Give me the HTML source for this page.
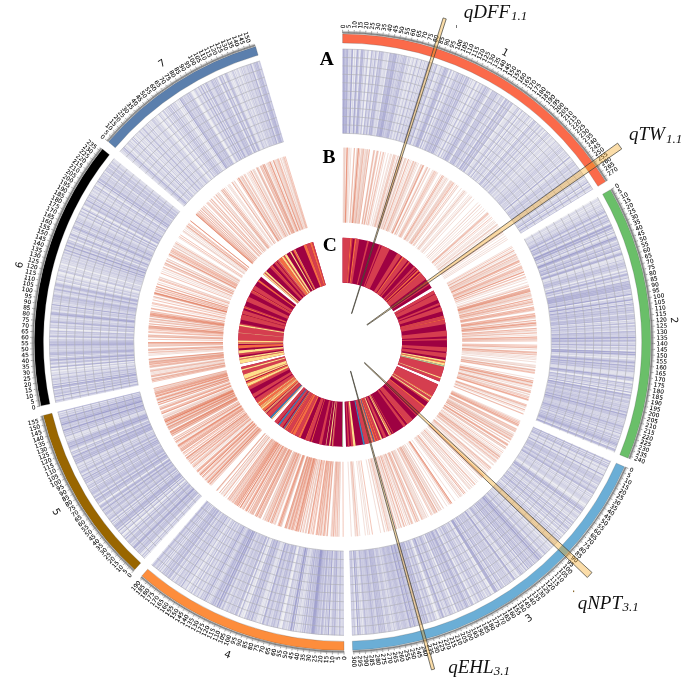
<!DOCTYPE html>
<html><head><meta charset="utf-8"><title>Circos</title>
<style>html,body{margin:0;padding:0;background:#fff;}svg{display:block;}</style>
</head><body><svg width="685" height="685" viewBox="0 0 685 685"><path d="M342.6 49A293.2 293.2 0 0 1 592.86 189.44L520.91 233.36A208.9 208.9 0 0 0 342.6 133.3Z" fill="#efeff2"/><path d="M597.41 197.15A293.2 293.2 0 0 1 614.26 452.51L536.15 420.79A208.9 208.9 0 0 0 524.15 238.86Z" fill="#efeff2"/><path d="M610.76 460.75A293.2 293.2 0 0 1 352.17 635.24L349.42 550.99A208.9 208.9 0 0 0 533.66 426.67Z" fill="#efeff2"/><path d="M343.93 635.4A293.2 293.2 0 0 1 151.6 564.65L206.51 500.69A208.9 208.9 0 0 0 343.55 551.1Z" fill="#efeff2"/><path d="M144.78 558.61A293.2 293.2 0 0 1 57.8 411.89L139.69 391.85A208.9 208.9 0 0 0 201.66 496.39Z" fill="#efeff2"/><path d="M55.72 402.76A293.2 293.2 0 0 1 114.1 158.48L179.8 211.3A208.9 208.9 0 0 0 138.2 385.35Z" fill="#efeff2"/><path d="M119.82 151.59A293.2 293.2 0 0 1 259.82 60.93L283.62 141.8A208.9 208.9 0 0 0 183.87 206.39Z" fill="#efeff2"/><path d="M342.82 133.3L342.91 49M342.89 133.3L343.01 49M343.71 133.3L344.16 49M344.17 133.31L344.8 49.01M344.33 133.31L345.02 49.01M344.79 133.31L345.67 49.02M345.35 133.32L346.46 49.03M345.57 133.32L346.77 49.03M345.78 133.32L347.06 49.03M345.95 133.33L347.3 49.04M346.8 133.34L348.5 49.06M347.62 133.36L349.64 49.08M347.83 133.37L349.95 49.09M348.29 133.38L350.59 49.11M348.95 133.4L351.51 49.14M349.78 133.42L352.68 49.17M349.85 133.43L352.78 49.18M351.29 133.48L354.8 49.25M351.48 133.49L355.07 49.27M353.43 133.58L357.79 49.39M353.87 133.6L358.41 49.43M354.25 133.63L358.95 49.46M354.3 133.63L359.03 49.46M355.66 133.71L360.94 49.57M355.94 133.73L361.33 49.6M356.09 133.74L361.54 49.61M356.21 133.74L361.7 49.62M356.24 133.75L361.74 49.63M356.35 133.75L361.9 49.64M356.6 133.77L362.26 49.66M357.19 133.81L363.08 49.72M357.7 133.85L363.79 49.77M358.34 133.89L364.7 49.83M358.47 133.9L364.87 49.85M358.63 133.92L365.09 49.86M359.82 134.01L366.78 50M360.57 134.07L367.82 50.09M361.01 134.11L368.43 50.14M363.27 134.33L371.61 50.44M363.66 134.36L372.16 50.49M364.01 134.4L372.65 50.54M364.08 134.41L372.75 50.55M364.95 134.5L373.97 50.68M365.08 134.51L374.16 50.7M366.02 134.62L375.47 50.85M366.3 134.65L375.86 50.89M366.53 134.68L376.19 50.93M367.1 134.74L376.99 51.02M367.5 134.79L377.54 51.09M369.46 135.03L380.3 51.43M369.57 135.05L380.45 51.45M369.89 135.09L380.9 51.51M370.19 135.13L381.32 51.57M371.23 135.27L382.79 51.77M371.46 135.3L383.1 51.81M372.72 135.48L384.87 52.06M373.51 135.6L385.98 52.23M374.01 135.67L386.68 52.33M374.63 135.77L387.56 52.47M374.98 135.82L388.04 52.54M376.77 136.11L390.56 52.95M376.87 136.13L390.7 52.97M377.52 136.24L391.62 53.13M377.64 136.26L391.78 53.15M377.75 136.28L391.93 53.18M377.9 136.3L392.15 53.22M378.25 136.36L392.64 53.3M378.37 136.39L392.81 53.33M378.6 136.43L393.13 53.39M379.31 136.55L394.13 53.56M379.39 136.57L394.24 53.58M379.52 136.59L394.42 53.62M379.67 136.61L394.63 53.65M379.74 136.63L394.73 53.67M379.82 136.64L394.84 53.69M380.12 136.7L395.26 53.77M380.36 136.74L395.6 53.83M380.64 136.79L395.99 53.9M381.38 136.93L397.02 54.1M383.23 137.29L399.63 54.6M383.71 137.38L400.3 54.73M384.01 137.45L400.72 54.82M384.69 137.58L401.67 55.01M385.8 137.82L403.23 55.34M387.21 138.12L405.21 55.76M387.43 138.17L405.52 55.83M387.76 138.24L405.99 55.93M388.18 138.33L406.57 56.06M388.45 138.39L406.95 56.15M388.95 138.51L407.65 56.31M389.82 138.71L408.87 56.59M392.37 139.32L412.46 57.44M393.78 139.67L414.44 57.94M394.98 139.97L416.12 58.37M396.57 140.39L418.34 58.95M397.01 140.51L418.97 59.12M397.97 140.77L420.32 59.49M400.05 141.36L423.23 60.31M400.38 141.45L423.7 60.44M401.4 141.75L425.13 60.86M402.43 142.05L426.57 61.28M402.66 142.12L426.89 61.38M403.41 142.35L427.94 61.7M403.85 142.48L428.57 61.89M404.08 142.55L428.89 61.99M406.02 143.16L431.61 62.84M406.83 143.42L432.75 63.2M407.71 143.71L433.99 63.61M407.85 143.75L434.18 63.67M409.12 144.17L435.96 64.26M409.69 144.37L436.76 64.53M410.34 144.59L437.68 64.84M411.55 145.01L439.37 65.43M412.43 145.32L440.61 65.87M415.12 146.29L444.38 67.23M415.63 146.48L445.1 67.5M415.82 146.55L445.37 67.6M416.51 146.81L446.33 67.96M416.86 146.94L446.83 68.15M417.86 147.33L448.23 68.69M418.38 147.53L448.97 68.97M419.85 148.11L451.02 69.78M420.59 148.4L452.06 70.2M422.16 149.04L454.26 71.1M422.9 149.35L455.3 71.52M423.56 149.63L456.23 71.91M424.06 149.84L456.94 72.21M424.26 149.92L457.21 72.33M425.23 150.33L458.57 72.91M425.55 150.47L459.02 73.1M425.57 150.48L459.05 73.12M425.76 150.57L459.32 73.24M426.98 151.1L461.04 73.99M427.2 151.2L461.34 74.12M427.47 151.32L461.72 74.29M427.64 151.39L461.96 74.4M428.08 151.59L462.58 74.67M428.69 151.86L463.43 75.05M429.7 152.32L464.85 75.7M429.77 152.36L464.94 75.75M430.04 152.48L465.32 75.92M430.72 152.8L466.28 76.36M431.22 153.03L466.98 76.69M431.62 153.22L467.55 76.96M431.98 153.39L468.05 77.19M432.92 153.83L469.37 77.82M433.88 154.3L470.71 78.47M434.1 154.41L471.02 78.62M434.31 154.51L471.32 78.77M435.23 154.96L472.61 79.4M435.42 155.05L472.88 79.53M435.63 155.16L473.17 79.68M436.72 155.71L474.7 80.45M437.69 156.2L476.07 81.14M437.95 156.33L476.42 81.32M438.03 156.37L476.54 81.38M438.72 156.73L477.5 81.88M440.79 157.81L480.41 83.41M440.98 157.92L480.68 83.55M441.66 158.28L481.64 84.07M442.33 158.64L482.57 84.57M442.56 158.77L482.9 84.75M443.02 159.02L483.54 85.09M443.44 159.25L484.13 85.42M444.47 159.82L485.58 86.22M444.9 160.07L486.19 86.57M445 160.12L486.33 86.64M445.34 160.31L486.81 86.91M446.47 160.96L488.39 87.82M447.25 161.41L489.49 88.45M447.34 161.46L489.61 88.52M447.66 161.64L490.06 88.78M448.16 161.93L490.75 89.18M449.59 162.78L492.76 90.37M449.76 162.88L493 90.51M450.23 163.16L493.66 90.91M450.31 163.21L493.78 90.98M451.55 163.96L495.52 92.04M451.71 164.06L495.74 92.17M451.77 164.1L495.83 92.22M452.08 164.29L496.26 92.49M452.23 164.38L496.47 92.62M452.85 164.76L497.34 93.16M452.9 164.79L497.41 93.2M453.47 165.15L498.22 93.7M453.71 165.3L498.54 93.91M454.04 165.5L499 94.2M454.38 165.72L499.48 94.5M454.77 165.97L500.03 94.85M456.41 167.03L502.34 96.34M456.82 167.29L502.92 96.71M456.9 167.35L503.03 96.78M457.31 167.61L503.61 97.16M458.93 168.68L505.87 98.66M459.06 168.77L506.05 98.79M459.12 168.82L506.15 98.85M459.85 169.31L507.16 99.54M460.32 169.63L507.82 99.99M461.37 170.35L509.3 101M462.08 170.84L510.3 101.69M462.74 171.3L511.22 102.34M463.07 171.53L511.68 102.66M463.17 171.61L511.83 102.77M463.43 171.79L512.2 103.03M463.6 171.91L512.43 103.2M463.76 172.02L512.65 103.35M463.99 172.19L512.97 103.58M465.39 173.2L514.94 105M465.97 173.62L515.75 105.59M466.54 174.04L516.56 106.18M467.3 174.6L517.62 106.97M467.35 174.64L517.69 107.02M467.94 175.08L518.52 107.64M469.91 176.57L521.28 109.74M471 177.42L522.82 110.93M472.61 178.69L525.08 112.71M473.01 179.01L525.64 113.15M473.19 179.15L525.89 113.36M473.42 179.34L526.21 113.61M473.59 179.47L526.45 113.81M474.23 179.99L527.35 114.53M474.57 180.27L527.83 114.92M475.28 180.85L528.83 115.74M475.48 181.01L529.1 115.96M476.59 181.93L530.66 117.26M478.89 183.88L533.89 120M479.02 183.99L534.07 120.15M479.54 184.44L534.8 120.78M480.12 184.95L535.62 121.5M480.37 185.17L535.97 121.8M480.73 185.49L536.48 122.25M480.77 185.52L536.53 122.29M481.58 186.24L537.67 123.31M481.98 186.6L538.22 123.8M483.17 187.67L539.9 125.32M483.3 187.79L540.08 125.48M483.45 187.93L540.29 125.67M484.39 188.79L541.6 126.88M484.88 189.25L542.3 127.52M485.29 189.62L542.87 128.05M485.63 189.95L543.35 128.51M485.79 190.1L543.57 128.71M486.53 190.79L544.61 129.69M487.82 192.03L546.43 131.44M487.94 192.15L546.59 131.6M488.36 192.56L547.19 132.17M488.49 192.69L547.37 132.35M488.6 192.79L547.52 132.5M488.96 193.15L548.03 133M489.09 193.27L548.21 133.17M489.42 193.59L548.66 133.62M490.83 195L550.64 135.6M491.65 195.83L551.8 136.77M492.57 196.78L553.09 138.09M492.98 197.19L553.66 138.68M493.12 197.35L553.86 138.89M493.88 198.14L554.92 140M494.42 198.71L555.69 140.81M494.88 199.19L556.33 141.48M495.34 199.69L556.98 142.18M495.63 200L557.38 142.62M496.66 201.11L558.82 144.18M497.33 201.85L559.77 145.21M497.4 201.93L559.87 145.33M498 202.59L560.71 146.26M498.78 203.47L561.81 147.49M498.87 203.57L561.93 147.62M498.92 203.62L562 147.7M498.93 203.64L562.02 147.72M499.63 204.42L562.99 148.83M499.96 204.81L563.47 149.37M500.92 205.91L564.81 150.91M501.66 206.78L565.85 152.13M501.94 207.11L566.24 152.59M502.02 207.21L566.36 152.73M502.24 207.47L566.67 153.1M503 208.37L567.73 154.36M503.45 208.9L568.35 155.11M503.49 208.96L568.42 155.19M504.39 210.06L569.68 156.73M504.67 210.4L570.08 157.21M504.77 210.52L570.21 157.37M504.87 210.64L570.35 157.55M505.58 211.52L571.34 158.78M506.81 213.07L573.07 160.96M507.06 213.38L573.42 161.4M507.49 213.94L574.03 162.18M507.58 214.05L574.15 162.34M508.25 214.92L575.09 163.56M508.45 215.19L575.38 163.94M508.51 215.26L575.46 164.03M508.53 215.29L575.5 164.08M509.35 216.37L576.64 165.59M509.62 216.73L577.02 166.09M509.74 216.88L577.18 166.31M510.36 217.71L578.05 167.48M510.52 217.94L578.29 167.8M511.47 219.23L579.62 169.61M511.62 219.43L579.82 169.88M512.05 220.03L580.43 170.73M512.43 220.55L580.96 171.47M512.91 221.23L581.64 172.42M513.03 221.39L581.8 172.64M513.66 222.29L582.69 173.9M513.85 222.56L582.95 174.28M514.17 223.02L583.41 174.93M514.39 223.34L583.71 175.38M515.83 225.44L585.73 178.33M516.06 225.79L586.05 178.81M516.4 226.3L586.53 179.52M517.48 227.93L588.05 181.82M517.58 228.09L588.2 182.05M518.81 229.99L589.92 184.72M519.38 230.91L590.72 185.99M519.98 231.85L591.56 187.32M520.16 232.15L591.81 187.74M520.8 233.18L592.71 189.19" stroke="#8c8cc8" stroke-opacity="0.32" stroke-width="0.5" fill="none"/><path d="M342.95 133.3L343.09 49M343.25 133.3L343.52 49M343.55 133.3L343.94 49M344.22 133.31L344.87 49.01M345.2 133.32L346.26 49.02M346.15 133.33L347.58 49.04M346.45 133.34L348 49.05M349.22 133.4L351.89 49.15M349.55 133.42L352.35 49.16M349.6 133.42L352.43 49.16M352.93 133.56L357.1 49.36M353.06 133.56L357.29 49.37M353.42 133.58L357.78 49.39M356.96 133.79L362.75 49.69M357.3 133.82L363.24 49.73M360.81 134.1L368.16 50.12M363.52 134.35L371.97 50.47M366.42 134.66L376.04 50.91M368.83 134.95L379.41 51.32M369 134.98L379.66 51.35M370.58 135.18L381.88 51.64M370.89 135.22L382.31 51.7M371.89 135.36L383.7 51.9M376.34 136.04L389.96 52.85M376.94 136.14L390.8 52.99M379.02 136.5L393.72 53.49M380.57 136.78L395.9 53.88M380.91 136.84L396.37 53.97M381.41 136.94L397.07 54.1M382.33 137.11L398.37 54.35M382.77 137.2L398.98 54.47M384.76 137.6L401.77 55.03M385.7 137.8L403.1 55.31M386.55 137.98L404.29 55.56M386.81 138.03L404.65 55.64M387.95 138.28L406.25 55.99M390.1 138.77L409.27 56.68M390.99 138.98L410.52 56.97M393.29 139.54L413.75 57.76M395.78 140.18L417.24 58.66M395.91 140.22L417.43 58.71M398.89 141.03L421.61 59.85M399.12 141.09L421.93 59.94M401.49 141.77L425.25 60.89M403.82 142.47L428.53 61.87M404.27 142.61L429.16 62.07M404.76 142.76L429.84 62.28M407.27 143.56L433.37 63.4M408.8 144.07L435.51 64.11M409.79 144.4L436.91 64.58M410.02 144.48L437.23 64.69M413.1 145.56L441.56 66.2M413.52 145.71L442.14 66.41M414.42 146.04L443.41 66.87M415.45 146.41L444.85 67.41M416.21 146.7L445.92 67.81M416.31 146.73L446.05 67.86M417.18 147.07L447.27 68.32M417.41 147.16L447.6 68.45M418.05 147.4L448.49 68.79M419.8 148.09L450.96 69.76M420.26 148.27L451.6 70.01M422.05 149L454.11 71.03M424.51 150.03L457.56 72.48M425.15 150.3L458.46 72.86M426.55 150.91L460.43 73.72M428.34 151.71L462.94 74.83M428.53 151.79L463.2 74.95M429.38 152.18L464.39 75.49M430.99 152.92L466.66 76.54M431.33 153.08L467.14 76.77M432.29 153.53L468.48 77.4M432.58 153.67L468.89 77.59M432.99 153.87L469.46 77.87M438.23 156.47L476.82 81.52M440.37 157.59L479.83 83.09M442.76 158.88L483.18 84.9M444.08 159.6L485.03 85.92M444.7 159.95L485.9 86.4M445.18 160.22L486.57 86.78M445.98 160.67L487.69 87.42M446.23 160.82L488.05 87.62M446.94 161.23L489.05 88.2M449.75 162.87L492.98 90.5M450.73 163.46L494.36 91.33M451.16 163.72L494.97 91.7M452.66 164.64L497.07 92.99M452.94 164.82L497.47 93.24M455.71 166.57L501.35 95.7M456.08 166.81L501.88 96.04M457.6 167.8L504 97.42M459.25 168.9L506.33 98.97M459.65 169.17L506.88 99.35M459.89 169.34L507.22 99.58M460.81 169.96L508.51 100.46M461.1 170.16L508.92 100.74M461.51 170.44L509.49 101.13M462.7 171.28L511.17 102.3M463.87 172.1L512.81 103.46M467.79 174.97L518.31 107.48M468.5 175.5L519.31 108.23M468.72 175.67L519.62 108.47M470.68 177.17L522.36 110.57M470.77 177.24L522.49 110.67M472.18 178.35L524.47 112.22M475.43 180.97L529.04 115.91M476.12 181.54L530 116.71M477.6 182.78L532.08 118.45M478.98 183.96L534.01 120.1M479.73 184.61L535.07 121.02M479.95 184.8L535.38 121.28M482.05 186.66L538.33 123.9M482.83 187.36L539.42 124.88M483.54 188L540.41 125.78M485.15 189.49L542.67 127.87M486.75 191.01L544.93 130M489.17 193.35L548.32 133.28M490.09 194.26L549.6 134.56M490.58 194.75L550.3 135.25M492.13 196.32L552.47 137.45M494.61 198.91L555.96 141.09M496.16 200.57L558.13 143.42M496.97 201.45L559.26 144.66M498.25 202.87L561.06 146.65M499.49 204.27L562.8 148.61M500.2 205.08L563.79 149.74M501.2 206.24L565.21 151.38M502.83 208.16L567.48 154.07M504.38 210.04L569.66 156.71M504.54 210.23L569.89 156.98M506.3 212.42L572.35 160.05M507.2 213.57L573.63 161.67M507.9 214.47L574.61 162.93M508.81 215.66L575.89 164.59M510.07 217.33L577.65 166.93M510.94 218.5L578.87 168.58M511.51 219.28L579.67 169.68M514.79 223.92L584.28 176.19M515.11 224.39L584.73 176.85M516.64 226.67L586.88 180.04M517.04 227.26L587.43 180.88M517.53 228.01L588.12 181.93M517.55 228.04L588.15 181.97M518.44 229.42L589.4 183.91M519.2 230.61L590.46 185.57M519.34 230.84L590.67 185.91M519.6 231.25L591.03 186.47M520.76 233.12L592.65 189.1" stroke="#7c7cbc" stroke-opacity="0.5" stroke-width="0.55" fill="none"/><path d="M524.73 239.89L598.23 198.6M524.89 240.18L598.46 199.01M525.23 240.78L598.93 199.85M525.39 241.07L599.15 200.25M525.96 242.12L599.96 201.73M526.2 242.55L600.29 202.33M526.7 243.48L601 203.65M526.83 243.72L601.17 203.98M527.48 244.95L602.09 205.7M527.56 245.09L602.2 205.91M528.73 247.37L603.85 209.1M528.93 247.75L604.12 209.64M529.32 248.53L604.67 210.73M529.48 248.85L604.9 211.18M529.53 248.94L604.96 211.3M529.58 249.05L605.04 211.47M530.36 250.64L606.14 213.69M530.76 251.45L606.69 214.83M530.85 251.65L606.82 215.1M531.01 251.97L607.04 215.56M531.04 252.03L607.08 215.65M531.29 252.56L607.44 216.39M531.57 253.15L607.83 217.22M531.63 253.27L607.91 217.39M531.71 253.45L608.03 217.64M531.73 253.5L608.06 217.71M532.04 254.16L608.49 218.64M532.32 254.77L608.88 219.49M533.1 256.46L609.97 221.87M533.61 257.61L610.69 223.47M533.71 257.84L610.83 223.8M533.97 258.43L611.19 224.62M534.2 258.96L611.52 225.37M534.34 259.29L611.72 225.84M534.74 260.22L612.28 227.13M534.75 260.24L612.29 227.16M534.81 260.38L612.37 227.36M534.93 260.67L612.55 227.77M535.27 261.47L613.02 228.89M535.71 262.53L613.64 230.38M536.18 263.69L614.3 232.01M536.19 263.71L614.32 232.04M536.25 263.85L614.4 232.23M536.3 263.97L614.47 232.41M536.3 263.98L614.47 232.42M536.46 264.38L614.69 232.97M536.87 265.41L615.27 234.42M537.15 266.1L615.65 235.39M537.17 266.16L615.69 235.47M537.31 266.53L615.89 236M537.48 266.95L616.12 236.58M537.65 267.4L616.36 237.22M538.74 270.31L617.89 241.3M538.85 270.62L618.05 241.73M538.96 270.9L618.2 242.13M539.05 271.15L618.32 242.47M539.16 271.47L618.48 242.92M539.3 271.87L618.68 243.48M539.37 272.05L618.77 243.74M539.61 272.74L619.12 244.71M539.97 273.75L619.62 246.13M540.2 274.43L619.94 247.08M540.26 274.61L620.03 247.34M540.51 275.33L620.37 248.34M540.57 275.52L620.46 248.62M540.74 276.03L620.7 249.33M541.13 277.21L621.25 250.98M541.32 277.79L621.52 251.8M541.44 278.14L621.67 252.29M541.6 278.66L621.91 253.02M541.85 279.43L622.25 254.1M541.87 279.49L622.28 254.19M541.92 279.66L622.35 254.42M541.96 279.78L622.41 254.6M542.15 280.42L622.68 255.49M542.49 281.5L623.15 257.01M542.73 282.29L623.49 258.12M543 283.22L623.87 259.43M543.29 284.19L624.27 260.79M543.38 284.51L624.4 261.22M543.52 285.03L624.61 261.96M543.7 285.67L624.86 262.85M543.77 285.9L624.95 263.18M543.94 286.51L625.19 264.04M544.08 287L625.38 264.73M544.14 287.24L625.47 265.06M544.24 287.61L625.61 265.58M544.36 288.05L625.78 266.19M544.47 288.46L625.93 266.77M544.54 288.72L626.03 267.14M544.65 289.14L626.18 267.73M544.73 289.44L626.29 268.15M545.11 290.94L626.84 270.25M545.2 291.27L626.95 270.72M545.26 291.53L627.04 271.08M545.29 291.66L627.09 271.27M545.32 291.76L627.12 271.4M545.59 292.86L627.5 272.94M545.8 293.72L627.8 274.16M545.86 293.99L627.88 274.53M545.87 294.03L627.9 274.6M545.98 294.49L628.05 275.23M546.13 295.12L628.26 276.12M546.23 295.57L628.4 276.76M546.33 296.01L628.54 277.36M546.42 296.41L628.67 277.92M546.67 297.52L629.02 279.49M546.86 298.42L629.29 280.75M546.94 298.77L629.39 281.24M546.99 299.03L629.47 281.61M547 299.09L629.49 281.69M547.17 299.88L629.72 282.8M547.21 300.1L629.78 283.11M547.4 301.02L630.05 284.4M547.52 301.63L630.22 285.25M547.6 302.02L630.33 285.81M547.86 303.38L630.69 287.72M547.89 303.51L630.73 287.9M548.11 304.69L631.04 289.56M548.29 305.73L631.3 291.02M548.31 305.84L631.32 291.17M548.35 306.04L631.38 291.45M548.46 306.66L631.53 292.32M548.61 307.59L631.75 293.62M548.74 308.34L631.92 294.68M549.09 310.57L632.42 297.8M549.14 310.88L632.49 298.25M549.17 311.07L632.53 298.51M549.44 312.91L632.9 301.08M549.7 314.82L633.27 303.78M549.72 314.96L633.3 303.97M549.84 315.88L633.46 305.26M549.94 316.69L633.61 306.39M549.98 317.04L633.67 306.89M550.02 317.37L633.72 307.35M550.17 318.66L633.93 309.16M550.28 319.62L634.08 310.51M550.39 320.69L634.24 312.01M550.42 320.96L634.28 312.38M550.43 321.07L634.3 312.55M550.54 322.17L634.45 314.09M550.55 322.31L634.47 314.28M550.59 322.67L634.52 314.79M550.59 322.78L634.53 314.94M550.61 322.99L634.56 315.24M550.65 323.34L634.6 315.73M550.69 323.79L634.66 316.36M550.73 324.27L634.72 317.04M550.76 324.61L634.76 317.51M550.76 324.62L634.76 317.53M550.81 325.2L634.83 318.34M550.83 325.43L634.85 318.66M550.84 325.65L634.88 318.98M551.01 327.89L635.11 322.12M551.03 328.14L635.14 322.47M551.04 328.38L635.16 322.81M551.06 328.71L635.19 323.27M551.13 329.84L635.29 324.85M551.19 330.74L635.36 326.12M551.19 330.88L635.37 326.31M551.21 331.22L635.39 326.79M551.21 331.23L635.4 326.8M551.29 332.84L635.51 329.07M551.3 333.1L635.52 329.43M551.36 334.48L635.6 331.37M551.38 334.99L635.63 332.09M551.43 336.71L635.7 334.5M551.44 337.32L635.72 335.36M551.45 337.48L635.73 335.57M551.45 337.56L635.73 335.68M551.46 338.06L635.74 336.39M551.47 338.69L635.76 337.28M551.49 339.77L635.78 338.79M551.49 340.28L635.79 339.51M551.49 340.36L635.79 339.61M551.5 340.82L635.79 340.26M551.5 340.92L635.79 340.41M551.5 341.02L635.8 340.54M551.5 341.16L635.8 340.74M551.5 342.6L635.8 342.76M551.5 343.16L635.8 343.55M551.5 343.3L635.8 343.75M551.49 344.2L635.79 345M551.49 344.3L635.79 345.15M551.48 345.01L635.77 346.15M551.45 346.71L635.73 348.53M551.44 347L635.72 348.94M551.43 347.45L635.71 349.57M551.43 347.71L635.7 349.93M551.38 349.34L635.63 352.23M551.36 349.77L635.61 352.83M551.35 350.14L635.59 353.35M551.28 351.83L635.49 355.71M551.26 352.3L635.46 356.38M551.21 353.23L635.39 357.69M551.19 353.51L635.37 358.07M551.11 354.99L635.25 360.15M551.09 355.22L635.23 360.48M551.07 355.64L635.19 361.06M551.02 356.36L635.13 362.07M550.98 356.94L635.07 362.89M550.95 357.29L635.03 363.38M550.94 357.52L635.01 363.7M550.9 357.98L634.96 364.35M550.9 358.06L634.95 364.46M550.82 358.99L634.85 365.76M550.82 359.05L634.84 365.86M550.79 359.4L634.8 366.34M550.73 360.11L634.72 367.33M550.72 360.26L634.7 367.55M550.67 360.79L634.64 368.3M550.66 360.91L634.62 368.46M550.64 361.16L634.59 368.81M550.61 361.47L634.55 369.25M550.55 362.1L634.47 370.13M550.5 362.63L634.39 370.87M550.5 362.65L634.39 370.91M550.44 363.2L634.31 371.68M550.39 363.74L634.24 372.43M550.32 364.36L634.15 373.31M550.23 365.18L634.02 374.46M550.13 366.07L633.88 375.7M550.02 366.99L633.73 376.99M550 367.2L633.69 377.28M549.95 367.57L633.63 377.81M549.91 367.91L633.57 378.29M549.89 368.06L633.55 378.49M549.88 368.18L633.52 378.67M549.8 368.81L633.41 379.54M549.75 369.17L633.35 380.05M549.66 369.86L633.22 381.03M549.65 369.93L633.21 381.12M549.36 371.99L632.8 384.02M549.09 373.85L632.41 386.63M548.92 374.95L632.18 388.16M548.9 375.08L632.15 388.35M548.84 375.43L632.07 388.84M548.81 375.6L632.03 389.07M548.35 378.31L631.39 392.89M548.04 380.04L630.95 395.31M547.9 380.8L630.75 396.38M547.67 382.01L630.43 398.07M547.62 382.27L630.36 398.44M547.5 382.88L630.19 399.3M547.37 383.56L630 400.25M547.27 384.01L629.87 400.88M547.21 384.31L629.78 401.31M546.89 385.83L629.33 403.43M546.54 387.46L628.84 405.72M546.44 387.91L628.69 406.36M546.44 387.91L628.69 406.36M546.35 388.32L628.57 406.93M546.31 388.5L628.51 407.18M546.24 388.78L628.42 407.58M546.14 389.2L628.28 408.17M546.09 389.44L628.2 408.51M545.87 390.36L627.9 409.8M545.83 390.53L627.84 410.04M545.73 390.96L627.7 410.63M545.7 391.09L627.66 410.83M545.56 391.68L627.46 411.64M545.49 391.96L627.36 412.04M545.44 392.16L627.29 412.31M545.26 392.87L627.05 413.31M545.18 393.21L626.92 413.79M545.01 393.86L626.69 414.71M544.97 394.04L626.63 414.96M544.83 394.58L626.44 415.71M544.81 394.66L626.4 415.83M544.77 394.81L626.35 416.05M544.54 395.69L626.02 417.28M544.48 395.91L625.94 417.58M544.4 396.19L625.84 417.98M544.36 396.34L625.78 418.19M544.29 396.62L625.68 418.58M544.27 396.69L625.65 418.67M544.16 397.11L625.49 419.26M544.02 397.61L625.3 419.97M543.92 397.97L625.16 420.48M543.81 398.35L625.01 421.01M543.63 398.98L624.76 421.9M543.62 399.03L624.74 421.96M543.32 400.07L624.32 423.43M542.89 401.55L623.72 425.5M542.88 401.6L623.7 425.58M542.73 402.09L623.49 426.26M542.41 403.15L623.04 427.75M542.28 403.58L622.86 428.35M542.16 403.95L622.7 428.87M542.15 404.01L622.67 428.95M542.05 404.31L622.54 429.37M541.77 405.22L622.14 430.65M541.66 405.56L621.99 431.13M541.4 406.38L621.62 432.28M541.25 406.84L621.41 432.92M540.69 408.54L620.62 435.31M540.48 409.14L620.34 436.15M540.2 409.96L619.95 437.31M540.05 410.41L619.73 437.94M539.63 411.62L619.14 439.63M539.62 411.66L619.12 439.69M539.43 412.17L618.86 440.4M539.21 412.8L618.55 441.29M539.17 412.9L618.5 441.43M539.1 413.11L618.39 441.73M538.83 413.85L618.01 442.77M538.6 414.47L617.69 443.64M538.35 415.14L617.35 444.57M538.33 415.19L617.32 444.64M538.08 415.87L616.96 445.6M537.95 416.21L616.78 446.08M537.74 416.76L616.49 446.85M537.06 418.53L615.53 449.33M537.01 418.65L615.46 449.5M536.97 418.74L615.41 449.63M536.77 419.25L615.13 450.35M536.67 419.5L614.99 450.7" stroke="#8c8cc8" stroke-opacity="0.32" stroke-width="0.5" fill="none"/><path d="M527.23 244.47L601.73 205.03M528.02 245.98L602.84 207.15M528.51 246.92L603.53 208.47M529 247.89L604.22 209.83M529.46 248.81L604.87 211.12M529.77 249.44L605.31 212M529.95 249.79L605.55 212.49M530.83 251.6L606.79 215.03M531.08 252.13L607.15 215.78M531.99 254.05L608.42 218.48M532.43 254.99L609.03 219.8M532.59 255.34L609.25 220.29M532.64 255.45L609.33 220.45M532.95 256.14L609.77 221.42M533.94 258.37L611.16 224.54M534.02 258.54L611.26 224.78M534.14 258.83L611.44 225.19M534.27 259.11L611.61 225.58M534.43 259.5L611.84 226.12M534.88 260.53L612.47 227.58M534.99 260.81L612.63 227.97M535.21 261.32L612.93 228.68M535.69 262.47L613.6 230.29M537.54 267.11L616.2 236.81M537.61 267.29L616.3 237.06M537.64 267.38L616.35 237.18M537.8 267.8L616.58 237.78M537.95 268.18L616.78 238.3M537.98 268.28L616.83 238.45M538.17 268.76L617.09 239.13M538.34 269.23L617.33 239.78M539.46 272.31L618.9 244.11M539.57 272.63L619.06 244.55M539.98 273.79L619.63 246.19M540.34 274.83L620.13 247.65M540.61 275.64L620.52 248.78M540.68 275.85L620.62 249.08M541.55 278.49L621.83 252.79M541.68 278.92L622.02 253.38M541.83 279.37L622.22 254.01M543.03 283.33L623.92 259.57M543.62 285.38L624.74 262.45M543.88 286.29L625.1 263.73M544.23 287.56L625.59 265.51M545.67 293.17L627.61 273.39M545.76 293.58L627.75 273.96M545.92 294.26L627.98 274.92M546.4 296.32L628.64 277.8M546.92 298.68L629.37 281.12M547.12 299.64L629.65 282.47M547.29 300.49L629.9 283.66M547.35 300.79L629.98 284.08M547.43 301.16L630.09 284.59M547.58 301.92L630.3 285.66M547.64 302.21L630.38 286.07M547.76 302.84L630.55 286.95M547.8 303.04L630.6 287.24M547.94 303.8L630.8 288.3M547.97 303.97L630.85 288.54M548.2 305.2L631.16 290.27M548.51 306.96L631.6 292.74M548.66 307.86L631.81 294M548.67 307.93L631.83 294.1M548.69 308.04L631.85 294.25M548.99 309.9L632.27 296.87M549.25 311.65L632.65 299.32M549.26 311.69L632.66 299.38M549.29 311.92L632.7 299.7M549.33 312.16L632.75 300.03M549.53 313.58L633.04 302.03M549.69 314.77L633.26 303.71M549.71 314.88L633.28 303.85M549.82 315.79L633.45 305.14M550.03 317.48L633.74 307.51M550.12 318.2L633.86 308.52M550.22 319.11L634 309.79M550.25 319.38L634.05 310.18M550.35 320.27L634.18 311.42M550.68 323.71L634.65 316.25M550.82 325.39L634.85 318.61M550.94 326.93L635.02 320.76M551.06 328.67L635.18 323.2M551.16 330.24L635.32 325.41M551.26 332.21L635.46 328.17M551.35 334.26L635.59 331.05M551.37 334.75L635.61 331.74M551.39 335.56L635.65 332.88M551.41 336.22L635.68 333.81M551.47 338.55L635.76 337.07M551.47 338.79L635.76 337.42M551.47 338.88L635.76 337.54M551.48 339.27L635.77 338.09M551.5 341.34L635.8 340.99M551.5 341.86L635.8 341.73M551.49 344.35L635.78 345.22M551.48 344.82L635.78 345.87M551.46 346.24L635.75 347.87M551.38 349.2L635.64 352.02M551.37 349.65L635.61 352.65M551.36 349.72L635.61 352.76M551.33 350.64L635.56 354.05M551.31 351.01L635.54 354.56M551.31 351.13L635.53 354.73M551.3 351.34L635.52 355.03M551.04 356.1L635.15 361.71M550.99 356.74L635.09 362.61M550.98 356.92L635.07 362.87M550.8 359.27L634.82 366.15M550.78 359.57L634.78 366.58M550.6 361.53L634.54 369.33M550.43 363.29L634.3 371.8M549.92 367.85L633.58 378.2M549.87 368.22L633.52 378.72M549.74 369.26L633.33 380.18M549.34 372.17L632.77 384.26M549.29 372.5L632.7 384.73M549.16 373.37L632.52 385.95M548.96 374.7L632.23 387.81M548.66 376.53L631.81 390.39M548.42 377.92L631.48 392.34M548.4 378.06L631.45 392.53M548.08 379.86L631 395.06M548.04 380.08L630.94 395.37M547.97 380.41L630.85 395.84M547.88 380.94L630.71 396.58M547.72 381.74L630.5 397.7M547.58 382.47L630.3 398.73M547.15 384.6L629.7 401.71M547.04 385.13L629.54 402.46M546.93 385.67L629.38 403.22M546.69 386.77L629.05 404.76M546.05 389.61L628.15 408.75M545.46 392.06L627.32 412.19M545.34 392.57L627.15 412.9M544.93 394.2L626.57 415.18M544.89 394.34L626.52 415.38M544.62 395.36L626.15 416.81M543.37 399.91L624.39 423.19M543.08 400.9L623.99 424.59M542.66 402.34L623.39 426.6M542.6 402.53L623.31 426.87M542.48 402.93L623.14 427.44M541.99 404.51L622.45 429.66M541.56 405.88L621.84 431.58M541.04 407.47L621.12 433.8M540.99 407.62L621.05 434.03M540.26 409.79L620.03 437.07M539.97 410.65L619.61 438.27M539.56 411.82L619.04 439.92M538.96 413.49L618.2 442.26M538.67 414.28L617.79 443.36M538.54 414.64L617.61 443.87M538.27 415.37L617.23 444.9M538.24 415.43L617.19 444.99M537.92 416.3L616.74 446.2M537.51 417.36L616.16 447.69M536.93 418.84L615.36 449.77M536.71 419.4L615.04 450.55M536.52 419.88L614.77 451.23" stroke="#7c7cbc" stroke-opacity="0.5" stroke-width="0.55" fill="none"/><path d="M533.39 427.27L610.39 461.6M533.03 428.08L609.88 462.74M532.58 429.08L609.24 464.14M532.56 429.13L609.21 464.2M532.13 430.06L608.61 465.51M532.12 430.08L608.6 465.54M531.49 431.41L607.72 467.42M531.34 431.74L607.5 467.88M531.09 432.25L607.16 468.59M529.76 435L605.28 472.45M529.4 435.71L604.79 473.44M529.18 436.15L604.47 474.06M528.44 437.61L603.43 476.11M528.12 438.24L602.98 476.99M527.67 439.08L602.36 478.18M527.64 439.15L602.31 478.28M527.52 439.37L602.15 478.59M527.11 440.16L601.57 479.69M527.03 440.3L601.46 479.89M526.69 440.95L600.97 480.8M526.31 441.65L600.44 481.79M526.23 441.8L600.33 481.99M526.04 442.14L600.07 482.47M525.98 442.26L599.98 482.64M525.85 442.48L599.81 482.95M525.72 442.72L599.62 483.29M525.46 443.2L599.25 483.96M525.33 443.43L599.07 484.28M525.2 443.67L598.89 484.62M524.51 444.9L597.92 486.35M524.34 445.2L597.69 486.76M523.86 446.05L597 487.96M523.47 446.73L596.46 488.91M523.15 447.28L596.01 489.69M522.85 447.78L595.59 490.39M522.71 448.02L595.4 490.73M522.13 449L594.58 492.1M522 449.22L594.4 492.41M521.75 449.65L594.04 493.02M521.67 449.78L593.93 493.19M521.59 449.9L593.83 493.37M521.55 449.98L593.76 493.48M521.32 450.36L593.44 494M520.72 451.35L592.59 495.4M520.6 451.55L592.43 495.67M520.41 451.85L592.16 496.1M519.98 452.54L591.56 497.07M519.28 453.66L590.58 498.64M519.19 453.81L590.44 498.85M518.75 454.5L589.83 499.82M518.63 454.69L589.66 500.09M518.32 455.16L589.24 500.75M518.17 455.4L589.02 501.09M518.03 455.61L588.83 501.38M517.9 455.83L588.63 501.68M517.67 456.18L588.31 502.17M517.53 456.38L588.12 502.46M517.32 456.71L587.83 502.92M517.06 457.11L587.46 503.48M516.95 457.27L587.3 503.71M516.6 457.8L586.82 504.44M515.67 459.19L585.51 506.4M515.06 460.08L584.66 507.65M515 460.17L584.57 507.77M513.96 461.67L583.11 509.89M513.69 462.06L582.74 510.43M513.34 462.56L582.24 511.13M512.52 463.72L581.09 512.76M511.95 464.51L580.29 513.87M511.78 464.75L580.04 514.21M511.68 464.89L579.91 514.4M511.09 465.7L579.08 515.53M510.87 465.99L578.78 515.94M510.49 466.51L578.24 516.67M510.34 466.71L578.03 516.95M510.22 466.87L577.86 517.19M509.29 468.11L576.55 518.92M508.8 468.75L575.87 519.82M507.54 470.4L574.1 522.13M507.08 470.99L573.45 522.96M507.05 471.03L573.41 523.01M506.76 471.39L573.01 523.52M506.17 472.14L572.17 524.58M506.1 472.23L572.08 524.7M505.84 472.56L571.71 525.16M505.63 472.81L571.42 525.52M504.97 473.63L570.49 526.67M504.26 474.51L569.5 527.9M504.23 474.54L569.46 527.95M504.19 474.6L569.39 528.02M503.67 475.22L568.67 528.9M503.31 475.65L568.17 529.51M503.04 475.98L567.79 529.96M502.59 476.53L567.15 530.73M502.12 477.08L566.49 531.52M502.01 477.21L566.33 531.7M501.3 478.04L565.34 532.86M500.78 478.65L564.61 533.72M500.42 479.06L564.11 534.29M498.67 481.06L561.65 537.09M497.55 482.31L560.08 538.85M497.27 482.62L559.68 539.28M496.46 483.5L558.55 540.52M496.4 483.56L558.47 540.61M496.05 483.94L557.98 541.14M495.99 484.02L557.89 541.24M495.71 484.31L557.5 541.66M495.35 484.7L557 542.2M494.83 485.25L556.27 542.98M493.59 486.56L554.52 544.82M493.11 487.07L553.84 545.53M492.7 487.49L553.28 546.12M491.89 488.32L552.14 547.28M491.75 488.46L551.94 547.49M491.73 488.48L551.91 547.51M491.12 489.1L551.05 548.39M490.06 490.17L549.56 549.89M489.76 490.47L549.14 550.3M489.64 490.58L548.98 550.46M489.63 490.6L548.96 550.48M489.4 490.83L548.64 550.8M488 492.19L546.67 552.72M487.05 493.11L545.35 554M486.85 493.3L545.05 554.28M486.37 493.76L544.38 554.92M486.31 493.82L544.3 555M485.38 494.69L542.99 556.23M484.83 495.2L542.23 556.95M483.65 496.29L540.57 558.47M483.45 496.47L540.3 558.72M482.47 497.36L538.91 559.98M482.42 497.41L538.84 560.04M482.08 497.71L538.36 560.47M481.95 497.83L538.18 560.64M480.41 499.2L536.02 562.55M480.28 499.31L535.84 562.71M479.84 499.7L535.22 563.25M479.71 499.81L535.04 563.41M478.79 500.6L533.76 564.52M478.3 501.03L533.05 565.12M478.01 501.27L532.65 565.46M477.76 501.49L532.3 565.76M477.53 501.68L531.98 566.04M477.11 502.03L531.39 566.53M476.62 502.44L530.71 567.1M476.53 502.52L530.58 567.21M476.03 502.94L529.87 567.8M475.77 503.15L529.51 568.1M475.3 503.54L528.85 568.65M475.15 503.66L528.64 568.82M474.85 503.91L528.21 569.17M474.06 504.55L527.11 570.06M473.98 504.61L527 570.15M473.6 504.92L526.47 570.58M473.55 504.96L526.39 570.65M473.3 505.16L526.05 570.92M472.69 505.65L525.19 571.61M471.92 506.26L524.1 572.47M471.46 506.62L523.46 572.97M470.97 507L522.77 573.51M470.83 507.11L522.58 573.66M469.6 508.06L520.85 574.99M469.4 508.22L520.56 575.21M468.78 508.68L519.7 575.87M467.86 509.38L518.41 576.84M465.74 510.94L515.44 579.04M465.15 511.37L514.61 579.64M465.08 511.43L514.5 579.72M464.98 511.5L514.37 579.82M464.79 511.64L514.1 580.01M463.52 512.55L512.31 581.29M463.21 512.77L511.88 581.6M462.29 513.41L510.59 582.5M462.15 513.51L510.39 582.64M461.51 513.96L509.49 583.27M461.36 514.06L509.29 583.41M460.59 514.59L508.2 584.16M460.44 514.69L507.99 584.3M459.01 515.66L505.98 585.66M458.72 515.86L505.57 585.93M457.79 516.47L504.28 586.79M456.83 517.1L502.93 587.68M456.71 517.18L502.76 587.79M456.37 517.4L502.27 588.11M455.96 517.67L501.7 588.48M455.61 517.89L501.21 588.79M454.87 518.36L500.18 589.45M454.42 518.65L499.55 589.86M453.86 519.01L498.75 590.36M453.67 519.12L498.49 590.52M452.69 519.74L497.11 591.38M452.64 519.77L497.04 591.42M452.44 519.89L496.76 591.6M452.32 519.96L496.6 591.7M451.74 520.32L495.78 592.2M451.56 520.43L495.53 592.36M451.28 520.6L495.14 592.6M451.16 520.67L494.98 592.7M451.04 520.75L494.8 592.8M451.03 520.76L494.78 592.81M449.58 521.63L492.75 594.04M448.29 522.39L490.94 595.11M447.57 522.81L489.92 595.7M447.41 522.9L489.7 595.83M446.18 523.61L487.98 596.82M446.08 523.67L487.84 596.9M445.04 524.26L486.37 597.73M444.94 524.32L486.24 597.81M444.09 524.79L485.04 598.48M442.76 525.52L483.18 599.5M442.28 525.79L482.5 599.87M442.08 525.89L482.22 600.02M442 525.94L482.11 600.08M441.64 526.13L481.61 600.35M441.5 526.2L481.41 600.46M440.97 526.49L480.67 600.85M440.69 526.64L480.28 601.06M439.74 527.14L478.94 601.77M439.6 527.22L478.74 601.88M439.45 527.29L478.54 601.98M439.17 527.44L478.13 602.19M438.97 527.54L477.86 602.34M438.84 527.61L477.68 602.43M438.29 527.89L476.91 602.83M437.55 528.27L475.87 603.36M437.52 528.29L475.83 603.38M436 529.06L473.69 604.46M435.9 529.11L473.55 604.53M435.44 529.34L472.9 604.86M434.9 529.6L472.14 605.23M434.74 529.68L471.92 605.34M434.62 529.74L471.75 605.42M434.48 529.81L471.56 605.52M433.76 530.16L470.54 606.01M433.58 530.25L470.29 606.13M433.53 530.27L470.22 606.17M432.34 530.84L468.55 606.97M431.98 531.01L468.05 607.2M430.82 531.56L466.41 607.98M430.48 531.72L465.94 608.2M429.72 532.07L464.87 608.69M429.48 532.17L464.55 608.84M428.87 532.45L463.68 609.23M428.63 532.56L463.35 609.38M427.96 532.87L462.4 609.81M427.72 532.97L462.06 609.96M427.26 533.17L461.43 610.24M426.96 533.31L461.01 610.43M426.61 533.46L460.52 610.64M426.38 533.56L460.19 610.79M425.86 533.79L459.46 611.1M425.6 533.9L459.1 611.26M425.43 533.98L458.85 611.37M425.18 534.08L458.51 611.52M425 534.16L458.25 611.63M424.71 534.29L457.84 611.8M423.01 535L455.46 612.81M422.87 535.06L455.27 612.89M422.61 535.17L454.9 613.04M421.86 535.48L453.84 613.48M421.09 535.79L452.76 613.92M420.51 536.03L451.95 614.25M419.48 536.44L450.51 614.82M419.43 536.46L450.43 614.85M419.39 536.47L450.38 614.87M418.95 536.65L449.76 615.12M418.47 536.83L449.09 615.38M418.37 536.88L448.94 615.43M417.44 537.23L447.65 615.94M417.43 537.24L447.63 615.94M416.85 537.46L446.82 616.25M416.57 537.56L446.42 616.4M415.48 537.97L444.89 616.98M414.86 538.2L444.03 617.3M414.38 538.38L443.35 617.55M413.9 538.56L442.67 617.8M411.96 539.25L439.95 618.77M410.07 539.91L437.29 619.69M409.77 540.01L436.87 619.83M408.98 540.27L435.76 620.2M408.7 540.37L435.37 620.34M407.72 540.69L434 620.79M407.39 540.8L433.54 620.94M406.67 541.03L432.53 621.27M406.54 541.07L432.34 621.33M406.44 541.11L432.21 621.37M406.21 541.18L431.88 621.48M405.34 541.46L430.66 621.86M405.02 541.55L430.22 622M404.06 541.85L428.87 622.42M403.9 541.9L428.64 622.49M403.78 541.94L428.47 622.54M402.9 542.21L427.23 622.92M402.43 542.35L426.57 623.12M402.17 542.43L426.21 623.23M402.06 542.46L426.05 623.27M401.79 542.54L425.68 623.38M401.56 542.61L425.35 623.48M401.3 542.68L424.99 623.58M400.89 542.8L424.41 623.76M400.64 542.88L424.06 623.86M400.24 542.99L423.5 624.02M399.65 543.16L422.67 624.26M399.59 543.17L422.59 624.28M399.08 543.32L421.87 624.48M398.93 543.36L421.67 624.54M398.62 543.45L421.23 624.66M396.51 544.02L418.26 625.47M395.27 544.35L416.52 625.93M394.3 544.6L415.17 626.28M393.87 544.71L414.56 626.43M393.03 544.92L413.38 626.73M392.65 545.01L412.85 626.86M392.01 545.17L411.95 627.08M391.51 545.29L411.24 627.25M391.1 545.39L410.67 627.39M389.83 545.69L408.89 627.81M389.7 545.72L408.71 627.85M389.11 545.86L407.88 628.04M388.18 546.07L406.58 628.33M387.71 546.17L405.91 628.48M387.28 546.27L405.32 628.61M387.2 546.28L405.2 628.64M387.05 546.32L404.99 628.68M386.7 546.39L404.5 628.79M386.6 546.41L404.36 628.82M385.2 546.71L402.39 629.24M384.48 546.86L401.38 629.45M383.49 547.06L399.99 629.73M383.37 547.08L399.82 629.76M383.27 547.1L399.69 629.79M383.02 547.15L399.33 629.86M382.79 547.2L399.01 629.92M382.65 547.23L398.81 629.96M382.41 547.27L398.47 630.03M381.54 547.44L397.26 630.26M380.94 547.55L396.42 630.42M380.75 547.59L396.14 630.47M379.58 547.8L394.51 630.77M378.89 547.92L393.54 630.94M378.14 548.05L392.49 631.12M377.89 548.1L392.13 631.19M376.91 548.26L390.75 631.42M376.28 548.37L389.87 631.56M376.08 548.4L389.6 631.61M376.05 548.41L389.54 631.62M375.43 548.5L388.68 631.76M374.31 548.68L387.11 632M374.04 548.72L386.73 632.06M373.34 548.83L385.75 632.21M373.03 548.87L385.31 632.27M372.66 548.93L384.78 632.35M372.34 548.97L384.34 632.41M372.07 549.01L383.96 632.47M371.75 549.06L383.51 632.53M371.2 549.13L382.74 632.64M370.53 549.22L381.81 632.77M370.32 549.25L381.51 632.81M369.84 549.32L380.83 632.9M369.8 549.32L380.77 632.9M369.13 549.41L379.84 633.03M366.54 549.72L376.2 633.47M365.94 549.79L375.36 633.56M365.5 549.84L374.75 633.63M365.41 549.85L374.62 633.65M364.47 549.95L373.3 633.79M364.27 549.97L373.01 633.82M363.87 550.01L372.45 633.88M363.63 550.04L372.11 633.91M363.42 550.06L371.83 633.94M363.15 550.09L371.45 633.98M362.74 550.13L370.86 634.03M362.43 550.16L370.43 634.08M362.14 550.18L370.02 634.12M361.53 550.24L369.16 634.19M361.35 550.26L368.92 634.22M361.19 550.27L368.69 634.24M360.56 550.33L367.81 634.31M360.41 550.34L367.6 634.33M359.74 550.4L366.66 634.41M359.24 550.44L365.95 634.47M359.13 550.45L365.8 634.48M359.02 550.45L365.64 634.49M358.58 550.49L365.03 634.54M358.12 550.52L364.38 634.59M356.99 550.6L362.8 634.7M356.73 550.62L362.43 634.73M355.13 550.72L360.18 634.87M354.91 550.74L359.87 634.89M353.78 550.8L358.3 634.98M352.17 550.88L356.03 635.09M350.2 550.96L353.27 635.21M349.86 550.97L352.79 635.22M349.65 550.98L352.5 635.23M349.47 550.99L352.25 635.24" stroke="#8c8cc8" stroke-opacity="0.32" stroke-width="0.5" fill="none"/><path d="M533.34 427.38L610.32 461.76M533.23 427.64L610.15 462.13M532.65 428.92L609.34 463.91M531.99 430.35L608.42 465.92M531.67 431.04L607.97 466.89M531.56 431.27L607.82 467.21M530.57 433.35L606.42 470.13M530.25 434L605.97 471.04M528.77 436.97L603.89 475.22M528.68 437.14L603.77 475.45M528.61 437.27L603.68 475.64M527.35 439.7L601.9 479.05M526.78 440.77L601.11 480.55M526.4 441.48L600.57 481.54M525.07 443.9L598.71 484.94M523.97 445.85L597.16 487.68M523.61 446.48L596.66 488.56M523.37 446.9L596.31 489.16M522.38 448.6L594.92 491.53M521.89 449.41L594.24 492.68M521.4 450.23L593.55 493.82M519.87 452.72L591.4 497.32M514.71 460.6L584.16 508.38M514.42 461.02L583.75 508.97M514.32 461.15L583.62 509.16M513.81 461.89L582.9 510.19M513.81 461.9L582.9 510.2M513.44 462.43L582.38 510.94M513.2 462.76L582.05 511.41M512.5 463.75L581.06 512.8M512.27 464.07L580.74 513.24M509.98 467.2L577.52 517.64M509.56 467.75L576.94 518.42M508.36 469.34L575.25 520.64M507.42 470.55L573.93 522.34M506.84 471.29L573.11 523.39M505.85 472.54L571.73 525.13M504.98 473.62L570.51 526.65M503.83 475.03L568.89 528.64M503.77 475.1L568.81 528.74M503.27 475.71L568.11 529.58M502.16 477.04L566.54 531.45M501.18 478.18L565.18 533.05M500.68 478.76L564.47 533.87M499.38 480.25L562.65 535.96M498.34 481.43L561.18 537.62M498.3 481.47L561.13 537.68M497.48 482.38L559.98 538.95M496.97 482.94L559.27 539.74M494.03 486.1L555.14 544.17M492.93 487.25L553.6 545.78M490.44 489.79L550.1 549.34M488.83 491.39L547.84 551.59M488.35 491.85L547.17 552.24M487.52 492.66L546 553.38M487.33 492.84L545.73 553.63M486.91 493.24L545.14 554.2M485.27 494.79L542.84 556.37M484.73 495.3L542.08 557.08M484.3 495.7L541.48 557.64M484.1 495.88L541.2 557.89M483.96 496L541.01 558.07M483.76 496.19L540.72 558.33M483 496.88L539.66 559.3M482.98 496.9L539.62 559.33M482.72 497.14L539.26 559.66M482.65 497.2L539.16 559.75M482.52 497.32L538.98 559.92M481.83 497.94L538.01 560.79M481.57 498.17L537.66 561.1M481.12 498.57L537.02 561.67M480.68 498.96L536.4 562.22M479.65 499.86L534.96 563.48M479.41 500.07L534.61 563.78M478.57 500.79L533.44 564.79M477.88 501.38L532.48 565.61M477.5 501.7L531.94 566.06M476.76 502.33L530.9 566.94M476.16 502.83L530.06 567.64M475.11 503.7L528.58 568.87M475.09 503.71L528.55 568.89M473.44 505.05L526.24 570.77M472.2 506.04L524.5 572.16M471.21 506.82L523.11 573.25M470.35 507.48L521.9 574.18M470.22 507.59L521.72 574.33M469.98 507.77L521.39 574.58M469.29 508.3L520.41 575.33M467.31 509.79L517.63 577.43M466.62 510.31L516.66 578.14M465.4 511.19L514.96 579.39M465.29 511.27L514.8 579.5M464.73 511.68L514.01 580.07M464.29 512L513.39 580.52M462.84 513.03L511.36 581.97M462.08 513.56L510.3 582.71M460.99 514.32L508.76 583.77M460.09 514.93L507.51 584.63M459.48 515.34L506.65 585.21M458.82 515.79L505.72 585.84M457.6 516.59L504.01 586.97M457.17 516.88L503.4 587.37M456.01 517.63L501.78 588.43M455.8 517.77L501.48 588.62M453.95 518.95L498.88 590.28M452.93 519.59L497.45 591.17M452.55 519.83L496.91 591.51M452.06 520.13L496.23 591.93M451.9 520.22L496.01 592.06M451.44 520.51L495.36 592.46M448.52 522.26L491.26 594.92M448.05 522.53L490.6 595.3M446.7 523.32L488.7 596.4M444.38 524.63L485.46 598.24M443.29 525.23L483.92 599.1M443.07 525.35L483.61 599.26M441.41 526.25L481.28 600.53M435.62 529.25L473.15 604.73M435.12 529.49L472.45 605.08M432.65 530.69L468.99 606.76M432.12 530.95L468.25 607.11M431.5 531.24L467.38 607.52M431.35 531.31L467.17 607.62M431.15 531.41L466.88 607.76M430.34 531.78L465.75 608.28M428.88 532.45L463.7 609.22M428.37 532.68L462.98 609.55M426.99 533.29L461.05 610.41M424.88 534.21L458.09 611.7M421.21 535.75L452.93 613.85M420.24 536.14L451.57 614.4M419.59 536.39L450.67 614.76M416.36 537.65L446.12 616.52M414.68 538.27L443.77 617.39M414.5 538.34L443.51 617.49M414.09 538.49L442.93 617.7M413.59 538.67L442.23 617.95M412.88 538.92L441.23 618.31M412.52 539.05L440.73 618.49M408.6 540.4L435.24 620.38M408.07 540.58L434.49 620.63M405.87 541.29L431.4 621.63M403.49 542.03L428.07 622.67M403.15 542.13L427.59 622.81M401.76 542.55L425.63 623.4M400.62 542.88L424.03 623.86M399.38 543.24L422.29 624.36M398.85 543.38L421.55 624.57M397.54 543.75L419.71 625.08M396.77 543.96L418.62 625.37M395.99 544.16L417.53 625.66M395.16 544.38L416.36 625.97M394.68 544.5L415.7 626.14M394.01 544.68L414.75 626.38M393.95 544.69L414.67 626.4M393.64 544.77L414.23 626.52M392.58 545.03L412.75 626.88M391.63 545.27L411.41 627.21M391.2 545.37L410.81 627.36M390.98 545.42L410.5 627.43M390.59 545.51L409.96 627.56M388.82 545.92L407.48 628.13M387.99 546.11L406.31 628.39M386.13 546.51L403.7 628.96M385.43 546.66L402.72 629.17M384.22 546.91L401.01 629.52M381.93 547.36L397.8 630.16M379.85 547.75L394.88 630.7M377.08 548.24L390.99 631.38M375.26 548.53L388.44 631.79M372.89 548.89L385.12 632.3M371.46 549.1L383.11 632.59M370.56 549.22L381.85 632.76M369.29 549.39L380.06 633M368.87 549.44L379.47 633.07M368.38 549.5L378.79 633.16M367.42 549.62L377.44 633.32M366.48 549.73L376.12 633.48M365.09 549.89L374.16 633.7M364.74 549.92L373.68 633.75M359.63 550.4L366.51 634.42M355.65 550.69L360.92 634.83M354.93 550.74L359.91 634.89M353.75 550.8L358.25 634.98M353.68 550.81L358.15 634.99M353.56 550.81L357.98 635M351.41 550.91L354.96 635.14M350.88 550.94L354.23 635.17" stroke="#7c7cbc" stroke-opacity="0.5" stroke-width="0.55" fill="none"/><path d="M342.39 551.1L342.3 635.4M342.14 551.1L341.95 635.4M341.41 551.1L340.94 635.4M341.02 551.09L340.38 635.39M340.68 551.09L339.9 635.39M340.54 551.09L339.7 635.39M340.34 551.09L339.43 635.38M339.01 551.07L337.55 635.36M338.48 551.06L336.82 635.34M338.28 551.06L336.54 635.34M337.67 551.04L335.68 635.32M336.99 551.02L334.72 635.29M336.88 551.02L334.57 635.29M336.15 551L333.55 635.26M335.74 550.99L332.98 635.24M335.7 550.99L332.92 635.24M335.29 550.97L332.34 635.22M334.63 550.95L331.42 635.19M334.28 550.93L330.93 635.17M333.65 550.91L330.04 635.13M332.07 550.83L327.83 635.03M330.95 550.78L326.25 634.94M330.05 550.72L324.98 634.87M329.83 550.71L324.68 634.85M329.45 550.69L324.15 634.82M328.63 550.63L322.99 634.74M328.5 550.62L322.8 634.73M328.21 550.6L322.4 634.7M327.19 550.53L320.98 634.6M327.17 550.53L320.95 634.6M327.07 550.52L320.81 634.59M326.36 550.47L319.8 634.51M325.48 550.4L318.57 634.41M325.24 550.38L318.24 634.39M325.04 550.36L317.96 634.36M323.65 550.24L316 634.19M323.55 550.23L315.87 634.18M323.25 550.2L315.44 634.14M323.02 550.18L315.12 634.11M322 550.08L313.69 633.97M321.84 550.07L313.46 633.95M321.8 550.06L313.4 633.94M321.59 550.04L313.11 633.91M321.06 549.99L312.37 633.84M320.59 549.94L311.71 633.77M320 549.87L310.88 633.68M319.31 549.8L309.91 633.57M318.17 549.67L308.31 633.39M317.43 549.58L307.27 633.26M317.17 549.55L306.91 633.22M316.98 549.52L306.65 633.19M316.8 549.5L306.4 633.16M316.66 549.48L306.19 633.13M314.61 549.22L303.31 632.76M313.92 549.12L302.34 632.62M313.62 549.08L301.92 632.56M312.88 548.98L300.89 632.42M311.59 548.79L299.08 632.15M310.85 548.67L298.04 631.99M308.89 548.36L295.29 631.56M308.64 548.32L294.94 631.5M306.48 547.95L291.9 630.98M306.25 547.91L291.59 630.93M305.68 547.81L290.78 630.78M304.55 547.61L289.2 630.5M303.74 547.45L288.05 630.28M303.6 547.43L287.86 630.24M302.75 547.26L286.67 630.02M302.32 547.18L286.06 629.9M302.07 547.13L285.71 629.83M301.41 547L284.79 629.64M300.84 546.88L283.99 629.48M300.53 546.82L283.56 629.39M300.32 546.78L283.25 629.33M299.61 546.63L282.26 629.12M297.01 546.06L278.61 628.33M295.71 545.77L276.79 627.92M295.43 545.7L276.39 627.83M294.98 545.6L275.76 627.68M294.62 545.52L275.26 627.56M294.26 545.43L274.75 627.44M293.97 545.36L274.35 627.35M293.26 545.19L273.35 627.1M293.2 545.17L273.26 627.08M292.15 544.92L271.79 626.72M292.06 544.89L271.66 626.69M292.01 544.88L271.59 626.67M291.82 544.83L271.33 626.61M290.6 544.53L269.62 626.17M290.2 544.42L269.06 626.03M289.88 544.34L268.61 625.91M289.55 544.25L268.14 625.79M287.9 543.81L265.82 625.17M287.51 543.71L265.28 625.02M287.06 543.58L264.65 624.85M286.69 543.48L264.13 624.7M286.28 543.36L263.55 624.54M286.25 543.36L263.51 624.53M285.43 543.12L262.36 624.21M285.33 543.1L262.22 624.17M285.23 543.07L262.08 624.13M285.08 543.02L261.87 624.07M283.04 542.43L259 623.23M282 542.12L257.54 622.79M280.95 541.8L256.08 622.34M280.36 541.61L255.25 622.08M279.55 541.36L254.1 621.72M278.11 540.9L252.09 621.08M278.03 540.87L251.98 621.04M277.63 540.74L251.41 620.86M277.47 540.69L251.18 620.78M276.97 540.52L250.48 620.55M276.32 540.31L249.57 620.25M275.85 540.15L248.92 620.03M275.34 539.98L248.2 619.79M275.04 539.87L247.77 619.64M274.23 539.59L246.63 619.25M273.97 539.51L246.28 619.13M273.73 539.42L245.93 619.01M273.02 539.17L244.95 618.66M272.52 539L244.24 618.41M270.93 538.42L242 617.6M269.83 538.01L240.46 617.03M269.1 537.74L239.43 616.65M268.96 537.69L239.25 616.58M268.65 537.57L238.8 616.41M267.24 537.03L236.82 615.65M266.64 536.8L235.98 615.33M265.82 536.48L234.84 614.88M265.71 536.44L234.68 614.82M264.91 536.12L233.56 614.37M263.99 535.74L232.27 613.85M263.79 535.67L231.99 613.74M262.94 535.32L230.8 613.25M262.46 535.12L230.12 612.97M261.68 534.79L229.02 612.51M261.23 534.6L228.4 612.25M260.83 534.43L227.84 612.01M260.28 534.2L227.07 611.68M259.92 534.04L226.55 611.46M258.67 533.5L224.81 610.7M258.45 533.4L224.49 610.56M257.53 533L223.21 609.99M257.15 532.83L222.67 609.75M256.96 532.74L222.39 609.63M256.57 532.56L221.85 609.38M256.37 532.47L221.57 609.25M255.88 532.25L220.88 608.94M255.34 532L220.13 608.6M254.49 531.61L218.93 608.04M254.3 531.52L218.67 607.92M254.13 531.44L218.43 607.81M253.95 531.36L218.18 607.69M253.56 531.17L217.63 607.43M252.92 530.87L216.73 607.01M252.42 530.63L216.03 606.67M252.07 530.46L215.53 606.43M251.85 530.36L215.23 606.29M251.46 530.17L214.68 606.02M251.37 530.12L214.55 605.96M251.29 530.09L214.44 605.91M250.89 529.89L213.88 605.64M250.09 529.5L212.76 605.09M249.44 529.18L211.85 604.63M249.37 529.14L211.75 604.58M249.28 529.1L211.62 604.52M248.98 528.95L211.2 604.31M248.73 528.82L210.85 604.13M248.6 528.76L210.67 604.04M248.52 528.71L210.55 603.98M247.05 527.97L208.49 602.93M246.5 527.68L207.71 602.53M246.45 527.66L207.66 602.5M245.61 527.22L206.47 601.88M245.11 526.96L205.77 601.51M244.57 526.67L205.02 601.12M244.51 526.64L204.93 601.07M244.02 526.38L204.24 600.7M243.92 526.32L204.1 600.63M243.51 526.11L203.53 600.32M243.25 525.96L203.16 600.12M243.18 525.92L203.06 600.06M242.61 525.62L202.26 599.63M242.52 525.56L202.13 599.56M242.42 525.51L202 599.49M242.26 525.43L201.77 599.36M241.78 525.16L201.09 598.99M241.44 524.97L200.62 598.73M240.99 524.72L199.98 598.38M240.68 524.55L199.55 598.13M240.05 524.2L198.67 597.64M239.43 523.84L197.79 597.14M238.8 523.49L196.92 596.65M238.67 523.41L196.73 596.54M238.01 523.03L195.81 596.01M237.68 522.84L195.34 595.74M237.2 522.56L194.67 595.34M236.89 522.38L194.23 595.09M236.8 522.33L194.11 595.02M236.54 522.17L193.73 594.8M236.3 522.03L193.4 594.6M236.28 522.02L193.38 594.59M236 521.86L192.99 594.36M234.41 520.9L190.75 593.01M233.62 520.42L189.64 592.34M233.48 520.33L189.44 592.22M233.07 520.08L188.87 591.87M231.96 519.4L187.31 590.9M230.67 518.58L185.5 589.76M230.6 518.54L185.4 589.7M230.45 518.44L185.2 589.57M230.37 518.39L185.08 589.49M229.99 518.15L184.55 589.15M229.41 517.77L183.73 588.63M228.99 517.51L183.15 588.25M228.56 517.23L182.54 587.86M228.2 516.99L182.03 587.52M227.77 516.71L181.43 587.13M227.47 516.51L181.01 586.85M227.24 516.36L180.68 586.64M226.57 515.91L179.75 586.01M226.34 515.76L179.42 585.8M225.49 515.19L178.23 585M224.96 514.82L177.48 584.48M224.83 514.74L177.31 584.37M223.62 513.91L175.61 583.2M223.11 513.55L174.89 582.7M222.37 513.03L173.85 581.97M222.27 512.96L173.71 581.87M221.42 512.36L172.53 581.03M221.29 512.26L172.33 580.89M221.09 512.13L172.06 580.7M220.49 511.69L171.21 580.09M219.54 511.01L169.89 579.13M218.24 510.05L168.05 577.78M217.93 509.82L167.62 577.46M217.55 509.54L167.09 577.07M216.98 509.11L166.29 576.47M216.77 508.95L165.99 576.24M216.61 508.83L165.76 576.07M216.54 508.77L165.66 575.99M216.31 508.6L165.34 575.75M215.91 508.3L164.78 575.32M215.57 508.04L164.31 574.96M215.39 507.9L164.05 574.77M215.07 507.65L163.6 574.42M214.24 507.01L162.44 573.52M214.15 506.94L162.32 573.43M213.77 506.65L161.79 573.01M213.27 506.25L161.08 572.46M212.64 505.76L160.2 571.76M212.5 505.64L159.99 571.59M211.57 504.89L158.69 570.55M211.25 504.64L158.24 570.19M211.1 504.52L158.04 570.02M210.35 503.91L156.99 569.17M209.61 503.3L155.94 568.31M208.92 502.73L154.98 567.51M208.65 502.5L154.6 567.19M208.4 502.3L154.25 566.9M207.65 501.66L153.19 566M207.45 501.49L152.91 565.77M207.4 501.45L152.84 565.71M206.93 501.05L152.18 565.15M206.56 500.73L151.66 564.7" stroke="#8c8cc8" stroke-opacity="0.32" stroke-width="0.5" fill="none"/><path d="M343.17 551.1L343.4 635.4M340.08 551.08L339.06 635.38M337.07 551.03L334.84 635.3M336.6 551.01L334.19 635.28M335.08 550.96L332.05 635.21M332.53 550.86L328.47 635.06M332.36 550.85L328.22 635.05M332.28 550.84L328.12 635.04M331.18 550.79L326.57 634.96M330.09 550.73L325.04 634.87M327.88 550.58L321.94 634.67M327.45 550.55L321.34 634.63M325.79 550.42L319.01 634.45M324.63 550.33L317.38 634.31M323.93 550.26L316.39 634.23M322.75 550.15L314.74 634.07M322.43 550.12L314.29 634.03M322.12 550.09L313.85 633.99M321.53 550.03L313.03 633.9M321.32 550.01L312.74 633.88M320.9 549.97L312.15 633.81M320.76 549.96L311.95 633.79M320.54 549.93L311.64 633.76M320.06 549.88L310.97 633.69M319.17 549.78L309.72 633.55M318.71 549.73L309.07 633.48M317.81 549.62L307.8 633.33M315.69 549.36L304.83 632.96M315.51 549.34L304.58 632.92M315.18 549.29L304.11 632.86M314.05 549.14L302.53 632.65M312.44 548.91L300.27 632.33M309.77 548.5L296.52 631.76M307.5 548.13L293.34 631.23M307.39 548.11L293.18 631.2M307.16 548.07L292.85 631.15M306.07 547.88L291.33 630.88M305.76 547.83L290.9 630.81M305.76 547.83L290.9 630.81M305.31 547.75L290.27 630.69M305.22 547.73L290.13 630.67M304.14 547.53L288.62 630.39M299.71 546.65L282.4 629.15M296.12 545.86L277.36 628.05M296.05 545.85L277.27 628.03M293.52 545.25L273.71 627.19M292.85 545.09L272.77 626.96M291.38 544.72L270.71 626.45M288.91 544.08L267.24 625.55M288.69 544.02L266.94 625.47M288.15 543.88L266.18 625.27M285.85 543.24L262.95 624.37M285.63 543.18L262.64 624.29M283.82 542.66L260.11 623.56M279.94 541.48L254.65 621.9M278.93 541.16L253.24 621.45M277.71 540.77L251.53 620.9M277.19 540.6L250.8 620.66M276.07 540.22L249.22 620.13M274.87 539.81L247.53 619.56M274.52 539.69L247.04 619.39M272.82 539.1L244.66 618.56M268.89 537.66L239.15 616.54M267 536.94L236.49 615.53M266.41 536.71L235.67 615.2M266.03 536.56L235.13 614.99M264.53 535.97L233.03 614.16M263.27 535.45L231.26 613.44M262.31 535.05L229.91 612.88M260.21 534.17L226.96 611.63M259.28 533.76L225.66 611.07M256.53 532.55L221.8 609.36M254.9 531.8L219.52 608.31M254.71 531.71L219.24 608.19M254.37 531.56L218.77 607.97M253.35 531.08L217.34 607.29M253.08 530.94L216.95 607.11M253.06 530.94L216.92 607.1M252.83 530.83L216.61 606.95M251.26 530.07L214.4 605.89M250.56 529.73L213.42 605.41M249.97 529.44L212.59 605M249.8 529.36L212.35 604.88M247.83 528.37L209.58 603.49M245.43 527.12L206.21 601.75M244.09 526.41L204.34 600.75M244.06 526.4L204.29 600.73M241.24 524.86L200.34 598.58M239.01 523.61L197.21 596.81M234.84 521.16L191.35 593.38M234.55 520.99L190.95 593.14M232.79 519.91L188.48 591.62M227.62 516.61L181.22 586.99M227.36 516.44L180.86 586.76M226.09 515.59L179.07 585.56M225.58 515.25L178.36 585.08M224.33 514.39L176.6 583.88M223.77 514.01L175.82 583.34M223.27 513.67L175.12 582.86M220.95 512.02L171.86 580.55M220.32 511.57L170.98 579.92M219.05 510.65L169.19 578.62M218.99 510.6L169.1 578.56M218.58 510.3L168.54 578.14M218.33 510.12L168.19 577.88M217.86 509.77L167.52 577.39M216.95 509.08L166.24 576.43M216.13 508.47L165.1 575.56M214.99 507.6L163.5 574.34M214.77 507.42L163.18 574.09M213.95 506.79L162.03 573.2M212.33 505.51L159.76 571.41M211.19 504.59L158.16 570.12M210.23 503.81L156.81 569.02M209.92 503.55L156.37 568.66M209.39 503.12L155.64 568.06M208.1 502.04L153.82 566.54M207.82 501.81L153.44 566.22M207.26 501.33L152.64 565.54" stroke="#7c7cbc" stroke-opacity="0.5" stroke-width="0.55" fill="none"/><path d="M201.59 496.33L144.69 558.53M200.76 495.56L143.52 557.45M200.62 495.44L143.33 557.28M200.31 495.15L142.9 556.87M199.91 494.77L142.33 556.34M198.68 493.61L140.6 554.71M197.92 492.89L139.53 553.69M197.76 492.74L139.31 553.49M197.7 492.68L139.23 553.41M197.57 492.55L139.05 553.23M197.01 492.01L138.26 552.47M196.85 491.85L138.03 552.24M196.56 491.57L137.62 551.84M195.34 490.37L135.92 550.16M195.14 490.17L135.63 549.88M195.02 490.05L135.46 549.71M194.57 489.6L134.83 549.08M194.39 489.42L134.58 548.83M193.97 488.99L133.99 548.23M193.81 488.83L133.76 548M193.8 488.82L133.75 547.99M193.61 488.63L133.49 547.72M193.47 488.49L133.29 547.52M193.33 488.35L133.1 547.32M193.26 488.27L132.99 547.22M193.07 488.08L132.73 546.94M192.6 487.6L132.07 546.27M192.54 487.53L131.98 546.18M192.33 487.31L131.69 545.87M191.82 486.79L130.98 545.14M191.69 486.64L130.78 544.93M191.23 486.17L130.15 544.27M190.62 485.52L129.29 543.36M190.3 485.18L128.84 542.89M189.63 484.46L127.9 541.87M188.6 483.35L126.45 540.3M188.42 483.15L126.2 540.03M187.96 482.65L125.56 539.33M187.63 482.29L125.1 538.82M187.6 482.25L125.05 538.76M187.42 482.05L124.8 538.49M186.85 481.41L124 537.59M186.8 481.36L123.93 537.52M186.58 481.11L123.61 537.17M186.03 480.5L122.85 536.3M184.72 478.99L121.01 534.19M184.31 478.52L120.43 533.53M184.17 478.36L120.24 533.31M183.8 477.92L119.71 532.69M183.13 477.14L118.77 531.59M182.89 476.85L118.44 531.19M182.6 476.51L118.04 530.71M181.7 475.43L116.77 529.19M181.48 475.16L116.46 528.82M181.18 474.8L116.03 528.3M180.35 473.78L114.88 526.88M180.19 473.58L114.65 526.6M180.17 473.57L114.63 526.58M179.89 473.22L114.23 526.09M179.84 473.15L114.16 526M179.79 473.09L114.09 525.9M179.46 472.67L113.62 525.33M178.7 471.73L112.56 524M178.54 471.51L112.33 523.7M177.98 470.81L111.55 522.71M177.59 470.31L111.01 522.01M177.23 469.84L110.49 521.35M176.24 468.54L109.1 519.53M176.2 468.49L109.04 519.45M175.5 467.57L108.07 518.16M175.34 467.36L107.85 517.87M175.13 467.07L107.55 517.46M174.54 466.28L106.73 516.35M174.2 465.81L106.24 515.69M174.1 465.68L106.1 515.51M173.97 465.5L105.92 515.26M173.42 464.74L105.14 514.19M173.2 464.44L104.84 513.76M173.1 464.3L104.69 513.57M172.71 463.76L104.15 512.81M172.63 463.65L104.05 512.67M172.5 463.46L103.85 512.39M172.27 463.14L103.53 511.94M172.02 462.79L103.19 511.46M172 462.77L103.16 511.42M171.77 462.43L102.83 510.95M171.45 461.97L102.38 510.31M171.4 461.91L102.31 510.21M171.36 461.86L102.26 510.14M170.52 460.64L101.08 508.44M169.9 459.74L100.21 507.17M169.72 459.46L99.95 506.79M169.61 459.3L99.8 506.56M169.38 458.97L99.48 506.09M169.33 458.89L99.41 505.98M169.22 458.73L99.26 505.76M167.59 456.27L96.97 502.3M167.44 456.03L96.75 501.97M166.92 455.23L96.03 500.85M166.75 454.96L95.78 500.47M166.23 454.15L95.06 499.33M165.64 453.22L94.23 498.02M165.6 453.14L94.17 497.92M165.44 452.89L93.94 497.56M165.16 452.45L93.55 496.93M164.65 451.63L92.84 495.78M164.43 451.26L92.53 495.27M163.91 450.41L91.8 494.08M163.8 450.22L91.64 493.82M163.72 450.1L91.54 493.64M163.61 449.9L91.37 493.37M163.54 449.8L91.29 493.23M163.22 449.26L90.83 492.46M162.45 447.96L89.75 490.63M162.37 447.82L89.64 490.44M161.8 446.84L88.83 489.07M161.55 446.41L88.48 488.46M161.11 445.64L87.87 487.38M160.92 445.31L87.61 486.92M160.75 445.01L87.37 486.51M160.53 444.61L87.05 485.94M160.25 444.11L86.66 485.24M160.09 443.83L86.44 484.84M159.58 442.9L85.72 483.54M159.52 442.81L85.64 483.41M159.38 442.55L85.45 483.05M159.34 442.47L85.38 482.93M159.15 442.13L85.13 482.46M158.96 441.78L84.86 481.97M158.68 441.26L84.46 481.23M158.55 441.02L84.28 480.9M158.42 440.77L84.09 480.54M157.88 439.76L83.34 479.13M157.61 439.24L82.96 478.41M157.11 438.29L82.26 477.06M156.96 437.99L82.04 476.64M156.75 437.59L81.75 476.08M156.32 436.75L81.15 474.9M156.02 436.16L80.73 474.07M155.86 435.83L80.5 473.62M155.79 435.69L80.4 473.42M155.76 435.64L80.36 473.34M155.62 435.36L80.17 472.95M155.6 435.31L80.13 472.88M155.38 434.86L79.82 472.25M155.23 434.56L79.61 471.83M155.2 434.51L79.58 471.76M154.34 432.74L78.37 469.27M154.19 432.42L78.16 468.83M153.86 431.74L77.7 467.87M153.53 431.04L77.24 466.89M153.23 430.4L76.82 466M152.9 429.68L76.35 464.99M152.75 429.35L76.13 464.52M152.47 428.74L75.74 463.66M152.35 428.48L75.57 463.29M152.16 428.05L75.31 462.7M151.97 427.65L75.05 462.13M151.86 427.4L74.89 461.78M151.52 426.63L74.41 460.7M151.42 426.39L74.26 460.36M151.31 426.15L74.12 460.02M151.1 425.66L73.82 459.34M151.02 425.49L73.71 459.1M150.88 425.17L73.52 458.65M150.67 424.67L73.21 457.95M150.39 424.03L72.83 457.05M149.79 422.59L71.98 455.04M149.62 422.19L71.75 454.47M149.6 422.13L71.71 454.38M149.23 421.23L71.19 453.12M149.09 420.9L71 452.65M148.96 420.59L70.82 452.22M148.52 419.48L70.2 450.66M148.35 419.06L69.97 450.08M148.26 418.82L69.83 449.73M148.2 418.66L69.75 449.51M147.91 417.92L69.34 448.47M147.86 417.8L69.27 448.3M147.79 417.61L69.17 448.04M147.62 417.18L68.94 447.43M147.54 416.98L68.83 447.16M147.52 416.91L68.79 447.05M147.43 416.68L68.67 446.74M147.31 416.38L68.51 446.31M147.13 415.89L68.25 445.62M147.05 415.67L68.13 445.32M146.87 415.21L67.89 444.67M146.75 414.88L67.72 444.21M146.46 414.08L67.3 443.09M146.42 413.98L67.25 442.94M146.03 412.9L66.7 441.44M145.72 412.03L66.27 440.22M145.66 411.88L66.19 440M145.36 411.03L65.77 438.8M145.09 410.24L65.39 437.7M144.83 409.47L65.02 436.62M144.79 409.37L64.97 436.47M144.71 409.13L64.85 436.14M144.6 408.79L64.69 435.66M144.42 408.25L64.44 434.91M144.28 407.84L64.25 434.33M144.07 407.2L63.95 433.43M144.01 407.01L63.87 433.16M143.92 406.74L63.74 432.78M143.75 406.21L63.5 432.05M143.45 405.29L63.09 430.75M143.42 405.18L63.04 430.6M143.34 404.92L62.93 430.22M143.31 404.84L62.89 430.12M143.29 404.77L62.86 430.03M143.09 404.14L62.58 429.13M142.72 402.92L62.06 427.42M142.4 401.85L61.61 425.92M142.24 401.33L61.39 425.19M142.06 400.71L61.14 424.32M141.97 400.41L61.01 423.9M141.94 400.3L60.97 423.75M141.66 399.31L60.57 422.36M141.43 398.48L60.24 421.2M141.36 398.24L60.15 420.86M141.33 398.15L60.11 420.73M141.33 398.13L60.1 420.7M141.17 397.55L59.88 419.89M141 396.94L59.64 419.02M140.89 396.54L59.5 418.48M140.76 396.04L59.3 417.77M140.64 395.6L59.14 417.15M140.49 395.02L58.93 416.34M140.27 394.16L58.62 415.13M140.17 393.78L58.48 414.6M140.11 393.54L58.39 414.26M140.07 393.41L58.35 414.08M139.83 392.42L58 412.68M139.75 392.09L57.89 412.23M139.74 392.08L57.88 412.21" stroke="#8c8cc8" stroke-opacity="0.32" stroke-width="0.5" fill="none"/><path d="M200.88 495.68L143.69 557.61M199.69 494.57L142.03 556.06M199.48 494.37L141.72 555.78M198.04 493L139.7 553.86M197.27 492.26L138.63 552.82M196.83 491.83L138 552.22M196.37 491.39L137.36 551.59M196.21 491.23L137.14 551.37M195.79 490.81L136.55 550.79M195.39 490.41L135.98 550.23M194.3 489.33L134.46 548.7M194.05 489.08L134.11 548.35M193.92 488.94L133.92 548.16M193.57 488.59L133.43 547.66M193.12 488.13L132.8 547.02M192.03 487L131.26 545.43M190.89 485.81L129.67 543.77M190.75 485.66L129.47 543.55M190.28 485.16L128.81 542.85M190.04 484.91L128.48 542.49M189.73 484.58L128.04 542.03M189.41 484.22L127.59 541.54M189.11 483.9L127.17 541.09M187.98 482.67L125.59 539.36M187.65 482.3L125.12 538.84M186.52 481.05L123.54 537.08M184.85 479.14L121.19 534.4M184.68 478.95L120.96 534.14M182.96 476.94L118.54 531.32M182.92 476.89L118.48 531.24M182.01 475.8L117.2 529.72M181.76 475.51L116.86 529.3M181.6 475.3L116.62 529.02M181.12 474.73L115.96 528.21M180.8 474.34L115.51 527.66M180.6 474.09L115.23 527.31M180.45 473.91L115.02 527.06M179.97 473.32L114.35 526.23M179.31 472.49L113.42 525.07M178.67 471.68L112.51 523.93M177.74 470.5L111.21 522.27M177.52 470.22L110.91 521.88M176.58 468.99L109.59 520.16M176.37 468.71L109.28 519.76M175.98 468.21L108.75 519.06M175.75 467.9L108.42 518.62M174.9 466.76L107.22 517.02M173.76 465.22L105.63 514.86M173.58 464.97L105.37 514.51M173.21 464.45L104.85 513.79M171.64 462.25L102.65 510.69M171.54 462.11L102.51 510.5M171.02 461.37L101.78 509.45M170.35 460.39L100.84 508.09M170.17 460.13L100.59 507.72M170 459.87L100.34 507.36M169.69 459.43L99.92 506.73M168.27 457.3L97.92 503.75M168.14 457.1L97.74 503.47M167.77 456.55L97.22 502.69M167.25 455.75L96.49 501.57M167.16 455.6L96.36 501.37M166.78 455.01L95.83 500.54M166.63 454.78L95.62 500.21M166.45 454.49L95.36 499.81M165.73 453.36L94.35 498.21M165.39 452.82L93.88 497.46M165.07 452.31L93.43 496.74M164.25 450.97L92.28 494.86M163.99 450.54L91.91 494.26M163.39 449.54L91.07 492.86M162.98 448.86L90.5 491.9M162.81 448.58L90.26 491.5M162.34 447.77L89.6 490.37M161.66 446.6L88.64 488.73M161.34 446.05L88.2 487.96M160.75 445.01L87.37 486.5M159.62 442.98L85.78 483.65M158.92 441.7L84.79 481.85M158.65 441.2L84.42 481.15M158.13 440.24L83.69 479.8M157.99 439.96L83.49 479.41M157.91 439.82L83.38 479.21M157.37 438.79L82.62 477.77M156.85 437.78L81.89 476.35M156.7 437.5L81.68 475.95M155.44 434.99L79.91 472.43M154.89 433.87L79.14 470.86M154.44 432.95L78.51 469.58M153.73 431.47L77.52 467.49M152.55 428.93L75.86 463.93M152.45 428.69L75.71 463.6M152.01 427.74L75.11 462.25M151.83 427.31L74.84 461.66M151.63 426.87L74.56 461.03M151.35 426.23L74.17 460.14M150.78 424.93L73.37 458.32M150.47 424.21L72.94 457.31M150.44 424.14L72.9 457.2M150.33 423.89L72.75 456.85M150.12 423.39L72.45 456.15M149.51 421.92L71.59 454.09M149.14 421.02L71.07 452.82M148.05 418.29L69.54 449M147.66 417.29L69 447.59M147.57 417.04L68.86 447.24M147.17 416L68.31 445.78M146.91 415.31L67.94 444.81M146.64 414.59L67.57 443.8M146.6 414.46L67.5 443.62M146.21 413.42L66.96 442.15M144.82 409.46L65.01 436.6M144.3 407.91L64.28 434.43M143.84 406.51L63.64 432.46M143.59 405.73L63.29 431.36M143.48 405.38L63.13 430.87M143.47 405.33L63.11 430.8M142.96 403.72L62.4 428.55M142.79 403.17L62.16 427.77M142.53 402.28L61.79 426.53M142.3 401.51L61.47 425.45M142.18 401.12L61.3 424.89M142.17 401.08L61.29 424.85M142.15 401L61.25 424.73M141.83 399.93L60.82 423.22M141.78 399.74L60.74 422.96M141.55 398.93L60.42 421.83M141.09 397.26L59.77 419.48M140.96 396.78L59.59 418.81M140.91 396.62L59.52 418.58M140.47 394.97L58.91 416.26M139.71 391.96L57.84 412.04" stroke="#7c7cbc" stroke-opacity="0.5" stroke-width="0.55" fill="none"/><path d="M138.2 385.31L55.71 402.7M138.12 384.96L55.61 402.22M137.95 384.1L55.36 401.01M137.91 383.91L55.3 400.74M137.88 383.76L55.26 400.53M137.79 383.33L55.14 399.93M137.6 382.37L54.87 398.59M137.55 382.12L54.8 398.23M137.19 380.25L54.3 395.6M137.11 379.8L54.19 394.97M137 379.19L54.03 394.11M136.97 379.04L54 393.91M136.81 378.11L53.77 392.61M136.75 377.74L53.67 392.08M136.69 377.44L53.6 391.66M136.32 375.17L53.07 388.47M136.13 373.95L52.81 386.76M135.97 372.91L52.59 385.3M135.84 372.03L52.4 384.07M135.75 371.38L52.27 383.15M135.72 371.21L52.24 382.92M135.57 370.11L52.03 381.37M135.35 368.4L51.72 378.97M135.33 368.24L51.69 378.74M135.27 367.74L51.6 378.04M135.18 367.05L51.48 377.08M135.05 365.89L51.29 375.46M135 365.5L51.23 374.9M134.92 364.7L51.11 373.78M134.85 364.13L51.02 372.98M134.7 362.61L50.8 370.84M134.69 362.49L50.79 370.67M134.66 362.22L50.75 370.3M134.5 360.52L50.53 367.91M134.45 359.84L50.45 366.96M134.42 359.52L50.41 366.51M134.32 358.3L50.27 364.8M134.3 358.08L50.25 364.48M134.29 357.95L50.23 364.31M134.2 356.64L50.1 362.47M134.14 355.81L50.02 361.3M134.1 355.05L49.96 360.24M134.08 354.72L49.93 359.77M134.07 354.63L49.92 359.64M134.03 353.85L49.86 358.55M133.93 352.02L49.72 355.98M133.89 351.21L49.67 354.84M133.89 351.19L49.67 354.81M133.88 350.91L49.66 354.43M133.86 350.49L49.63 353.84M133.86 350.45L49.63 353.78M133.84 349.96L49.6 353.09M133.82 349.17L49.56 351.99M133.81 348.88L49.55 351.57M133.79 348.33L49.53 350.8M133.79 348.23L49.52 350.66M133.76 347.36L49.49 349.45M133.76 347.25L49.49 349.28M133.73 345.99L49.45 347.52M133.73 345.79L49.44 347.24M133.71 344.3L49.41 345.15M133.71 344.22L49.41 345.04M133.71 344.12L49.41 344.89M133.71 343.69L49.41 344.28M133.7 343.13L49.4 343.51M133.7 342.08L49.4 342.04M133.7 341.56L49.4 341.31M133.7 341.46L49.4 341.17M133.7 340.92L49.41 340.41M133.71 340.49L49.41 339.8M133.71 340.4L49.41 339.68M133.71 340.1L49.41 339.25M133.72 339.01L49.43 337.72M133.74 338.26L49.45 336.68M133.75 337.42L49.48 335.49M133.79 336.11L49.52 333.65M133.8 335.68L49.54 333.05M133.81 335.53L49.55 332.84M133.81 335.34L49.56 332.57M133.84 334.68L49.59 331.65M133.86 334.1L49.62 330.83M133.87 333.82L49.64 330.44M133.95 332.07L49.75 327.98M133.96 331.71L49.77 327.48M134.01 330.89L49.83 326.32M134.03 330.43L49.87 325.68M134.05 330.16L49.89 325.3M134.13 328.74L50.01 323.31M134.35 325.68L50.32 319.01M134.38 325.35L50.36 318.55M134.42 324.92L50.4 317.95M134.44 324.66L50.44 317.59M134.52 323.66L50.56 316.18M134.56 323.26L50.61 315.62M134.6 322.86L50.66 315.06M134.64 322.44L50.71 314.47M134.64 322.39L50.72 314.4M134.66 322.19L50.75 314.11M134.68 322L50.77 313.85M134.69 321.91L50.79 313.72M134.7 321.75L50.81 313.49M134.76 321.19L50.89 312.71M134.8 320.81L50.94 312.18M134.87 320.08L51.05 311.15M134.98 319.15L51.19 309.85M135.09 318.12L51.35 308.4M135.13 317.78L51.41 307.93M135.19 317.26L51.5 307.2M135.22 317.01L51.54 306.84M135.23 316.94L51.55 306.75M135.31 316.31L51.66 305.86M135.43 315.4L51.82 304.59M135.47 315.09L51.88 304.15M135.58 314.26L52.03 302.98M135.63 313.9L52.1 302.49M135.96 311.55L52.57 299.19M136 311.31L52.62 298.85M136.01 311.19L52.65 298.68M136.05 310.99L52.69 298.39M136.2 309.98L52.91 296.98M136.4 308.72L53.19 295.21M136.47 308.27L53.29 294.58M136.52 307.98L53.36 294.17M136.53 307.92L53.38 294.08M136.66 307.17L53.55 293.03M136.8 306.37L53.74 291.91M136.87 305.94L53.85 291.31M136.91 305.74L53.9 291.02M137.02 305.13L54.05 290.17M137.09 304.73L54.16 289.6M137.1 304.69L54.17 289.55M137.11 304.61L54.19 289.44M137.29 303.61L54.44 288.04M137.42 302.94L54.63 287.09M137.53 302.38L54.78 286.31M137.6 302L54.88 285.77M137.73 301.38L55.05 284.91M137.76 301.21L55.1 284.66M137.77 301.15L55.12 284.58M137.82 300.94L55.18 284.29M137.87 300.66L55.26 283.89M137.96 300.21L55.39 283.26M138.01 299.97L55.45 282.94M138.07 299.7L55.53 282.55M138.19 299.11L55.7 281.73M138.55 297.43L56.21 279.36M138.73 296.64L56.46 278.25M138.73 296.63L56.46 278.24M138.86 296.08L56.64 277.46M139.1 295.02L56.98 275.98M139.14 294.85L57.03 275.74M139.22 294.51L57.14 275.27M139.29 294.19L57.25 274.82M139.49 293.35L57.53 273.64M139.99 291.33L58.23 270.79M140.16 290.64L58.47 269.83M140.63 288.85L59.12 267.32M140.75 288.39L59.3 266.67M140.85 288.02L59.43 266.16M141.06 287.24L59.73 265.06M141.14 286.96L59.84 264.67M141.61 285.26L60.5 262.28M141.69 284.98L60.62 261.88M141.84 284.46L60.82 261.16M142.05 283.72L61.12 260.13M142.08 283.62L61.16 259.99M142.3 282.89L61.47 258.95M142.42 282.48L61.64 258.38M142.52 282.14L61.78 257.9M142.56 282L61.84 257.7M142.72 281.49L62.05 256.99M142.78 281.27L62.15 256.69M143.06 280.36L62.54 255.4M143.07 280.34L62.55 255.38M143.25 279.76L62.8 254.57M143.34 279.48L62.93 254.17M143.57 278.74L63.26 253.12M143.67 278.42L63.4 252.69M144.2 276.82L64.13 250.43M144.44 276.09L64.47 249.41M144.48 275.95L64.54 249.21M144.55 275.76L64.63 248.95M144.81 274.97L65 247.85M144.83 274.94L65.01 247.79M144.99 274.46L65.24 247.12M145.09 274.16L65.39 246.71M145.28 273.62L65.65 245.95M145.31 273.53L65.69 245.82M145.38 273.32L65.79 245.53M145.49 273.02L65.94 245.11M145.56 272.82L66.04 244.82M145.76 272.26L66.32 244.04M145.97 271.67L66.62 243.21M146.07 271.38L66.77 242.79M146.16 271.13L66.89 242.45M146.22 270.97L66.97 242.23M146.58 269.99L67.47 240.85M146.89 269.15L67.91 239.67M147.42 267.75L68.65 237.71M147.55 267.41L68.83 237.23M147.65 267.13L68.99 236.84M147.99 266.27L69.46 235.62M148.7 264.48L70.45 233.12M149.07 263.56L70.97 231.82M149.24 263.14L71.21 231.24M149.66 262.11L71.8 229.79M149.74 261.93L71.91 229.54M149.79 261.81L71.98 229.37M150.11 261.05L72.43 228.3M150.2 260.82L72.56 227.98M150.25 260.71L72.63 227.83M150.59 259.92L73.1 226.72M150.96 259.06L73.62 225.5M151.23 258.43L74.01 224.62M151.54 257.72L74.44 223.63M151.71 257.34L74.68 223.1M151.78 257.19L74.77 222.89M151.87 256.98L74.91 222.59M152.27 256.09L75.47 221.34M152.96 254.59L76.43 219.23M153.44 253.55L77.11 217.77M153.58 253.26L77.3 217.36M153.72 252.95L77.5 216.94M153.96 252.46L77.83 216.25M154.23 251.88L78.22 215.44M154.69 250.94L78.86 214.12M154.73 250.86L78.91 214M155 250.3L79.29 213.22M155.1 250.09L79.44 212.93M155.32 249.66L79.74 212.31M156.04 248.2L80.76 210.27M156.56 247.19L81.48 208.84M156.72 246.87L81.71 208.41M158.08 244.26L83.62 204.74M158.26 243.93L83.87 204.28M158.39 243.68L84.05 203.92M158.63 243.23L84.4 203.29M159.27 242.06L85.28 201.65M159.34 241.93L85.38 201.47M159.61 241.44L85.76 200.78M159.79 241.11L86.02 200.31M159.94 240.84L86.23 199.94M160.13 240.49L86.5 199.45M160.33 240.13L86.78 198.94M160.89 239.14L87.57 197.55M161.25 238.51L88.07 196.66M162.05 237.13L89.19 194.73M162.07 237.1L89.21 194.68M162.55 236.26L89.9 193.51M163.4 234.84L91.08 191.52M164.69 232.72L92.89 188.54M164.96 232.28L93.27 187.92M165.3 231.73L93.75 187.15M165.6 231.25L94.17 186.48M166.2 230.3L95.01 185.15M166.99 229.06L96.12 183.41M167.1 228.88L96.28 183.16M167.39 228.45L96.68 182.54M167.56 228.18L96.92 182.17M168.18 227.24L97.79 180.84M168.65 226.53L98.45 179.85M169.16 225.76L99.17 178.77M169.2 225.71L99.22 178.7M169.3 225.56L99.36 178.49M169.45 225.33L99.58 178.16M169.75 224.88L100 177.54M170.08 224.41L100.46 176.87M170.11 224.36L100.51 176.8M170.41 223.92L100.93 176.19M170.55 223.71L101.12 175.9M170.7 223.5L101.33 175.6M171.25 222.7L102.11 174.48M171.83 221.88L102.91 173.33M172.01 221.62L103.17 172.96M172.13 221.46L103.33 172.74M172.82 220.49L104.3 171.38M173.44 219.63L105.18 170.17M173.44 219.62L105.18 170.16M173.77 219.17L105.65 169.52M174.48 218.21L106.63 168.17M175.17 217.27L107.61 166.86M175.9 216.3L108.63 165.5M176.91 214.97L110.05 163.63M177.1 214.73L110.31 163.3M177.52 214.18L110.91 162.52M177.75 213.89L111.23 162.11M178.2 213.31L111.86 161.3M178.38 213.09L112.11 160.99M178.54 212.88L112.33 160.7M178.97 212.33L112.94 159.93M179.32 211.89L113.43 159.31M179.7 211.43L113.96 158.66" stroke="#8c8cc8" stroke-opacity="0.32" stroke-width="0.5" fill="none"/><path d="M137.99 384.3L55.42 401.29M137.39 381.31L54.59 397.1M137.36 381.13L54.54 396.84M137.35 381.08L54.52 396.77M137.06 379.51L54.11 394.56M136.9 378.64L53.89 393.34M136.61 376.93L53.48 390.94M136.57 376.72L53.43 390.65M136.36 375.44L53.14 388.85M136.28 374.94L53.02 388.15M136.22 374.53L52.93 387.58M136.16 374.16L52.85 387.06M136.14 374.06L52.83 386.91M135.94 372.68L52.54 384.99M135.93 372.63L52.53 384.91M135.63 370.52L52.11 381.95M135.46 369.25L51.87 380.16M135.4 368.83L51.79 379.57M135.07 366.09L51.32 375.73M134.49 360.38L50.51 367.71M134.48 360.22L50.49 367.49M134.26 357.49L50.19 363.66M134.24 357.16L50.15 363.2M134.13 355.66L50.01 361.09M134.1 355.2L49.97 360.44M134.08 354.84L49.94 359.93M134.02 353.69L49.84 358.33M133.95 352.39L49.75 356.5M133.9 351.26L49.68 354.91M133.85 350.19L49.61 353.42M133.83 349.6L49.58 352.58M133.75 346.72L49.47 348.54M133.72 345.19L49.43 346.4M133.71 344.62L49.42 345.6M133.71 343.86L49.41 344.53M133.7 343.36L49.4 343.83M133.7 342.47L49.4 342.57M133.7 342.03L49.4 341.96M133.74 338.24L49.45 336.64M133.74 337.97L49.46 336.26M133.76 337.06L49.49 334.99M133.85 334.31L49.61 331.13M133.98 331.48L49.79 327.15M134.07 329.73L49.92 324.69M134.18 328.04L50.07 322.32M134.21 327.68L50.11 321.81M134.21 327.56L50.12 321.65M134.25 327.02L50.18 320.89M134.3 326.43L50.24 320.06M134.69 321.85L50.79 313.64M134.75 321.25L50.88 312.8M134.81 320.65L50.96 311.95M135.05 318.51L51.29 308.94M135.42 315.48L51.81 304.69M135.44 315.29L51.84 304.44M135.76 312.97L52.28 301.17M135.86 312.23L52.43 300.14M136.11 310.56L52.78 297.79M136.25 309.68L52.97 296.56M136.32 309.22L53.08 295.91M136.39 308.79L53.17 295.3M137.18 304.25L54.28 288.94M137.22 304L54.34 288.58M137.66 301.73L54.95 285.41M137.89 300.55L55.29 283.74M138.53 297.56L56.17 279.55M140.1 290.9L58.38 270.2M140.33 290L58.7 268.93M143.77 278.12L63.53 252.26M143.92 277.67L63.74 251.63M144.32 276.43L64.31 249.89M144.43 276.1L64.47 249.43M145.47 273.07L65.92 245.17M145.53 272.9L66.01 244.93M146.27 270.83L67.04 242.03M146.44 270.36L67.28 241.37M146.81 269.37L67.8 239.97M147.74 266.92L69.1 236.54M148.27 265.55L69.85 234.62M148.34 265.37L69.95 234.37M148.49 265L70.16 233.85M148.66 264.56L70.4 233.23M150.39 260.38L72.83 227.36M150.56 259.98L73.07 226.8M150.64 259.8L73.18 226.54M150.99 258.99L73.66 225.41M152.16 256.34L75.31 221.7M152.41 255.79L75.66 220.92M152.43 255.74L75.69 220.85M152.84 254.85L76.26 219.6M153.25 253.96L76.84 218.35M154.83 250.65L79.05 213.71M155.69 248.9L80.27 211.25M155.77 248.74L80.38 211.03M156.75 246.81L81.76 208.31M156.8 246.71L81.82 208.18M157.2 245.95L82.38 207.11M158.46 243.56L84.14 203.75M158.71 243.08L84.51 203.08M158.99 242.57L84.9 202.36M159.9 240.91L86.17 200.04M160.01 240.7L86.33 199.75M160.57 239.71L87.11 198.35M161.13 238.73L87.89 196.97M161.73 237.67L88.74 195.49M161.91 237.36L89 195.05M162.29 236.72L89.52 194.15M162.94 235.61L90.44 192.6M163.83 234.13L91.69 190.52M164.19 233.53L92.19 189.68M165.18 231.92L93.59 187.41M165.84 230.86L94.51 185.93M165.91 230.75L94.61 185.77M167.97 227.56L97.5 181.29M167.98 227.53L97.52 181.26M168.17 227.25L97.78 180.87M168.83 226.26L98.7 179.47M168.98 226.03L98.91 179.16M169.49 225.27L99.63 178.08M170.91 223.19L101.63 175.17M171.38 222.52L102.29 174.22M172.33 221.18L103.62 172.34M173.48 219.58L105.23 170.09M173.99 218.87L105.95 169.1M174.37 218.35L106.49 168.37M174.71 217.89L106.96 167.73M175.01 217.49L107.38 167.17M175.73 216.52L108.4 165.81M176.08 216.07L108.88 165.16M176.45 215.58L109.4 164.48M176.65 215.32L109.68 164.12M177.92 213.67L111.47 161.8" stroke="#7c7cbc" stroke-opacity="0.5" stroke-width="0.55" fill="none"/><path d="M184.05 206.19L120.06 151.3M184.53 205.62L120.75 150.51M184.75 205.37L121.05 150.16M185.23 204.82L121.72 149.39M185.26 204.78L121.77 149.32M185.65 204.34L122.31 148.71M186.07 203.86L122.9 148.04M186.51 203.37L123.52 147.34M186.64 203.22L123.7 147.14M187.42 202.35L124.8 145.91M187.45 202.32L124.84 145.87M187.88 201.84L125.45 145.19M188.74 200.9L126.65 143.88M189.53 200.04L127.77 142.67M189.55 200.02L127.79 142.65M189.63 199.93L127.91 142.52M190.52 198.98L129.15 141.18M191.44 198.01L130.44 139.83M191.99 197.44L131.21 139.02M192.25 197.17L131.58 138.64M192.35 197.07L131.72 138.5M192.7 196.7L132.21 137.99M193.96 195.42L133.98 136.18M194.83 194.54L135.21 134.95M195.73 193.64L136.46 133.69M196.06 193.32L136.93 133.24M196.29 193.09L137.25 132.92M197 192.4L138.24 131.96M197.27 192.14L138.62 131.59M197.58 191.84L139.06 131.16M198.54 190.92L140.4 129.88M198.84 190.64L140.82 129.47M199.11 190.37L141.21 129.11M199.66 189.86L141.98 128.38M199.72 189.81L142.06 128.31M199.91 189.62L142.33 128.05M200.56 189.02L143.25 127.2M200.93 188.68L143.76 126.72M201.4 188.24L144.43 126.11M201.79 187.89L144.97 125.62M203.36 186.47L147.17 123.63M203.71 186.16L147.66 123.19M204.47 185.49L148.73 122.24M204.82 185.18L149.22 121.81M205.24 184.81L149.81 121.29M205.64 184.46L150.37 120.81M206.27 183.92L151.26 120.04M206.43 183.78L151.48 119.85M206.49 183.73L151.56 119.78M206.75 183.5L151.93 119.46M208 182.44L153.68 117.97M208.39 182.11L154.23 117.51M208.54 181.99L154.44 117.34M208.78 181.79L154.78 117.05M209.36 181.31L155.59 116.38M211.29 179.73L158.3 114.17M211.42 179.62L158.48 114.02M211.53 179.54L158.63 113.9M211.55 179.52L158.67 113.87M212.19 179L159.57 113.15M212.39 178.85L159.84 112.93M212.78 178.53L160.39 112.49M214.1 177.5L162.24 111.04M214.15 177.46L162.31 110.98M214.55 177.15L162.88 110.54M214.7 177.03L163.09 110.38M215.72 176.25L164.51 109.28M216.66 175.53L165.84 108.28M217.86 174.63L167.52 107.01M218.46 174.19L168.36 106.39M219.9 173.13L170.39 104.9M220.09 172.99L170.65 104.71M220.28 172.86L170.92 104.52M220.74 172.53L171.56 104.05M221.2 172.2L172.2 103.6M221.9 171.7L173.19 102.9M222.37 171.37L173.85 102.43M224.22 170.08L176.45 100.62M225.29 169.35L177.96 99.59M225.42 169.26L178.13 99.48M226.34 168.64L179.43 98.6M226.37 168.62L179.47 98.57M226.51 168.53L179.66 98.44M226.79 168.34L180.05 98.18M227.33 167.98L180.81 97.68M227.61 167.79L181.21 97.41M227.82 167.66L181.5 97.23M228.23 167.39L182.08 96.85M229.37 166.65L183.68 95.8M229.42 166.61L183.75 95.76M229.5 166.56L183.86 95.69M230 166.24L184.56 95.24M230.2 166.12L184.84 95.06M230.36 166.02L185.06 94.92M230.82 165.72L185.71 94.51M231.71 165.16L186.96 93.72M231.98 165L187.33 93.49M233.65 163.96L189.69 92.03M233.69 163.94L189.73 92M234.11 163.68L190.34 91.64M236.37 162.33L193.5 89.74M236.81 162.07L194.11 89.38M236.94 161.99L194.3 89.27M237.38 161.74L194.91 88.91M237.39 161.73L194.93 88.9M237.47 161.68L195.05 88.83M237.99 161.38L195.78 88.41M238.46 161.11L196.43 88.03M239.22 160.67L197.51 87.42M239.51 160.51L197.91 87.19M239.68 160.41L198.15 87.05M240.09 160.18L198.73 86.73M240.51 159.94L199.32 86.39M240.96 159.69L199.95 86.04M241.58 159.35L200.81 85.56M241.68 159.3L200.95 85.49M242.23 158.99L201.73 85.06M242.89 158.63L202.65 84.56M243.09 158.53L202.93 84.4M243.59 158.26L203.63 84.03M244.53 157.75L204.95 83.32M244.81 157.6L205.35 83.11M244.9 157.55L205.47 83.04M245.46 157.26L206.27 82.62M245.53 157.23L206.35 82.58M245.53 157.22L206.36 82.57M246.07 156.94L207.12 82.18M246.41 156.77L207.59 81.94M246.76 156.58L208.09 81.68M247.27 156.32L208.8 81.31M247.66 156.12L209.35 81.03M248.06 155.92L209.9 80.75M248.84 155.52L211.01 80.19M249.04 155.42L211.28 80.05M249.13 155.38L211.41 79.99M249.66 155.11L212.15 79.62M250.23 154.83L212.96 79.22M251.07 154.42L214.14 78.64M252.11 153.92L215.59 77.94M252.14 153.9L215.64 77.91M252.36 153.8L215.95 77.77M252.4 153.78L216 77.74M252.89 153.54L216.69 77.41M254.27 152.9L218.62 76.5M254.33 152.87L218.7 76.46M254.88 152.61L219.48 76.1M255.42 152.36L220.24 75.75M255.82 152.18L220.8 75.5M256.16 152.02L221.28 75.28M256.38 151.92L221.58 75.14M256.61 151.82L221.91 74.99M257.76 151.3L223.52 74.27M258.46 151L224.5 73.84M258.57 150.95L224.66 73.77M259.03 150.74L225.31 73.48M259.19 150.67L225.54 73.38M259.78 150.42L226.36 73.03M260.14 150.26L226.86 72.81M260.41 150.15L227.24 72.65M261.35 149.75L228.56 72.08M262.55 149.25L230.24 71.38M264.04 148.63L232.34 70.52M266.49 147.66L235.78 69.15M267.07 147.43L236.59 68.84M267.45 147.29L237.13 68.63M267.68 147.2L237.44 68.51M268.84 146.76L239.07 67.89M269.26 146.6L239.67 67.66M269.9 146.36L240.56 67.33M271.2 145.88L242.39 66.66M271.26 145.86L242.47 66.63M271.48 145.78L242.78 66.51M272.84 145.29L244.69 65.83M273.28 145.14L245.31 65.61M273.88 144.93L246.15 65.32M274.01 144.88L246.34 65.25M274.79 144.61L247.43 64.88M275.35 144.42L248.21 64.61M275.52 144.36L248.45 64.53M275.77 144.28L248.81 64.41M276.15 144.15L249.33 64.23M276.48 144.04L249.79 64.08M276.99 143.87L250.52 63.83M277.66 143.65L251.45 63.53M278.68 143.32L252.88 63.06M278.76 143.29L252.99 63.03M279.05 143.2L253.41 62.9M279.32 143.12L253.78 62.78M279.73 142.99L254.36 62.59M279.99 142.9L254.72 62.48M280.45 142.76L255.36 62.28M280.81 142.65L255.88 62.12M281.12 142.55L256.31 61.98M281.32 142.49L256.59 61.9M281.55 142.42L256.91 61.8M281.67 142.38L257.08 61.75M282.51 142.13L258.26 61.39M282.88 142.02L258.79 61.23M283.07 141.96L259.05 61.16" stroke="#8c8cc8" stroke-opacity="0.32" stroke-width="0.5" fill="none"/><path d="M185.67 204.32L122.34 148.67M186.32 203.57L123.26 147.63M186.33 203.57L123.26 147.63M186.8 203.04L123.93 146.88M189.04 200.57L127.07 143.42M189.97 199.57L128.38 142.01M190.85 198.63L129.62 140.69M192.43 196.98L131.83 138.38M193.33 196.06L133.09 137.08M193.37 196.02L133.15 137.02M195.16 194.21L135.66 134.49M197.74 191.69L139.28 130.95M197.91 191.52L139.52 130.71M199.99 189.55L142.45 127.95M200.28 189.28L142.84 127.58M202.38 187.36L145.79 124.87M202.61 187.15L146.11 124.58M203.45 186.39L147.3 123.52M206.99 183.3L152.27 119.18M207.45 182.91L152.92 118.62M214.81 176.95L163.24 110.26M216.03 176.01L164.95 108.94M216.91 175.34L166.19 108.01M217.7 174.75L167.29 107.18M218.16 174.41L167.95 106.7M218.85 173.9L168.91 105.98M219.03 173.77L169.16 105.8M220.01 173.06L170.53 104.8M221.61 171.91L172.78 103.19M222.87 171.02L174.55 101.94M226.4 168.6L179.51 98.54M226.67 168.42L179.89 98.29M227.28 168.01L180.75 97.72M228.02 167.53L181.78 97.04M228.88 166.96L183 96.25M231.15 165.51L186.18 94.21M231.61 165.22L186.82 93.81M232.61 164.6L188.22 92.93M232.75 164.52L188.42 92.81M233.21 164.23L189.07 92.41M239.82 160.33L198.34 86.94M241.37 159.47L200.52 85.73M241.53 159.38L200.75 85.6M243.28 158.42L203.2 84.26M244.61 157.71L205.06 83.26M245.4 157.29L206.18 82.67M248.52 155.68L210.56 80.42M249.29 155.3L211.63 79.88M250.17 154.86L212.87 79.26M250.96 154.47L213.98 78.72M251.38 154.27L214.56 78.43M254.65 152.72L219.16 76.25M255 152.55L219.66 76.02M256.52 151.86L221.78 75.05M258.85 150.82L225.05 73.6M259.59 150.5L226.09 73.14M263.52 148.85L231.6 70.82M264.31 148.53L232.71 70.37M265.42 148.08L234.27 69.75M270.21 146.24L240.99 67.17M272.15 145.54L243.71 66.18M274.4 144.75L246.88 65.07M276.86 143.91L250.33 63.9M277.09 143.84L250.66 63.79M279.84 142.95L254.51 62.54M280.79 142.65L255.85 62.13M281.77 142.35L257.23 61.7M283.46 141.85L259.6 60.99" stroke="#7c7cbc" stroke-opacity="0.5" stroke-width="0.55" fill="none"/><path d="M342.6 133.3A208.9 208.9 0 0 1 520.91 233.36M342.6 124.87A217.33 217.33 0 0 1 528.1 228.97M342.6 116.44A225.76 225.76 0 0 1 535.3 224.58M342.6 108.01A234.19 234.19 0 0 1 542.49 220.18M342.6 99.58A242.62 242.62 0 0 1 549.69 215.79M342.6 91.15A251.05 251.05 0 0 1 556.88 211.4M342.6 82.72A259.48 259.48 0 0 1 564.08 207.01M342.6 74.29A267.91 267.91 0 0 1 571.27 202.62M342.6 65.86A276.34 276.34 0 0 1 578.47 198.22M342.6 57.43A284.77 284.77 0 0 1 585.67 193.83M342.6 49A293.2 293.2 0 0 1 592.86 189.44M524.15 238.86A208.9 208.9 0 0 1 536.15 420.79M531.47 234.69A217.33 217.33 0 0 1 543.96 423.96M538.8 230.52A225.76 225.76 0 0 1 551.77 427.14M546.13 226.35A234.19 234.19 0 0 1 559.58 430.31M553.45 222.18A242.62 242.62 0 0 1 567.39 433.48M560.78 218.01A251.05 251.05 0 0 1 575.21 436.65M568.1 213.84A259.48 259.48 0 0 1 583.02 439.82M575.43 209.66A267.91 267.91 0 0 1 590.83 442.99M582.76 205.49A276.34 276.34 0 0 1 598.64 446.17M590.08 201.32A284.77 284.77 0 0 1 606.45 449.34M597.41 197.15A293.2 293.2 0 0 1 614.26 452.51M533.66 426.67A208.9 208.9 0 0 1 349.42 550.99M541.37 430.08A217.33 217.33 0 0 1 349.69 559.41M549.08 433.48A225.76 225.76 0 0 1 349.97 567.84M556.79 436.89A234.19 234.19 0 0 1 350.24 576.27M564.5 440.3A242.62 242.62 0 0 1 350.52 584.69M572.21 443.71A251.05 251.05 0 0 1 350.79 593.12M579.92 447.12A259.48 259.48 0 0 1 351.07 601.54M587.63 450.53A267.91 267.91 0 0 1 351.34 609.97M595.34 453.94A276.34 276.34 0 0 1 351.62 618.39M603.05 457.34A284.77 284.77 0 0 1 351.89 626.82M610.76 460.75A293.2 293.2 0 0 1 352.17 635.24M343.55 551.1A208.9 208.9 0 0 1 206.51 500.69M343.59 559.53A217.33 217.33 0 0 1 201.02 507.09M343.62 567.96A225.76 225.76 0 0 1 195.53 513.48M343.66 576.39A234.19 234.19 0 0 1 190.04 519.88M343.7 584.82A242.62 242.62 0 0 1 184.55 526.28M343.74 593.25A251.05 251.05 0 0 1 179.06 532.67M343.78 601.68A259.48 259.48 0 0 1 173.57 539.07M343.82 610.11A267.91 267.91 0 0 1 168.07 545.46M343.85 618.54A276.34 276.34 0 0 1 162.58 551.86M343.89 626.97A284.77 284.77 0 0 1 157.09 558.26M343.93 635.4A293.2 293.2 0 0 1 151.6 564.65M201.66 496.39A208.9 208.9 0 0 1 139.69 391.85M195.97 502.61A217.33 217.33 0 0 1 131.5 393.86M190.28 508.83A225.76 225.76 0 0 1 123.31 395.86M184.59 515.06A234.19 234.19 0 0 1 115.12 397.86M178.91 521.28A242.62 242.62 0 0 1 106.93 399.87M173.22 527.5A251.05 251.05 0 0 1 98.74 401.87M167.53 533.72A259.48 259.48 0 0 1 90.56 403.87M161.84 539.94A267.91 267.91 0 0 1 82.37 405.88M156.16 546.17A276.34 276.34 0 0 1 74.18 407.88M150.47 552.39A284.77 284.77 0 0 1 65.99 409.89M144.78 558.61A293.2 293.2 0 0 1 57.8 411.89M138.2 385.35A208.9 208.9 0 0 1 179.8 211.3M129.96 387.09A217.33 217.33 0 0 1 173.23 206.02M121.71 388.83A225.76 225.76 0 0 1 166.66 200.74M113.46 390.57A234.19 234.19 0 0 1 160.09 195.46M105.21 392.31A242.62 242.62 0 0 1 153.52 190.17M96.96 394.05A251.05 251.05 0 0 1 146.95 184.89M88.72 395.79A259.48 259.48 0 0 1 140.38 179.61M80.47 397.54A267.91 267.91 0 0 1 133.81 174.33M72.22 399.28A276.34 276.34 0 0 1 127.24 169.04M63.97 401.02A284.77 284.77 0 0 1 120.67 163.76M55.72 402.76A293.2 293.2 0 0 1 114.1 158.48M183.87 206.39A208.9 208.9 0 0 1 283.62 141.8M177.46 200.91A217.33 217.33 0 0 1 281.24 133.71M171.06 195.43A225.76 225.76 0 0 1 278.86 125.63M164.65 189.95A234.19 234.19 0 0 1 276.48 117.54M158.25 184.47A242.62 242.62 0 0 1 274.1 109.45M151.84 178.99A251.05 251.05 0 0 1 271.72 101.36M145.44 173.51A259.48 259.48 0 0 1 269.34 93.28M139.03 168.03A267.91 267.91 0 0 1 266.96 85.19M132.63 162.55A276.34 276.34 0 0 1 264.58 77.1M126.22 157.07A284.77 284.77 0 0 1 262.2 69.02M119.82 151.59A293.2 293.2 0 0 1 259.82 60.93" stroke="#acacb2" stroke-width="0.6" fill="none"/><path d="M343.15 222.6L343.5 147.6M343.73 222.61L344.43 147.61M343.96 222.61L344.81 147.61M344.32 222.61L345.4 147.62M346.13 222.65L348.34 147.68M346.79 222.67L349.42 147.72M347.78 222.71L351.04 147.78M349.71 222.81L354.17 147.94M351.39 222.92L356.9 148.13M351.85 222.96L357.65 148.18M351.96 222.97L357.83 148.2M352.28 222.99L358.35 148.24M354.21 223.17L361.49 148.52M354.47 223.19L361.92 148.56M354.94 223.24L362.68 148.64M355.08 223.25L362.91 148.66M355.39 223.29L363.41 148.72M356.52 223.41L365.25 148.92M356.96 223.47L365.97 149.01M357.56 223.54L366.94 149.13M357.79 223.57L367.31 149.18M358.02 223.6L367.69 149.22M358.26 223.63L368.09 149.28M359.16 223.75L369.55 149.48M361.74 224.14L373.74 150.11M362.44 224.26L374.88 150.3M363.64 224.47L376.83 150.63M364.4 224.6L378.07 150.86M364.64 224.65L378.47 150.93M367.42 225.2L382.99 151.84M368.93 225.54L385.45 152.38M370.67 225.94L388.28 153.04M372.14 226.3L390.66 153.63M372.83 226.48L391.78 153.92M373.97 226.79L393.64 154.41M374.08 226.82L393.82 154.46M374.5 226.93L394.51 154.65M375.75 227.28L396.53 155.22M376.75 227.58L398.17 155.7M376.78 227.59L398.21 155.72M377 227.66L398.58 155.83M377.89 227.93L400.03 156.27M378.71 228.18L401.36 156.68M379.98 228.59L403.43 157.35M381.02 228.94L405.11 157.91M381.21 229L405.43 158.02M381.45 229.08L405.81 158.15M382 229.28L406.71 158.46M383.02 229.64L408.37 159.05M383.98 229.99L409.93 159.62M384.84 230.31L411.32 160.14M385.77 230.66L412.85 160.72M386.57 230.98L414.15 161.23M387.16 231.21L415.1 161.61M387.57 231.38L415.77 161.88M387.68 231.42L415.95 161.95M387.83 231.48L416.2 162.06M388.5 231.76L417.28 162.5M389.33 232.11L418.64 163.07M390.84 232.76L421.09 164.13M391.06 232.86L421.46 164.29M391.42 233.02L422.03 164.55M392.04 233.3L423.05 165.01M392.6 233.55L423.95 165.42M394.25 234.33L426.63 166.68M395 234.69L427.86 167.27M396.04 235.2L429.55 168.11M396.35 235.36L430.06 168.36M398.06 236.24L432.84 169.79M398.7 236.57L433.88 170.34M399.63 237.07L435.39 171.15M400.72 237.67L437.16 172.12M401.2 237.94L437.95 172.56M403.02 238.98L440.91 174.26M404.18 239.67L442.8 175.38M404.58 239.91L443.44 175.77M405.4 240.42L444.79 176.59M406.11 240.85L445.93 177.3M406.62 241.18L446.76 177.83M406.88 241.34L447.18 178.09M407.57 241.79L448.32 178.82M408.87 242.64L450.43 180.21M409.25 242.89L451.04 180.62M409.52 243.07L451.48 180.91M409.7 243.19L451.77 181.11M410.01 243.41L452.28 181.45M411.25 244.26L454.29 182.85M411.88 244.71L455.33 183.58M413.64 245.98L458.19 185.65M413.83 246.12L458.5 185.88M415.7 247.54L461.53 188.17M417.03 248.58L463.7 189.87M417.65 249.08L464.71 190.68M417.68 249.1L464.77 190.73M417.9 249.28L465.12 191.01M418.36 249.65L465.86 191.61M418.97 250.15L466.85 192.43M420.46 251.42L469.29 194.49M421.29 252.13L470.64 195.65M421.87 252.64L471.58 196.49M422.15 252.89L472.04 196.89M423.47 254.09L474.19 198.83M425.86 256.34L478.07 202.5M427.08 257.54L480.05 204.45M427.21 257.67L480.26 204.65M428.26 258.74L481.98 206.4M429.44 259.97L483.9 208.4M430.33 260.91L485.34 209.94M431.61 262.32L487.43 212.22M431.67 262.38L487.52 212.33M432.63 263.46L489.08 214.09M433.34 264.29L490.25 215.43M434.88 266.12L492.75 218.41M435.8 267.24L494.24 220.24M436.34 267.92L495.12 221.34M436.79 268.5L495.86 222.28M437.56 269.5L497.12 223.9M437.77 269.77L497.46 224.35M437.86 269.89L497.6 224.54M437.98 270.04L497.79 224.79M438.58 270.85L498.78 226.1M439.26 271.77L499.88 227.6M439.84 272.56L500.81 228.89M440.66 273.72L502.15 230.78M441.85 275.46L504.08 233.61M442.79 276.89L505.62 235.93M443.52 278.01L506.8 237.76M444.14 279L507.81 239.37M446.62 283.17L511.85 246.15M447.57 284.88L513.39 248.93M448.14 285.94L514.33 250.66M448.19 286.03L514.4 250.8M448.6 286.81L515.07 252.08M449.08 287.73L515.85 253.57M449.46 288.49L516.47 254.81M449.51 288.59L516.56 254.97M450.13 289.84L517.56 257.01M450.32 290.24L517.87 257.65M450.49 290.59L518.15 258.22M450.68 290.98L518.45 258.86M451 291.66L518.97 259.97M451.41 292.55L519.64 261.41M452.5 295.02L521.42 265.43M452.85 295.85L521.99 266.79M453.48 297.38L523.02 269.27M453.57 297.58L523.15 269.61M453.81 298.19L523.55 270.6M454.12 298.97L524.05 271.87M454.72 300.56L525.03 274.45M455.4 302.45L526.14 277.53M455.78 303.53L526.75 279.29M456.35 305.24L527.68 282.07M456.84 306.81L528.49 284.62M457.04 307.45L528.81 285.66M457.61 309.37L529.73 288.79M457.8 310.06L530.04 289.9M457.83 310.16L530.09 290.06M457.94 310.58L530.28 290.75M458.26 311.75L530.79 292.65M458.34 312.05L530.91 293.14M458.44 312.44L531.08 293.78M458.7 313.47L531.5 295.45M458.78 313.78L531.63 295.97M458.91 314.35L531.85 296.89M459.57 317.26L532.92 301.62M459.57 317.26L532.92 301.63M459.76 318.16L533.23 303.09M460.21 320.45L533.96 306.81M460.6 322.68L534.59 310.43M461.2 326.76L535.57 317.08M461.24 327.07L535.64 317.58M461.29 327.45L535.72 318.21M461.43 328.65L535.95 320.15M461.61 330.3L536.23 322.83M461.7 331.24L536.38 324.37M461.77 332.11L536.51 325.79M461.89 333.64L536.7 328.28M462 335.29L536.87 330.95M462.05 336.14L536.95 332.34M462.12 337.72L537.06 334.92M462.19 340.48L537.18 339.41M462.19 340.66L537.18 339.7M462.14 345.86L537.11 348.15M462.11 346.9L537.05 349.84M462.05 348.24L536.95 352.03M461.96 349.7L536.82 354.4M461.86 351.19L536.65 356.83M461.79 352.07L536.54 358.26M461.71 353.01L536.4 359.78M461.58 354.41L536.18 362.07M461.35 356.43L535.82 365.35M461.28 356.98L535.71 366.25M461.19 357.69L535.56 367.41M461.18 357.79L535.54 367.57M461 359.1L535.25 369.69M460.92 359.65L535.12 370.6M460.84 360.15L535 371.41M460.1 364.53L533.78 378.53M459.83 365.89L533.35 380.74M459.56 367.17L532.91 382.83M459.46 367.67L532.74 383.63M459.31 368.32L532.5 384.69M458.98 369.78L531.96 387.07M458.75 370.72L531.59 388.6M458.44 371.97L531.08 390.63M458.39 372.15L531 390.93M458.08 373.32L530.5 392.83M457.8 374.33L530.05 394.48M457.72 374.62L529.92 394.94M457.43 375.64L529.44 396.61M457.39 375.78L529.37 396.83M455.55 381.53L526.38 406.19M455.4 381.95L526.14 406.88M455.16 382.61L525.75 407.96M454.78 383.67L525.13 409.68M454.38 384.73L524.48 411.41M453.83 386.16L523.58 413.73M451.96 390.62L520.54 420.99M451.39 391.89L519.61 423.05M450.72 393.33L518.52 425.39M450.45 393.89L518.09 426.3M449.15 396.53L515.96 430.6M449.06 396.7L515.82 430.88M449.03 396.77L515.77 430.98M448.94 396.93L515.63 431.25M448.12 398.49L514.3 433.79M447.78 399.13L513.74 434.83M447.59 399.48L513.43 435.4M447.56 399.54L513.37 435.51M447.51 399.63L513.3 435.64M447.28 400.04L512.93 436.31M447.08 400.4L512.6 436.9M446.7 401.09L511.98 438.02M446.47 401.48L511.61 438.66M446.14 402.06L511.08 439.59M445.27 403.54L509.66 442M445.25 403.58L509.62 442.07M445.19 403.69L509.52 442.24M443.9 405.79L507.42 445.66M443.8 405.94L507.26 445.91M443.01 407.17L505.98 447.92M442.75 407.58L505.55 448.58M442.6 407.81L505.3 448.95M442.57 407.85L505.26 449.03M441.64 409.24L503.75 451.28M440.46 410.96L501.82 454.08M439.93 411.7L500.97 455.29M439.66 412.09L500.52 455.91M439.43 412.4L500.15 456.42M439.31 412.57L499.96 456.69M439.1 412.85L499.62 457.15M438.99 413.01L499.43 457.41M437.98 414.35L497.8 459.6M437.5 414.98L497.02 460.63M437.25 415.31L496.61 461.16M436.7 416.02L495.71 462.3M436.44 416.35L495.28 462.85M435.54 417.47L493.83 464.67M435.23 417.85L493.32 465.29M434.06 419.26L491.42 467.59M433.95 419.4L491.23 467.81M433.51 419.91L490.53 468.64M432.65 420.91L489.11 470.27M432.06 421.58L488.16 471.36M431.79 421.89L487.72 471.86M431 422.76L486.44 473.27M430.86 422.91L486.21 473.52M430.35 423.46L485.39 474.42M428.41 425.51L482.23 477.75M428.27 425.66L481.99 477.99M428.21 425.72L481.89 478.1M427.38 426.56L480.55 479.46M425.9 428.02L478.13 481.84M425.19 428.71L476.97 482.96M424.35 429.5L475.61 484.25M424.18 429.65L475.34 484.5M423.15 430.61L473.66 486.05M422.98 430.76L473.38 486.3M422.1 431.56L471.95 487.59M422.02 431.62L471.83 487.7M421.33 432.23L470.7 488.69M420.97 432.55L470.11 489.2M420.63 432.84L469.57 489.67M419.24 434.02L467.3 491.6M418.14 434.93L465.5 493.08M417.32 435.59L464.18 494.15M416.36 436.35L462.62 495.38M415.74 436.83L461.61 496.17M415.62 436.92L461.41 496.32M415.1 437.32L460.57 496.97M415 437.4L460.4 497.09M414.08 438.09L458.9 498.22M411.75 439.78L455.12 500.97M409.56 441.3L451.55 503.44M408.14 442.24L449.25 504.98M406.77 443.13L447 506.42M404.75 444.38L443.73 508.46M404.59 444.48L443.46 508.62M403.32 445.24L441.39 509.86M403.26 445.28L441.3 509.91M402.74 445.58L440.45 510.41M402.09 445.95L439.4 511.01M401.97 446.02L439.2 511.13M401.73 446.16L438.81 511.35M400.58 446.8L436.95 512.4M400.56 446.82L436.9 512.42M400.2 447.01L436.33 512.74M399.97 447.14L435.95 512.95M399.21 447.56L434.71 513.62M398.85 447.75L434.12 513.93M397.99 448.2L432.73 514.67M397.75 448.33L432.33 514.88M395.34 449.54L428.41 516.86M394.38 450.01L426.85 517.62M394.11 450.14L426.42 517.82M393.48 450.44L425.39 518.31M392.96 450.68L424.54 518.71M392.4 450.94L423.63 519.13M392.04 451.1L423.05 519.39M391.3 451.44L421.84 519.94M389.76 452.11L419.33 521.04M389.65 452.16L419.16 521.11M389.36 452.28L418.68 521.31M387.63 453L415.87 522.48M387.35 453.11L415.41 522.67M385.94 453.67L413.12 523.57M385.1 453.99L411.75 524.1M384.94 454.05L411.49 524.2M384.05 454.39L410.04 524.74M383.8 454.48L409.64 524.89M383.76 454.49L409.58 524.91M382.86 454.82L408.11 525.44M380.5 455.63L404.27 526.77M380.08 455.78L403.58 527M378.98 456.13L401.79 527.58M377.69 456.54L399.69 528.24M377.19 456.69L398.88 528.48M376.04 457.03L397.01 529.04M373.57 457.72L392.99 530.16M372.55 457.99L391.34 530.6M371.94 458.14L390.34 530.85M371.31 458.3L389.31 531.11M369.83 458.66L386.91 531.69M368.52 458.96L384.77 532.18M368.28 459.01L384.38 532.26M366.06 459.48L380.76 533.02M359.28 460.63L369.75 534.9M358.21 460.78L368 535.13M356.64 460.97L365.44 535.46M353.21 461.33L359.87 536.03M352.14 461.42L358.13 536.18M350.81 461.52L355.96 536.34M350.41 461.54L355.31 536.38M347.99 461.68L351.37 536.6M340.35 461.78L338.94 536.77M340.29 461.78L338.83 536.76M339.45 461.76L337.47 536.73M337.31 461.68L333.99 536.61M336.62 461.65L332.88 536.56M335.35 461.58L330.8 536.44M333.24 461.43L327.38 536.2M332.81 461.4L326.67 536.15M330.15 461.15L322.34 535.74M328.43 460.96L319.54 535.43M327.92 460.9L318.71 535.33M320.25 459.69L306.23 533.37M319.88 459.62L305.64 533.26M319.79 459.6L305.48 533.23M319.49 459.55L305 533.13M317.66 459.17L302.02 532.52M316.71 458.96L300.48 532.19M315.1 458.6L297.86 531.59M313.91 458.31L295.92 531.12M312.16 457.86L293.08 530.39M310.22 457.33L289.91 529.53M309.47 457.12L288.69 529.18M308.49 456.83L287.1 528.72M308.04 456.7L286.37 528.5M307.93 456.67L286.19 528.45M307.17 456.43L284.94 528.06M305.01 455.74L281.45 526.94M304.7 455.64L280.93 526.77M304.44 455.55L280.52 526.63M301.22 454.41L275.27 524.78M300 453.95L273.28 524.03M299.6 453.8L272.63 523.79M298.43 453.35L270.74 523.04M298.13 453.22L270.24 522.85M297.36 452.92L269 522.34M296.28 452.46L267.23 521.61M295.49 452.13L265.94 521.06M294.68 451.78L264.62 520.49M294.24 451.59L263.92 520.18M293.64 451.32L262.93 519.75M293.55 451.28L262.79 519.68M291.92 450.53L260.14 518.46M291.45 450.31L259.38 518.11M291.38 450.28L259.26 518.05M289.03 449.13L255.44 516.19M288.61 448.92L254.75 515.84M287.36 448.28L252.73 514.8M287.06 448.12L252.23 514.55M286.94 448.06L252.03 514.44M286.43 447.79L251.21 514M285.43 447.25L249.58 513.13M284.52 446.75L248.09 512.31M281.63 445.09L243.39 509.61M281.3 444.9L242.86 509.3M280.38 444.34L241.36 508.39M279.67 443.91L240.21 507.69M275.43 441.16L233.31 503.21M275.22 441.01L232.96 502.98M273.59 439.88L230.31 501.14M273.25 439.64L229.76 500.74M273.07 439.51L229.47 500.54M272.56 439.14L228.63 499.93M270.76 437.82L225.71 497.78M269.78 437.08L224.12 496.57M269.2 436.63L223.18 495.85M268.69 436.23L222.33 495.19M268.12 435.77L221.41 494.45M268.02 435.7L221.26 494.33M267.8 435.52L220.9 494.05M266.98 434.86L219.57 492.97M265.55 433.67L217.23 491.04M265.16 433.34L216.6 490.5M265 433.2L216.33 490.27M261.27 429.89L210.27 484.88M261.08 429.72L209.96 484.6M260.44 429.11L208.92 483.62M260.11 428.8L208.38 483.11M259.03 427.76L206.63 481.42M258.69 427.43L206.07 480.87M256.97 425.7L203.27 478.06M256.45 425.16L202.42 477.18M255.01 423.64L200.09 474.71M254.58 423.18L199.39 473.96M252.66 421.04L196.27 470.48M252.02 420.29L195.21 469.27M251.47 419.66L194.33 468.23M251.05 419.15L193.63 467.41M250.03 417.93L191.99 465.43M249.84 417.7L191.67 465.04M247.98 415.35L188.65 461.23M247.58 414.84L188 460.39M247.16 414.28L187.31 459.48M246.72 413.7L186.6 458.53M246.57 413.5L186.36 458.21M246.5 413.4L186.23 458.04M243.35 408.93L181.11 450.78M243.27 408.82L180.98 450.59M243.17 408.67L180.82 450.36M241.01 405.31L177.3 444.89M240.55 404.57L176.55 443.68M239.79 403.32L175.33 441.64M239.18 402.26L174.32 439.93M238.83 401.66L173.76 438.95M237.88 399.97L172.2 436.19M237.58 399.42L171.72 435.3M237.26 398.84L171.21 434.36M236.64 397.67L170.2 432.46M236.56 397.52L170.07 432.21M235.89 396.22L168.98 430.09M235.83 396.09L168.88 429.89M235.72 395.87L168.69 429.53M235.43 395.3L168.23 428.6M235.07 394.56L167.64 427.4M234.94 394.3L167.43 426.97M234.69 393.77L167.02 426.11M234.09 392.49L166.04 424.03M233.82 391.91L165.6 423.08M233.58 391.39L165.22 422.23M232.99 390.06L164.26 420.08M232.95 389.96L164.19 419.9M232.83 389.69L164 419.47M232.47 388.85L163.41 418.1M232.35 388.57L163.22 417.64M232.31 388.47L163.15 417.49M232.1 387.97L162.81 416.67M231.91 387.5L162.5 415.9M231.44 386.33L161.73 414.01M230.1 382.8L159.56 408.27M229.9 382.24L159.23 407.34M229.84 382.06L159.13 407.06M229.04 379.74L157.83 403.27M229 379.61L157.77 403.07M228.69 378.65L157.26 401.5M228.58 378.3L157.07 400.93M228.24 377.22L156.53 399.18M228.09 376.73L156.29 398.38M227.46 374.56L155.26 394.85M227.23 373.74L154.89 393.52M227 372.87L154.51 392.1M226.97 372.76L154.46 391.92M226.66 371.57L153.96 389.99M226.6 371.32L153.86 389.58M226.45 370.71L153.61 388.59M225.38 365.96L151.88 380.87M225.25 365.31L151.67 379.8M225.17 364.88L151.53 379.1M225.11 364.55L151.43 378.56M224.9 363.41L151.08 376.71M224.74 362.52L150.83 375.26M224.62 361.82L150.64 374.12M224.51 361.13L150.45 372.99M224.4 360.41L150.27 371.84M224.27 359.59L150.07 370.49M224.22 359.24L149.98 369.92M224.03 357.89L149.68 367.73M223.94 357.19L149.53 366.58M223.67 354.84L149.09 362.77M223.66 354.79L149.08 362.68M223.62 354.36L149.01 361.99M223.62 354.33L149 361.94M223.57 353.9L148.93 361.24M223.54 353.54L148.88 360.65M223.48 352.89L148.78 359.59M223.28 350.36L148.45 355.48M223.23 349.56L148.37 354.18M223.15 348.28L148.25 352.09M223.11 347.37L148.18 350.61M223.09 346.74L148.14 349.58M223.02 344.16L148.03 345.39M223.01 344.07L148.02 345.24M223.04 339.05L148.07 337.08M223.06 338.52L148.09 336.21M223.09 337.64L148.14 334.78M223.34 333.21L148.55 327.58M223.38 332.66L148.62 326.67M223.55 330.73L148.9 323.54M223.72 329.06L149.18 320.81M223.76 328.75L149.24 320.31M223.86 327.92L149.39 318.97M223.93 327.35L149.51 318.04M224.06 326.31L149.73 316.34M224.14 325.72L149.86 315.39M224.46 323.54L150.38 311.84M225.14 319.7L151.47 305.59M226.17 314.84L153.16 297.67M226.31 314.26L153.38 296.74M226.68 312.76L153.99 294.29M226.84 312.14L154.25 293.29M226.87 312.02L154.3 293.1M226.95 311.72L154.43 292.61M227.61 309.31L155.5 288.68M228.03 307.9L156.18 286.38M228.54 306.23L157.01 283.68M228.9 305.11L157.59 281.86M229.86 302.26L159.17 277.22M229.95 302.02L159.31 276.82M231.27 298.49L161.46 271.08M231.73 297.34L162.2 269.22M232.12 296.39L162.84 267.66M233.15 293.99L164.51 263.76M233.45 293.31L165 262.65M233.47 293.26L165.03 262.58M234.15 291.77L166.14 260.15M234.19 291.69L166.21 260.02M234.62 290.78L166.91 258.53M234.63 290.74L166.93 258.48M235.44 289.09L168.24 255.78M235.8 288.36L168.83 254.6M236.51 286.99L169.98 252.37M237.96 284.27L172.35 247.95M238.51 283.3L173.24 246.36M238.6 283.14L173.38 246.11M238.7 282.97L173.54 245.82M239.12 282.24L174.22 244.64M239.44 281.68L174.75 243.73M239.67 281.29L175.13 243.09M240.27 280.29L176.1 241.47M241.79 277.84L178.57 237.49M244.28 274.11L182.62 231.41M244.59 273.66L183.12 230.68M244.63 273.6L183.19 230.59M245.23 272.75L184.17 229.2M245.88 271.84L185.23 227.72M246.34 271.21L185.98 226.7M246.54 270.95L186.3 226.27M247.36 269.85L187.64 224.48M249.11 267.61L190.48 220.84M252.45 263.61L195.92 214.32M252.87 263.12L196.61 213.53M253.94 261.93L198.33 211.6M254.09 261.76L198.59 211.32M255.01 260.77L200.08 209.7M255.79 259.93L201.35 208.35M256.13 259.57L201.91 207.75M256.24 259.46L202.08 207.57M256.79 258.89L202.98 206.64M257.27 258.4L203.75 205.85M257.9 257.76L204.78 204.82M259.25 256.43L206.98 202.64M259.93 255.78L208.08 201.58M260.76 254.98L209.44 200.29M261.61 254.2L210.82 199.01M262.08 253.76L211.59 198.3M263.18 252.78L213.38 196.7M264.52 251.6L215.55 194.79M264.97 251.22L216.29 194.16M265.52 250.75L217.19 193.4M265.66 250.63L217.41 193.22M266.18 250.2L218.25 192.51M266.23 250.16L218.34 192.44M267.53 249.1L220.45 190.71M268.02 248.71L221.24 190.08M268.22 248.54L221.58 189.81M268.74 248.13L222.42 189.14M269.17 247.8L223.12 188.6M270.65 246.66L225.53 186.75M271.93 245.71L227.62 185.2M272.47 245.32L228.5 184.56M273 244.94L229.35 183.95M274.56 243.84L231.89 182.16M275.02 243.52L232.65 181.64M275.75 243.02L233.84 180.83M275.96 242.89L234.16 180.61M278.3 241.36L237.97 178.12M278.83 241.02L238.84 177.57M278.99 240.92L239.09 177.41M279.63 240.52L240.14 176.76M279.88 240.37L240.55 176.51M280.07 240.25L240.86 176.31M280.91 239.74L242.23 175.48M281.78 239.22L243.64 174.64M282.71 238.68L245.15 173.76M283.81 238.04L246.95 172.73M284.43 237.7L247.96 172.16M285.95 236.87L250.43 170.81M286.11 236.78L250.69 170.67M287.14 236.24L252.36 169.79M287.55 236.02L253.04 169.44M287.71 235.94L253.29 169.3M288.24 235.67L254.16 168.86M289.42 235.07L256.07 167.89M289.67 234.95L256.47 167.7M289.73 234.92L256.58 167.65M290.4 234.59L257.66 167.12M290.64 234.47L258.06 166.92M292.16 233.76L260.53 165.75M292.94 233.4L261.8 165.17M293.49 233.15L262.7 164.76M293.61 233.09L262.89 164.67M293.68 233.06L263 164.62M293.9 232.96L263.37 164.46M294.02 232.91L263.56 164.37M294.22 232.82L263.88 164.23M294.7 232.61L264.66 163.89M295.53 232.25L266.02 163.3M296.16 231.99L267.03 162.87M296.46 231.86L267.53 162.66M298.06 231.2L270.13 161.6M298.21 231.14L270.38 161.5M298.91 230.87L271.51 161.05M299.8 230.52L272.96 160.49M300.77 230.15L274.53 159.89M301.19 230L275.21 159.64M301.63 229.84L275.93 159.38M302.01 229.7L276.56 159.15M302.31 229.59L277.04 158.97M304.16 228.95L280.06 157.92M304.4 228.86L280.45 157.79M305.26 228.58L281.84 157.33M305.84 228.39L282.79 157.02M306.09 228.31L283.19 156.89" stroke="#e6beb2" stroke-width="0.5" fill="none"/><path d="M345.29 222.63L346.97 147.65M345.32 222.63L347.03 147.65M345.56 222.64L347.42 147.66M349.99 222.83L354.62 147.97M352.44 223.01L358.61 148.26M352.54 223.01L358.77 148.27M353.28 223.08L359.97 148.38M355.74 223.32L363.98 148.78M359.09 223.74L369.44 149.46M362.05 224.19L374.25 150.19M364.09 224.55L377.56 150.77M366.15 224.94L380.92 151.41M367.95 225.32L383.84 152.02M374.99 227.07L395.3 154.87M378.24 228.03L400.59 156.44M379.42 228.41L402.52 157.05M383.18 229.69L408.63 159.14M386.29 230.86L413.68 161.05M392.09 233.32L423.13 165.04M392.43 233.48L423.68 165.3M394.77 234.58L427.49 167.09M399.23 236.86L434.74 170.8M400.14 237.35L436.22 171.6M403.93 239.52L442.39 175.13M404.73 240.01L443.69 175.92M410.52 243.76L453.11 182.02M411 244.09L453.89 182.57M412.93 245.47L457.04 184.8M432.02 262.77L488.09 212.96M432.29 263.08L488.53 213.46M434.25 265.36L491.72 217.17M441.2 274.5L503.03 232.05M447.05 283.95L512.56 247.41M448 285.68L514.1 250.23M449.28 288.12L516.17 254.21M449.91 289.38L517.2 256.26M451.15 291.98L519.21 260.49M451.26 292.22L519.39 260.88M451.55 292.85L519.86 261.91M452.04 293.96L520.67 263.71M452.71 295.5L521.76 266.22M453.02 296.25L522.26 267.43M453.2 296.68L522.56 268.14M454.07 298.86L523.97 271.68M454.16 299.09L524.12 272.06M454.62 300.31L524.87 274.04M455.2 301.87L525.8 276.58M457.19 307.94L529.05 286.46M457.55 309.17L529.63 288.46M457.7 309.71L529.88 289.33M457.87 310.3L530.15 290.3M458.02 310.84L530.39 291.18M458.07 311.05L530.48 291.52M458.59 313.02L531.32 294.72M459.18 315.49L532.28 298.73M459.22 315.68L532.36 299.06M459.42 316.58L532.68 300.52M459.64 317.58L533.03 302.14M459.92 318.95L533.49 304.36M460.23 320.58L534 307.03M460.36 321.28L534.2 308.16M460.42 321.64L534.3 308.75M460.52 322.21L534.46 309.68M460.88 324.48L535.05 313.38M460.95 324.93L535.16 314.1M461.05 325.67L535.33 315.31M461.09 325.92L535.39 315.72M461.15 326.37L535.49 316.44M461.45 328.78L535.97 320.37M461.56 329.82L536.15 322.05M461.62 330.43L536.26 323.05M461.64 330.6L536.28 323.32M461.73 331.63L536.44 325.01M461.9 333.69L536.71 328.35M461.96 334.64L536.81 329.91M462.07 336.56L536.98 333.02M462.15 338.89L537.13 336.82M462.16 339.14L537.14 337.22M462.18 339.91L537.16 338.48M462.2 341.41L537.2 340.91M462.19 344.04L537.18 345.19M462.17 344.86L537.15 346.52M462.15 345.62L537.12 347.76M462.03 348.5L536.93 352.45M462.01 348.99L536.89 353.25M461.94 350.11L536.77 355.07M460.95 359.48L535.16 370.31M460.74 360.86L534.82 372.56M460.66 361.36L534.69 373.37M459.8 366.04L533.3 380.98M459.65 366.76L533.05 382.16M459.59 367.07L532.95 382.66M459.18 368.92L532.28 385.68M459.12 369.17L532.19 386.09M458.24 372.71L530.76 391.84M458.14 373.08L530.6 392.45M457.18 376.47L529.04 397.96M456.93 377.31L528.63 399.33M456.82 377.66L528.45 399.89M456.72 377.99L528.28 400.44M455.82 380.73L526.83 404.89M455.63 381.3L526.51 405.82M454.7 383.89L524.99 410.04M453.72 386.44L523.4 414.18M451.65 391.32L520.03 422.13M451.26 392.17L519.4 423.51M450.96 392.82L518.91 424.56M450.88 392.99L518.78 424.84M450.59 393.61L518.3 425.85M449.64 395.54L516.77 429M449.42 395.99L516.41 429.71M448.71 397.39L515.24 431.99M446.98 400.58L512.44 437.2M446.26 401.86L511.26 439.27M445.98 402.33L510.81 440.04M444.44 404.9L508.31 444.23M444.2 405.3L507.91 444.88M444.09 405.47L507.74 445.15M443.15 406.96L506.2 447.57M441.07 410.08L502.82 452.65M439.18 412.74L499.75 456.97M438.56 413.59L498.73 458.36M438.28 413.96L498.27 458.97M437.06 415.56L496.3 461.56M433.67 419.73L490.78 468.34M433.05 420.45L489.77 469.51M429.46 424.42L483.92 475.98M429.25 424.64L483.59 476.33M428.8 425.11L482.85 477.1M423.92 429.9L474.91 484.9M417.94 435.09L465.19 493.34M417.27 435.62L464.1 494.21M409.75 441.17L451.85 503.24M409.69 441.21L451.76 503.3M409.16 441.57L450.9 503.88M408.88 441.75L450.45 504.18M400.76 446.71L437.23 512.24M399.51 447.39L435.2 513.36M397.14 448.64L431.35 515.38M391.58 451.31L422.29 519.74M388.68 452.57L417.57 521.78M388.35 452.7L417.04 522M385.51 453.84L412.41 523.85M381.76 455.21L406.32 526.07M380.67 455.58L404.54 526.68M378.61 456.25L401.19 527.77M375.7 457.13L396.45 529.2M370.76 458.44L388.43 531.33M360.98 460.38L372.51 534.49M351.64 461.46L357.31 536.24M342.94 461.8L343.16 536.8M339.01 461.75L336.77 536.71M338.1 461.72L335.27 536.66M336.95 461.67L333.4 536.58M335.94 461.61L331.76 536.5M333 461.41L326.98 536.17M331.68 461.3L324.83 535.99M331.07 461.24L323.84 535.89M330.88 461.22L323.54 535.86M329.38 461.07L321.1 535.61M328.96 461.02L320.4 535.53M327.81 460.88L318.54 535.31M326.99 460.78L317.21 535.14M326.67 460.73L316.68 535.07M326.22 460.67L315.95 534.97M324.64 460.44L313.37 534.59M324.05 460.35L312.42 534.45M323.08 460.2L310.83 534.19M322.09 460.03L309.23 533.92M321.55 459.93L308.35 533.76M321.44 459.91L308.18 533.73M318.33 459.31L303.12 532.75M316.62 458.94L300.33 532.15M315.62 458.72L298.71 531.78M315.22 458.62L298.06 531.63M314.56 458.47L296.98 531.38M314.29 458.4L296.53 531.27M313.79 458.28L295.72 531.07M313.74 458.27L295.64 531.05M312.97 458.07L294.39 530.73M312.05 457.83L292.9 530.35M311.46 457.67L291.93 530.09M311.3 457.63L291.67 530.02M310.81 457.5L290.87 529.8M309.93 457.25L289.44 529.4M309.7 457.18L289.06 529.29M309.13 457.02L288.15 529.03M307.88 456.65L286.11 528.42M307.35 456.49L285.24 528.15M307.04 456.39L284.75 528M304.21 455.47L280.14 526.5M303.7 455.3L279.31 526.22M303.48 455.22L278.95 526.1M303.25 455.14L278.57 525.96M302.77 454.97L277.8 525.69M300.71 454.22L274.44 524.47M299.05 453.59L271.75 523.44M298.97 453.56L271.62 523.39M298.17 453.24L270.31 522.87M296.89 452.72L268.22 522.03M296.72 452.65L267.95 521.91M295.92 452.31L266.64 521.36M294.96 451.9L265.08 520.69M291.96 450.55L260.21 518.5M291.1 450.14L258.81 517.84M290.55 449.88L257.91 517.4M289.83 449.53L256.74 516.84M289.7 449.46L256.52 516.73M289.5 449.36L256.2 516.57M288.87 449.05L255.18 516.06M287.55 448.38L253.02 514.96M286.66 447.91L251.59 514.21M286.03 447.58L250.55 513.66M285.6 447.34L249.86 513.28M284.64 446.82L248.29 512.42M283.7 446.29L246.76 511.56M283.4 446.12L246.28 511.29M283.24 446.03L246.02 511.14M283 445.89L245.63 510.92M282.55 445.63L244.89 510.49M281.54 445.04L243.26 509.53M280.88 444.64L242.18 508.89M279.83 444L240.47 507.84M279.64 443.89L240.15 507.65M279.58 443.85L240.06 507.59M278.76 443.33L238.72 506.75M278.58 443.22L238.43 506.57M277.95 442.82L237.41 505.92M277.93 442.81L237.37 505.9M277.73 442.68L237.04 505.68M277.35 442.43L236.43 505.28M277.07 442.25L235.98 504.99M276.75 442.04L235.45 504.65M276.49 441.87L235.04 504.37M276.08 441.59L234.36 503.92M275.94 441.5L234.14 503.77M274.96 440.83L232.54 502.68M274.56 440.56L231.89 502.24M273.98 440.16L230.95 501.59M272.88 439.38L229.16 500.31M272.17 438.86L228.01 499.48M271.92 438.68L227.6 499.18M269.6 436.94L223.82 496.35M266.88 434.78L219.4 492.84M265.19 433.37L216.64 490.54M261.73 430.31L211.01 485.57M260.92 429.56L209.7 484.35M260.73 429.39L209.39 484.06M259.97 428.67L208.15 482.89M259.83 428.53L207.93 482.67M259.79 428.49L207.86 482.61M259.55 428.27L207.48 482.24M259.28 428L207.03 481.81M258.36 427.1L205.54 480.35M258.26 426.99L205.36 480.17M258.16 426.9L205.22 480.02M257.62 426.35L204.32 479.13M256.72 425.44L202.86 477.63M256.3 425.01L202.19 476.93M256.23 424.93L202.06 476.8M255.64 424.31L201.11 475.8M255.17 423.81L200.35 474.99M255.13 423.77L200.28 474.92M255.08 423.71L200.2 474.83M254.74 423.35L199.65 474.24M254.3 422.87L198.93 473.45M253.62 422.12L197.82 472.23M253.43 421.91L197.51 471.89M253.27 421.72L197.25 471.59M253.11 421.55L196.99 471.31M252.86 421.26L196.58 470.84M250.93 419.02L193.44 467.19M250.72 418.77L193.1 466.78M250.36 418.33L192.52 466.07M249.27 417L190.75 463.9M249.15 416.84L190.55 463.65M248.86 416.48L190.08 463.06M248.37 415.85L189.28 462.04M248.07 415.46L188.78 461.41M247.38 414.57L187.67 459.96M246.86 413.88L186.82 458.83M246.59 413.52L186.39 458.25M246.41 413.28L186.09 457.85M245.81 412.45L185.11 456.51M245.57 412.13L184.73 455.98M244.91 411.2L183.65 454.47M244.49 410.6L182.96 453.49M244.27 410.28L182.61 452.98M243.64 409.37L181.59 451.49M243.54 409.22L181.43 451.25M243.07 408.52L180.66 450.11M242.79 408.09L180.2 449.41M242.64 407.86L179.95 449.04M242.24 407.26L179.31 448.06M241.89 406.71L178.73 447.16M241.68 406.39L178.4 446.64M241.54 406.16L178.16 446.26M241.42 405.96L177.96 445.95M241.29 405.76L177.76 445.62M241.23 405.67L177.67 445.48M240.18 403.96L175.95 442.69M240.02 403.7L175.7 442.26M239.78 403.29L175.3 441.6M239.25 402.4L174.45 440.15M238.65 401.35L173.46 438.44M237.78 399.8L172.05 435.92M237.37 399.04L171.38 434.69M237.31 398.93L171.29 434.51M237.1 398.54L170.94 433.87M236.86 398.08L170.55 433.13M236.78 397.93L170.42 432.88M236.66 397.7L170.22 432.5M236.44 397.29L169.88 431.84M236.4 397.21L169.8 431.7M235.65 395.74L168.58 429.31M235.35 395.12L168.09 428.31M235.17 394.76L167.8 427.71M235.04 394.5L167.59 427.3M234.52 393.4L166.74 425.51M234.39 393.13L166.53 425.07M234.37 393.1L166.5 425.02M234.26 392.87L166.33 424.64M233.88 392.05L165.71 423.31M233.57 391.35L165.19 422.18M233.52 391.26L165.12 422.02M233.48 391.17L165.06 421.87M233.43 391.04L164.96 421.66M233.31 390.77L164.77 421.23M233.14 390.39L164.49 420.6M233.12 390.34L164.46 420.53M232.81 389.65L163.97 419.4M231.39 386.22L161.66 413.82M231.35 386.11L161.59 413.65M231.14 385.56L161.24 412.76M230.94 385.05L160.92 411.92M230.45 383.76L160.13 409.82M230.35 383.49L159.97 409.39M230.19 383.04L159.7 408.65M229.39 380.76L158.39 404.95M229.31 380.53L158.27 404.57M228.95 379.46L157.68 402.82M228.94 379.42L157.66 402.75M228.44 377.85L156.85 400.2M228.41 377.75L156.8 400.05M228.27 377.32L156.58 399.35M227.82 375.82L155.85 396.9M227.82 375.8L155.84 396.87M227.67 375.28L155.59 396.03M227.65 375.22L155.56 395.93M227.4 374.34L155.16 394.5M227.32 374.04L155.02 394.01M227.2 373.61L154.83 393.31M227.06 373.09L154.6 392.46M226.8 372.1L154.18 390.86M226.44 370.66L153.59 388.51M225.53 366.69L152.12 382.05M225.37 365.9L151.86 380.77M225.2 365.06L151.59 379.39M224.92 363.53L151.12 376.9M224.8 362.89L150.93 375.86M224.33 360L150.17 371.17M223.98 357.5L149.6 367.1M223.9 356.81L149.46 365.97M223.8 356.03L149.3 364.7M223.77 355.77L149.26 364.28M223.72 355.27L149.17 363.47M223.63 354.46L149.03 362.15M223.47 352.78L148.76 359.41M223.46 352.66L148.75 359.22M223.18 348.7L148.29 352.78M223.1 347.19L148.17 350.32M223.08 346.46L148.12 349.12M223.03 344.77L148.04 346.38M223.01 343.38L148.01 344.13M223 342.82L148 343.21M223 342.56L148 342.78M223 342.4L148 342.53M223.01 340.4L148.02 339.27M223.05 338.8L148.08 336.66M223.08 337.93L148.12 335.25M223.15 336.18L148.25 332.41M223.18 335.61L148.3 331.47M223.25 334.55L148.4 329.75M223.3 333.79L148.48 328.52M223.33 333.33L148.54 327.77M223.37 332.84L148.6 326.97M223.42 332.2L148.68 325.93M223.42 332.17L148.69 325.87M223.53 330.96L148.86 323.92M223.68 329.47L149.1 321.49M223.88 327.7L149.43 318.62M224.07 326.22L149.74 316.2M224.18 325.43L149.92 314.91M224.19 325.34L149.94 314.77M224.26 324.87L150.05 314M224.27 324.83L150.06 313.93M224.36 324.22L150.21 312.94M224.37 324.13L150.23 312.8M224.53 323.12L150.49 311.15M224.78 321.63L150.9 308.73M224.85 321.23L151.01 308.08M225.37 318.51L151.86 303.66M225.51 317.84L152.08 302.56M225.88 316.13L152.68 299.78M226.36 314.06L153.46 296.41M226.77 312.41L154.14 293.72M226.89 311.93L154.34 292.94M226.91 311.86L154.36 292.84M226.99 311.56L154.5 292.34M227.26 310.57L154.93 290.74M227.39 310.1L155.14 289.96M227.69 309.04L155.63 288.25M227.95 308.14L156.06 286.78M228.05 307.82L156.21 286.26M228.49 306.37L156.94 283.9M229.34 303.78L158.32 279.68M229.56 303.14L158.67 278.64M230.83 299.65L160.73 272.96M232.29 295.99L163.11 267.01M232.93 294.49L164.15 264.58M233.34 293.55L164.82 263.05M233.98 292.14L165.87 260.74M235.82 288.34L168.85 254.56M235.96 288.04L169.09 254.08M236.13 287.72L169.36 253.56M236.69 286.63L170.28 251.79M237.01 286.03L170.8 250.8M237.18 285.71L171.07 250.29M237.47 285.18L171.54 249.42M237.8 284.57L172.08 248.43M239.83 281.02L175.39 242.65M242.22 277.18L179.27 236.41M242.86 276.2L180.32 234.81M246.79 270.62L186.7 225.73M246.85 270.54L186.8 225.6M247.58 269.57L187.99 224.03M247.95 269.08L188.6 223.23M249.07 267.66L190.42 220.91M249.16 267.54L190.57 220.73M252.4 263.66L195.84 214.41M252.51 263.54L196.01 214.21M252.58 263.46L196.13 214.08M252.95 263.03L196.73 213.39M253.25 262.69L197.23 212.83M253.52 262.39L197.66 212.35M254.28 261.55L198.9 210.98M254.91 260.87L199.92 209.87M255.71 260.01L201.23 208.47M256.9 258.77L203.16 206.46M259 256.67L206.57 203.04M259.61 256.08L207.56 202.08M260.96 254.8L209.77 199.99M261.73 254.09L211.01 198.83M263.54 252.46L213.96 196.19M264.64 251.5L215.75 194.62M268.18 248.57L221.52 189.86M268.96 247.96L222.79 188.86M269.74 247.35L224.05 187.88M274.52 243.87L231.83 182.2M277.74 241.71L237.07 178.7M278.46 241.25L238.23 177.95M278.66 241.13L238.56 177.75M280.59 239.93L241.71 175.8M282.12 239.02L244.19 174.32M285.18 237.28L249.18 171.49M286.27 236.7L250.95 170.54M289.99 234.79L257 167.44M291.85 233.9L260.03 165.99M292.57 233.57L261.19 165.45M293.56 233.11L262.81 164.71M294.47 232.71L264.29 164.05M296.97 231.65L268.36 162.32M297.71 231.34L269.57 161.82M297.81 231.3L269.73 161.76M300.04 230.43L273.35 160.34M300.18 230.38L273.57 160.25M302.68 229.46L277.65 158.76M303.16 229.29L278.43 158.48M306.57 228.16L283.97 156.64M307.3 227.93L285.16 156.27" stroke="#e2714f" stroke-opacity="0.8" stroke-width="0.5" fill="none"/><path d="M342.6 237.7A104.5 104.5 0 0 1 431.8 287.75L393.39 311.2A59.5 59.5 0 0 0 342.6 282.7Z" fill="#9e0142"/><path d="M433.42 290.5A104.5 104.5 0 0 1 439.42 381.52L397.73 364.59A59.5 59.5 0 0 0 394.31 312.77Z" fill="#9e0142"/><path d="M438.18 384.45A104.5 104.5 0 0 1 346.01 446.64L344.54 401.67A59.5 59.5 0 0 0 397.02 366.26Z" fill="#9e0142"/><path d="M343.07 446.7A104.5 104.5 0 0 1 274.52 421.48L303.84 387.34A59.5 59.5 0 0 0 342.87 401.7Z" fill="#9e0142"/><path d="M272.1 419.33A104.5 104.5 0 0 1 241.09 367.04L284.81 356.34A59.5 59.5 0 0 0 302.46 386.12Z" fill="#9e0142"/><path d="M240.35 363.78A104.5 104.5 0 0 1 261.16 276.72L296.23 304.92A59.5 59.5 0 0 0 284.38 354.49Z" fill="#9e0142"/><path d="M263.2 274.26A104.5 104.5 0 0 1 313.1 241.95L325.8 285.12A59.5 59.5 0 0 0 297.39 303.52Z" fill="#9e0142"/><path d="M342.6 237.7A104.5 104.5 0 0 1 350.25 237.98L346.96 282.86A59.5 59.5 0 0 0 342.6 282.7ZM351.62 238.09A104.5 104.5 0 0 1 352.71 238.19L348.35 282.98A59.5 59.5 0 0 0 347.73 282.92ZM356.51 238.63A104.5 104.5 0 0 1 359.4 239.06L352.16 283.47A59.5 59.5 0 0 0 350.52 283.23ZM367.35 240.67A104.5 104.5 0 0 1 369.12 241.12L357.7 284.65A59.5 59.5 0 0 0 356.69 284.39ZM379.37 244.38A104.5 104.5 0 0 1 380.9 244.97L364.41 286.84A59.5 59.5 0 0 0 363.53 286.5ZM381.92 245.38A104.5 104.5 0 0 1 389.88 249.01L369.52 289.14A59.5 59.5 0 0 0 364.99 287.07ZM397.36 253.19A104.5 104.5 0 0 1 401.19 255.67L375.96 292.93A59.5 59.5 0 0 0 373.78 291.52ZM403.88 257.55A104.5 104.5 0 0 1 407.8 260.53L379.72 295.7A59.5 59.5 0 0 0 377.49 294ZM409.77 262.15A104.5 104.5 0 0 1 410.33 262.62L381.16 296.89A59.5 59.5 0 0 0 380.85 296.62ZM414.14 266.02A104.5 104.5 0 0 1 415.71 267.54L384.23 299.69A59.5 59.5 0 0 0 383.33 298.83ZM416.49 268.31A104.5 104.5 0 0 1 417.26 269.09L385.11 300.57A59.5 59.5 0 0 0 384.67 300.13ZM421.05 273.16A104.5 104.5 0 0 1 425.84 279.02L389.99 306.23A59.5 59.5 0 0 0 387.27 302.89ZM429.13 283.61A104.5 104.5 0 0 1 429.74 284.52L392.22 309.36A59.5 59.5 0 0 0 391.87 308.84ZM433.42 290.5A104.5 104.5 0 0 1 435 293.38L395.21 314.4A59.5 59.5 0 0 0 394.31 312.77ZM435.33 294.03A104.5 104.5 0 0 1 437.95 299.45L396.89 317.86A59.5 59.5 0 0 0 395.4 314.77ZM439.39 302.8A104.5 104.5 0 0 1 440.19 304.84L398.17 320.93A59.5 59.5 0 0 0 397.71 319.77ZM440.8 306.46A104.5 104.5 0 0 1 442.43 311.3L399.44 324.61A59.5 59.5 0 0 0 398.51 321.85ZM443.82 316.21A104.5 104.5 0 0 1 444.46 318.87L400.6 328.92A59.5 59.5 0 0 0 400.23 327.4ZM444.64 319.67A104.5 104.5 0 0 1 445.51 324.05L401.2 331.87A59.5 59.5 0 0 0 400.7 329.37ZM446.45 330.55A104.5 104.5 0 0 1 446.94 336.37L402.01 338.88A59.5 59.5 0 0 0 401.73 335.57ZM447.04 338.55A104.5 104.5 0 0 1 447.08 340.19L402.09 341.06A59.5 59.5 0 0 0 402.06 340.12ZM446.98 347.3A104.5 104.5 0 0 1 446.67 351.67L401.86 347.59A59.5 59.5 0 0 0 402.03 345.11ZM446.51 353.3A104.5 104.5 0 0 1 445.93 357.83L401.43 351.1A59.5 59.5 0 0 0 401.76 348.52ZM444.06 367.22A104.5 104.5 0 0 1 441.01 377.34L398.63 362.21A59.5 59.5 0 0 0 400.37 356.44ZM440.61 378.45A104.5 104.5 0 0 1 439.42 381.52L397.73 364.59A59.5 59.5 0 0 0 398.4 362.84ZM438.18 384.45A104.5 104.5 0 0 1 432.36 395.71L393.71 372.67A59.5 59.5 0 0 0 397.02 366.26ZM431.32 397.42A104.5 104.5 0 0 1 429.84 399.73L392.27 374.95A59.5 59.5 0 0 0 393.11 373.64ZM428.93 401.09A104.5 104.5 0 0 1 428.51 401.69L391.52 376.07A59.5 59.5 0 0 0 391.75 375.73ZM424.15 407.54A104.5 104.5 0 0 1 419.77 412.66L386.54 382.32A59.5 59.5 0 0 0 389.04 379.4ZM417.26 415.31A104.5 104.5 0 0 1 416.49 416.09L384.67 384.27A59.5 59.5 0 0 0 385.11 383.83ZM412.79 419.61A104.5 104.5 0 0 1 408.22 423.53L379.96 388.51A59.5 59.5 0 0 0 382.57 386.28ZM405.85 425.38A104.5 104.5 0 0 1 403.51 427.12L377.28 390.55A59.5 59.5 0 0 0 378.61 389.56ZM386.43 437.06A104.5 104.5 0 0 1 383.77 438.25L366.04 396.89A59.5 59.5 0 0 0 367.56 396.21ZM380.73 439.5A104.5 104.5 0 0 1 378.34 440.4L362.95 398.11A59.5 59.5 0 0 0 364.31 397.6ZM377.22 440.8A104.5 104.5 0 0 1 376.19 441.15L361.73 398.54A59.5 59.5 0 0 0 362.31 398.34ZM372.19 442.42A104.5 104.5 0 0 1 370.61 442.87L358.55 399.52A59.5 59.5 0 0 0 359.45 399.26ZM369.82 443.09A104.5 104.5 0 0 1 364.86 444.3L355.28 400.33A59.5 59.5 0 0 0 358.1 399.65ZM353.34 446.15A104.5 104.5 0 0 1 351.16 446.35L347.48 401.5A59.5 59.5 0 0 0 348.72 401.38ZM349.53 446.47A104.5 104.5 0 0 1 347.89 446.57L345.61 401.62A59.5 59.5 0 0 0 346.54 401.57ZM333.49 446.3A104.5 104.5 0 0 1 332.4 446.2L336.79 401.42A59.5 59.5 0 0 0 337.41 401.47ZM321.68 444.58A104.5 104.5 0 0 1 318.83 443.96L329.06 400.14A59.5 59.5 0 0 0 330.69 400.5ZM309.53 441.33A104.5 104.5 0 0 1 305.92 440.05L321.71 397.91A59.5 59.5 0 0 0 323.77 398.64ZM298.44 436.91A104.5 104.5 0 0 1 295 435.23L315.5 395.17A59.5 59.5 0 0 0 317.45 396.13ZM292.34 433.82A104.5 104.5 0 0 1 291.7 433.46L313.62 394.16A59.5 59.5 0 0 0 313.98 394.37ZM290.27 432.65A104.5 104.5 0 0 1 286.99 430.68L310.94 392.58A59.5 59.5 0 0 0 312.81 393.7ZM282.29 427.54A104.5 104.5 0 0 1 281.69 427.12L307.92 390.55A59.5 59.5 0 0 0 308.26 390.79ZM281.25 426.8A104.5 104.5 0 0 1 279.49 425.49L306.67 389.62A59.5 59.5 0 0 0 307.67 390.37ZM277.19 423.7A104.5 104.5 0 0 1 274.52 421.48L303.84 387.34A59.5 59.5 0 0 0 305.36 388.6ZM269.9 417.27A104.5 104.5 0 0 1 267.84 415.21L300.03 383.77A59.5 59.5 0 0 0 301.21 384.94ZM267.26 414.62A104.5 104.5 0 0 1 266.51 413.83L299.28 382.98A59.5 59.5 0 0 0 299.71 383.43ZM257 402.14A104.5 104.5 0 0 1 254.86 398.96L292.64 374.52A59.5 59.5 0 0 0 293.86 376.33ZM253.98 397.58A104.5 104.5 0 0 1 252.01 394.29L291.02 371.86A59.5 59.5 0 0 0 292.14 373.73ZM249.57 389.8A104.5 104.5 0 0 1 248.28 387.19L288.9 367.82A59.5 59.5 0 0 0 289.63 369.3ZM243.27 374.67A104.5 104.5 0 0 1 242.1 370.83L285.38 358.5A59.5 59.5 0 0 0 286.04 360.69ZM241.66 369.25A104.5 104.5 0 0 1 241.09 367.04L284.81 356.34A59.5 59.5 0 0 0 285.13 357.6ZM238.96 355.6A104.5 104.5 0 0 1 238.71 353.43L283.44 348.59A59.5 59.5 0 0 0 283.59 349.83ZM238.11 340.56A104.5 104.5 0 0 1 238.5 333.09L283.33 337.01A59.5 59.5 0 0 0 283.11 341.27ZM238.55 332.55A104.5 104.5 0 0 1 239.36 326.03L283.82 332.99A59.5 59.5 0 0 0 283.35 336.7ZM239.62 324.41A104.5 104.5 0 0 1 239.82 323.34L284.08 331.46A59.5 59.5 0 0 0 283.97 332.07ZM240.58 319.58A104.5 104.5 0 0 1 241.71 314.98L285.15 326.7A59.5 59.5 0 0 0 284.51 329.32ZM242.05 313.75A104.5 104.5 0 0 1 243.16 310.08L285.98 323.91A59.5 59.5 0 0 0 285.35 326ZM244.25 306.89A104.5 104.5 0 0 1 244.62 305.86L286.81 321.51A59.5 59.5 0 0 0 286.6 322.09ZM246.41 301.37A104.5 104.5 0 0 1 248.52 296.72L289.03 316.3A59.5 59.5 0 0 0 287.83 318.95ZM250.59 292.66A104.5 104.5 0 0 1 251.65 290.74L290.81 312.9A59.5 59.5 0 0 0 290.21 313.99ZM252.47 289.32A104.5 104.5 0 0 1 254.86 285.44L292.64 309.88A59.5 59.5 0 0 0 291.28 312.09ZM264.27 273.02A104.5 104.5 0 0 1 265 272.21L298.42 302.35A59.5 59.5 0 0 0 298 302.81ZM269.75 267.28A104.5 104.5 0 0 1 271.46 265.65L302.1 298.61A59.5 59.5 0 0 0 301.12 299.54ZM274.25 263.15A104.5 104.5 0 0 1 275.64 261.97L304.47 296.52A59.5 59.5 0 0 0 303.68 297.19ZM276.91 260.93A104.5 104.5 0 0 1 278.26 259.85L305.97 295.31A59.5 59.5 0 0 0 305.2 295.93ZM283.94 255.72A104.5 104.5 0 0 1 284.54 255.31L309.54 292.73A59.5 59.5 0 0 0 309.2 292.96ZM306.26 244.22A104.5 104.5 0 0 1 309.87 242.96L323.97 285.69A59.5 59.5 0 0 0 321.91 286.41ZM311.96 242.29A104.5 104.5 0 0 1 313.1 241.95L325.8 285.12A59.5 59.5 0 0 0 325.15 285.32Z" fill="#d53e4f"/><path d="M350.25 237.98A104.5 104.5 0 0 1 351.62 238.09L347.73 282.92A59.5 59.5 0 0 0 346.96 282.86ZM354.88 238.42A104.5 104.5 0 0 1 356.51 238.63L350.52 283.23A59.5 59.5 0 0 0 349.59 283.11ZM402.54 256.6A104.5 104.5 0 0 1 403.88 257.55L377.49 294A59.5 59.5 0 0 0 376.73 293.46ZM409.07 261.57A104.5 104.5 0 0 1 409.77 262.15L380.85 296.62A59.5 59.5 0 0 0 380.45 296.29ZM418.02 269.87A104.5 104.5 0 0 1 419.15 271.06L386.19 301.7A59.5 59.5 0 0 0 385.54 301.02ZM420.26 272.28A104.5 104.5 0 0 1 421.05 273.16L387.27 302.89A59.5 59.5 0 0 0 386.82 302.39ZM427.14 280.78A104.5 104.5 0 0 1 427.46 281.22L390.92 307.48A59.5 59.5 0 0 0 390.74 307.23ZM443.68 315.68A104.5 104.5 0 0 1 443.82 316.21L400.23 327.4A59.5 59.5 0 0 0 400.15 327.1ZM444.46 318.87A104.5 104.5 0 0 1 444.64 319.67L400.7 329.37A59.5 59.5 0 0 0 400.6 328.92ZM445.2 362.05A104.5 104.5 0 0 1 444.97 363.21L400.88 354.16A59.5 59.5 0 0 0 401.02 353.5ZM444.19 366.68A104.5 104.5 0 0 1 444.06 367.22L400.37 356.44A59.5 59.5 0 0 0 400.44 356.14ZM432.36 395.71A104.5 104.5 0 0 1 431.75 396.72L393.36 373.24A59.5 59.5 0 0 0 393.71 372.67ZM428.51 401.69A104.5 104.5 0 0 1 428.2 402.14L391.34 376.33A59.5 59.5 0 0 0 391.52 376.07ZM425.17 406.25A104.5 104.5 0 0 1 424.15 407.54L389.04 379.4A59.5 59.5 0 0 0 389.61 378.67ZM408.22 423.53A104.5 104.5 0 0 1 407.58 424.04L379.6 388.8A59.5 59.5 0 0 0 379.96 388.51ZM393.58 433.42A104.5 104.5 0 0 1 393.1 433.69L371.36 394.29A59.5 59.5 0 0 0 371.63 394.14ZM391.18 434.72A104.5 104.5 0 0 1 390.12 435.27L369.66 395.19A59.5 59.5 0 0 0 370.26 394.88ZM378.34 440.4A104.5 104.5 0 0 1 377.22 440.8L362.31 398.34A59.5 59.5 0 0 0 362.95 398.11ZM376.19 441.15A104.5 104.5 0 0 1 374.63 441.67L360.84 398.84A59.5 59.5 0 0 0 361.73 398.54ZM373.85 441.92A104.5 104.5 0 0 1 372.72 442.27L359.75 399.18A59.5 59.5 0 0 0 360.39 398.98ZM370.61 442.87A104.5 104.5 0 0 1 369.82 443.09L358.1 399.65A59.5 59.5 0 0 0 358.55 399.52ZM311.87 442.08A104.5 104.5 0 0 1 311.09 441.84L324.66 398.93A59.5 59.5 0 0 0 325.1 399.07ZM305.92 440.05A104.5 104.5 0 0 1 305.15 439.76L321.28 397.75A59.5 59.5 0 0 0 321.71 397.91ZM300.43 437.81A104.5 104.5 0 0 1 298.44 436.91L317.45 396.13A59.5 59.5 0 0 0 318.59 396.64ZM295 435.23A104.5 104.5 0 0 1 292.34 433.82L313.98 394.37A59.5 59.5 0 0 0 315.5 395.17ZM291.7 433.46A104.5 104.5 0 0 1 290.27 432.65L312.81 393.7A59.5 59.5 0 0 0 313.62 394.16ZM286.99 430.68A104.5 104.5 0 0 1 285.99 430.04L310.37 392.21A59.5 59.5 0 0 0 310.94 392.58ZM285.69 429.84A104.5 104.5 0 0 1 284.32 428.94L309.41 391.59A59.5 59.5 0 0 0 310.19 392.1ZM283.64 428.48A104.5 104.5 0 0 1 283.19 428.17L308.77 391.15A59.5 59.5 0 0 0 309.03 391.32ZM281.69 427.12A104.5 104.5 0 0 1 281.25 426.8L307.67 390.37A59.5 59.5 0 0 0 307.92 390.55ZM278.19 424.49A104.5 104.5 0 0 1 277.76 424.15L305.68 388.86A59.5 59.5 0 0 0 305.93 389.05ZM267.84 415.21A104.5 104.5 0 0 1 267.26 414.62L299.71 383.43A59.5 59.5 0 0 0 300.03 383.77ZM265.64 412.89A104.5 104.5 0 0 1 265.27 412.49L298.57 382.22A59.5 59.5 0 0 0 298.78 382.45ZM264.24 411.33A104.5 104.5 0 0 1 262.4 409.19L296.93 380.34A59.5 59.5 0 0 0 297.98 381.56ZM260.11 406.35A104.5 104.5 0 0 1 258.4 404.09L294.66 377.44A59.5 59.5 0 0 0 295.63 378.73ZM257.71 403.14A104.5 104.5 0 0 1 257 402.14L293.86 376.33A59.5 59.5 0 0 0 294.26 376.9ZM248.28 387.19A104.5 104.5 0 0 1 247.89 386.36L288.67 367.35A59.5 59.5 0 0 0 288.9 367.82ZM246.77 383.87A104.5 104.5 0 0 1 246.12 382.36L287.67 365.07A59.5 59.5 0 0 0 288.03 365.93ZM245.11 379.82A104.5 104.5 0 0 1 244.81 379.05L286.92 363.18A59.5 59.5 0 0 0 287.09 363.62ZM239.6 359.84A104.5 104.5 0 0 1 239.46 359.03L283.88 351.78A59.5 59.5 0 0 0 283.95 352.25ZM238.29 348.43A104.5 104.5 0 0 1 238.14 345.15L283.12 343.88A59.5 59.5 0 0 0 283.21 345.75ZM238.11 343.51A104.5 104.5 0 0 1 238.1 342.2L283.1 342.2A59.5 59.5 0 0 0 283.1 342.95ZM241.71 314.98A104.5 104.5 0 0 1 241.85 314.45L285.24 326.4A59.5 59.5 0 0 0 285.15 326.7ZM243.85 308.01A104.5 104.5 0 0 1 244.25 306.89L286.6 322.09A59.5 59.5 0 0 0 286.38 322.73ZM251.65 290.74A104.5 104.5 0 0 1 252.1 289.95L291.07 312.45A59.5 59.5 0 0 0 290.81 312.9ZM257.74 281.22A104.5 104.5 0 0 1 258.76 279.82L294.86 306.68A59.5 59.5 0 0 0 294.28 307.48ZM271.46 265.65A104.5 104.5 0 0 1 272.07 265.09L302.44 298.3A59.5 59.5 0 0 0 302.1 298.61ZM275.64 261.97A104.5 104.5 0 0 1 276.06 261.62L304.71 296.32A59.5 59.5 0 0 0 304.47 296.52ZM278.7 259.52A104.5 104.5 0 0 1 281.62 257.34L307.88 293.88A59.5 59.5 0 0 0 306.21 295.12ZM283.26 256.18A104.5 104.5 0 0 1 283.94 255.72L309.2 292.96A59.5 59.5 0 0 0 308.81 293.22ZM292.98 250.23A104.5 104.5 0 0 1 294.51 249.42L315.22 289.37A59.5 59.5 0 0 0 314.35 289.84ZM303.45 245.31A104.5 104.5 0 0 1 306.26 244.22L321.91 286.41A59.5 59.5 0 0 0 320.31 287.03ZM309.87 242.96A104.5 104.5 0 0 1 311.96 242.29L325.15 285.32A59.5 59.5 0 0 0 323.97 285.69Z" fill="#f46d43"/><path d="M261.35 407.92A104.5 104.5 0 0 1 260.61 407L295.92 379.09A59.5 59.5 0 0 0 296.34 379.62Z" fill="#fdae61"/><path d="M445.51 360.35A104.5 104.5 0 0 1 445.2 362.05L401.02 353.5A59.5 59.5 0 0 0 401.2 352.53ZM444.97 363.21A104.5 104.5 0 0 1 444.46 365.53L400.6 355.48A59.5 59.5 0 0 0 400.88 354.16ZM441.01 377.34A104.5 104.5 0 0 1 440.61 378.45L398.4 362.84A59.5 59.5 0 0 0 398.63 362.21ZM431.75 396.72A104.5 104.5 0 0 1 431.32 397.42L393.11 373.64A59.5 59.5 0 0 0 393.36 373.24ZM429.84 399.73A104.5 104.5 0 0 1 428.93 401.09L391.75 375.73A59.5 59.5 0 0 0 392.27 374.95ZM391.66 434.47A104.5 104.5 0 0 1 391.18 434.72L370.26 394.88A59.5 59.5 0 0 0 370.53 394.74ZM390.12 435.27A104.5 104.5 0 0 1 389.06 435.8L369.06 395.49A59.5 59.5 0 0 0 369.66 395.19ZM382.25 438.88A104.5 104.5 0 0 1 380.73 439.5L364.31 397.6A59.5 59.5 0 0 0 365.18 397.25ZM372.72 442.27A104.5 104.5 0 0 1 372.19 442.42L359.45 399.26A59.5 59.5 0 0 0 359.75 399.18ZM355.7 445.88A104.5 104.5 0 0 1 353.34 446.15L348.72 401.38A59.5 59.5 0 0 0 350.06 401.23ZM332.4 446.2A104.5 104.5 0 0 1 331.86 446.15L336.48 401.38A59.5 59.5 0 0 0 336.79 401.42ZM330.23 445.96A104.5 104.5 0 0 1 329.05 445.82L334.89 401.2A59.5 59.5 0 0 0 335.55 401.28ZM326.16 445.4A104.5 104.5 0 0 1 325.62 445.31L332.93 400.91A59.5 59.5 0 0 0 333.24 400.96ZM272.1 419.33A104.5 104.5 0 0 1 271.09 418.4L301.88 385.59A59.5 59.5 0 0 0 302.46 386.12ZM266.01 413.3A104.5 104.5 0 0 1 265.64 412.89L298.78 382.45A59.5 59.5 0 0 0 298.99 382.68ZM265.27 412.49A104.5 104.5 0 0 1 264.72 411.88L298.26 381.87A59.5 59.5 0 0 0 298.57 382.22ZM262.4 409.19A104.5 104.5 0 0 1 261.35 407.92L296.34 379.62A59.5 59.5 0 0 0 296.93 380.34ZM260.61 407A104.5 104.5 0 0 1 260.11 406.35L295.63 378.73A59.5 59.5 0 0 0 295.92 379.09ZM258.4 404.09A104.5 104.5 0 0 1 257.71 403.14L294.26 376.9A59.5 59.5 0 0 0 294.66 377.44ZM247.89 386.36A104.5 104.5 0 0 1 246.77 383.87L288.03 365.93A59.5 59.5 0 0 0 288.67 367.35ZM245.71 381.35A104.5 104.5 0 0 1 245.11 379.82L287.09 363.62A59.5 59.5 0 0 0 287.43 364.49ZM244.81 379.05A104.5 104.5 0 0 1 243.27 374.67L286.04 360.69A59.5 59.5 0 0 0 286.92 363.18ZM242.1 370.83A104.5 104.5 0 0 1 241.66 369.25L285.13 357.6A59.5 59.5 0 0 0 285.38 358.5ZM240.35 363.78A104.5 104.5 0 0 1 239.6 359.84L283.95 352.25A59.5 59.5 0 0 0 284.38 354.49ZM239.46 359.03A104.5 104.5 0 0 1 239.21 357.41L283.73 350.86A59.5 59.5 0 0 0 283.88 351.78ZM238.71 353.43A104.5 104.5 0 0 1 238.44 350.62L283.29 346.99A59.5 59.5 0 0 0 283.44 348.59ZM238.12 344.06A104.5 104.5 0 0 1 238.11 343.51L283.1 342.95A59.5 59.5 0 0 0 283.11 343.26ZM238.1 342.2A104.5 104.5 0 0 1 238.11 340.56L283.11 341.27A59.5 59.5 0 0 0 283.1 342.2ZM238.5 333.09A104.5 104.5 0 0 1 238.55 332.55L283.35 336.7A59.5 59.5 0 0 0 283.33 337.01ZM239.36 326.03A104.5 104.5 0 0 1 239.62 324.41L283.97 332.07A59.5 59.5 0 0 0 283.82 332.99ZM263.2 274.26A104.5 104.5 0 0 1 264.27 273.02L298 302.81A59.5 59.5 0 0 0 297.39 303.52ZM265 272.21A104.5 104.5 0 0 1 266.17 270.93L299.08 301.62A59.5 59.5 0 0 0 298.42 302.35ZM278.26 259.85A104.5 104.5 0 0 1 278.7 259.52L306.21 295.12A59.5 59.5 0 0 0 305.97 295.31ZM281.62 257.34A104.5 104.5 0 0 1 283.26 256.18L308.81 293.22A59.5 59.5 0 0 0 307.88 293.88ZM284.54 255.31A104.5 104.5 0 0 1 286.53 254.02L310.67 291.99A59.5 59.5 0 0 0 309.54 292.73ZM289.96 251.93A104.5 104.5 0 0 1 291.06 251.29L313.26 290.44A59.5 59.5 0 0 0 312.63 290.8ZM294.51 249.42A104.5 104.5 0 0 1 295 249.17L315.5 289.23A59.5 59.5 0 0 0 315.22 289.37Z" fill="#fee08b"/><path d="M444.46 365.53A104.5 104.5 0 0 1 444.19 366.68L400.44 356.14A59.5 59.5 0 0 0 400.6 355.48ZM343.07 446.7A104.5 104.5 0 0 1 342.25 446.7L342.4 401.7A59.5 59.5 0 0 0 342.87 401.7Z" fill="#abdda4"/><path d="M374.63 441.67A104.5 104.5 0 0 1 373.85 441.92L360.39 398.98A59.5 59.5 0 0 0 360.84 398.84ZM364.86 444.3A104.5 104.5 0 0 1 363.26 444.64L354.36 400.53A59.5 59.5 0 0 0 355.28 400.33ZM284.32 428.94A104.5 104.5 0 0 1 283.64 428.48L309.03 391.32A59.5 59.5 0 0 0 309.41 391.59ZM279.49 425.49A104.5 104.5 0 0 1 278.19 424.49L305.93 389.05A59.5 59.5 0 0 0 306.67 389.62ZM271.09 418.4A104.5 104.5 0 0 1 269.9 417.27L301.21 384.94A59.5 59.5 0 0 0 301.88 385.59Z" fill="#3288bd"/><path d="M342.6 34A308.2 308.2 0 0 1 605.66 181.62L597.98 186.31A299.2 299.2 0 0 0 342.6 43Z" fill="#fb6a4a" stroke="#444" stroke-opacity="0.45" stroke-width="0.5"/><path d="M610.45 189.73A308.2 308.2 0 0 1 628.16 458.15L619.82 454.77A299.2 299.2 0 0 0 602.62 194.19Z" fill="#6abf69" stroke="#444" stroke-opacity="0.45" stroke-width="0.5"/><path d="M624.48 466.82A308.2 308.2 0 0 1 352.66 650.24L352.36 641.24A299.2 299.2 0 0 0 616.25 463.18Z" fill="#6baed6" stroke="#444" stroke-opacity="0.45" stroke-width="0.5"/><path d="M344 650.4A308.2 308.2 0 0 1 141.83 576.03L147.69 569.2A299.2 299.2 0 0 0 343.96 641.4Z" fill="#fd8d3c" stroke="#444" stroke-opacity="0.45" stroke-width="0.5"/><path d="M134.66 569.68A308.2 308.2 0 0 1 43.23 415.45L51.97 413.32A299.2 299.2 0 0 0 140.73 563.04Z" fill="#996600" stroke="#444" stroke-opacity="0.45" stroke-width="0.5"/><path d="M41.05 405.86A308.2 308.2 0 0 1 102.41 149.08L109.42 154.72A299.2 299.2 0 0 0 49.85 404Z" fill="#000000" stroke="#444" stroke-opacity="0.45" stroke-width="0.5"/><path d="M108.42 141.84A308.2 308.2 0 0 1 255.58 46.54L258.12 55.17A299.2 299.2 0 0 0 115.26 147.69Z" fill="#5b7fad" stroke="#444" stroke-opacity="0.45" stroke-width="0.5"/><path d="M342.6 32.9A309.3 309.3 0 0 1 606.6 181.05M611.4 189.19A309.3 309.3 0 0 1 629.18 458.57M625.49 467.26A309.3 309.3 0 0 1 352.69 651.34M344 651.5A309.3 309.3 0 0 1 141.11 576.87M133.92 570.5A309.3 309.3 0 0 1 42.16 415.72M39.97 406.08A309.3 309.3 0 0 1 101.55 148.39M107.58 141.12A309.3 309.3 0 0 1 255.27 45.48" stroke="#999" stroke-width="1.8" fill="none"/><path d="M343.75 33.2L343.76 30.9M344.9 33.21L344.92 30.91M346.06 33.22L346.08 30.92M347.21 33.23L347.24 30.93M349.51 33.28L349.56 30.98M350.66 33.31L350.72 31.01M351.81 33.34L351.88 31.04M352.97 33.37L353.04 31.08M355.27 33.46L355.36 31.16M356.42 33.51L356.52 31.21M357.57 33.56L357.68 31.27M358.72 33.62L358.84 31.32M361.02 33.75L361.16 31.45M362.17 33.82L362.32 31.52M363.32 33.9L363.47 31.6M364.47 33.97L364.63 31.68M366.77 34.15L366.95 31.85M367.91 34.24L368.1 31.95M369.06 34.34L369.26 32.04M370.21 34.44L370.42 32.15M372.5 34.65L372.73 32.36M373.65 34.76L373.88 32.48M374.8 34.88L375.04 32.59M375.94 35L376.19 32.72M378.23 35.26L378.5 32.98M379.38 35.4L379.65 33.11M380.52 35.54L380.8 33.25M381.66 35.68L381.95 33.4M383.95 35.98L384.25 33.7M385.09 36.13L385.4 33.86M386.23 36.3L386.55 34.02M387.37 36.46L387.7 34.18M389.65 36.8L390 34.53M390.78 36.98L391.14 34.71M391.92 37.16L392.29 34.89M393.06 37.35L393.43 35.08M395.33 37.73L395.72 35.47M396.47 37.93L396.87 35.67M397.6 38.13L398.01 35.87M398.73 38.34L399.15 36.08M401 38.77L401.43 36.51M402.13 38.99L402.57 36.73M403.26 39.21L403.71 36.96M404.39 39.44L404.85 37.19M406.64 39.91L407.12 37.66M407.77 40.15L408.25 37.9M408.89 40.4L409.39 38.15M410.02 40.64L410.52 38.4M412.27 41.16L412.78 38.91M413.39 41.42L413.91 39.18M414.51 41.68L415.04 39.45M415.63 41.95L416.17 39.72M417.86 42.51L418.42 40.28M418.98 42.79L419.55 40.56M420.1 43.08L420.67 40.85M421.21 43.37L421.8 41.14M423.44 43.96L424.04 41.74M424.55 44.26L425.16 42.05M425.66 44.57L426.28 42.36M426.77 44.88L427.39 42.67M428.98 45.52L429.63 43.31M430.09 45.84L430.74 43.64M431.19 46.17L431.85 43.97M432.29 46.5L432.96 44.3M434.5 47.18L435.18 44.99M435.6 47.53L436.29 45.33M436.69 47.87L437.39 45.68M437.79 48.23L438.5 46.04M439.98 48.95L440.7 46.76M441.07 49.31L441.81 47.13M442.16 49.68L442.9 47.5M443.25 50.05L444 47.88M445.43 50.81L446.19 48.64M446.51 51.2L447.29 49.03M447.6 51.59L448.38 49.42M448.68 51.98L449.47 49.82M450.84 52.78L451.65 50.62M451.92 53.18L452.73 51.03M453 53.59L453.82 51.45M454.07 54.01L454.9 51.86M456.22 54.85L457.06 52.71M457.29 55.27L458.14 53.14M458.36 55.7L459.22 53.57M459.42 56.14L460.29 54.01M461.55 57.01L462.44 54.89M462.62 57.46L463.51 55.34M463.68 57.91L464.58 55.79M464.74 58.36L465.65 56.25M466.85 59.28L467.77 57.18M467.9 59.75L468.84 57.64M468.96 60.22L469.9 58.12M470.01 60.69L470.95 58.59M472.1 61.65L473.06 59.56M473.15 62.13L474.12 60.05M474.19 62.62L475.17 60.54M475.23 63.11L476.22 61.03M477.31 64.11L478.31 62.04M478.34 64.61L479.35 62.55M479.38 65.12L480.4 63.06M480.41 65.63L481.44 63.57M482.47 66.67L483.51 64.62M483.49 67.19L484.54 65.14M484.52 67.72L485.57 65.68M485.54 68.25L486.6 66.21M487.58 69.32L488.66 67.29M488.6 69.87L489.68 67.84M489.61 70.41L490.7 68.39M490.62 70.96L491.72 68.94M492.64 72.07L493.76 70.06M493.65 72.63L494.77 70.63M494.65 73.2L495.78 71.2M495.65 73.77L496.79 71.77M497.65 74.92L498.8 72.93M498.64 75.5L499.81 73.51M499.64 76.08L500.81 74.1M500.63 76.67L501.8 74.69M502.6 77.85L503.79 75.88M503.59 78.45L504.79 76.49M504.57 79.05L505.78 77.09M505.55 79.66L506.76 77.7M507.5 80.88L508.73 78.94M508.48 81.5L509.71 79.56M509.45 82.12L510.69 80.18M510.42 82.74L511.66 80.81M512.35 84L513.61 82.08M513.31 84.63L514.58 82.72M514.27 85.27L515.54 83.36M515.22 85.91L516.51 84.01M517.13 87.21L518.43 85.31M518.08 87.86L519.38 85.97M519.02 88.52L520.34 86.63M519.97 89.18L521.29 87.29M521.85 90.51L523.19 88.63M522.79 91.18L524.13 89.31M523.72 91.85L525.07 89.99M524.65 92.53L526.01 90.67M526.51 93.89L527.88 92.04M527.44 94.58L528.81 92.73M528.36 95.27L529.74 93.43M529.28 95.96L530.67 94.13M531.11 97.36L532.51 95.54M532.02 98.07L533.43 96.25M532.93 98.77L534.34 96.96M533.83 99.48L535.26 97.68M535.64 100.92L537.08 99.12M536.54 101.64L537.98 99.85M537.43 102.36L538.88 100.58M538.32 103.09L539.78 101.31M540.1 104.56L541.57 102.79M540.99 105.3L542.46 103.53M541.87 106.04L543.35 104.28M542.75 106.78L544.24 105.03M544.5 108.28L546 106.54M545.37 109.03L546.88 107.3M546.24 109.79L547.75 108.06M547.1 110.55L548.62 108.83M548.82 112.08L550.36 110.37M549.68 112.85L551.22 111.15M550.53 113.63L552.08 111.93M551.38 114.4L552.94 112.71M553.08 115.97L554.64 114.28M553.92 116.75L555.49 115.08M554.76 117.54L556.34 115.87M555.59 118.34L557.18 116.67M557.26 119.93L558.85 118.28M558.08 120.73L559.69 119.08M558.91 121.54L560.52 119.89M559.73 122.34L561.34 120.71M561.36 123.97L562.99 122.35M562.17 124.79L563.81 123.17M562.98 125.61L564.62 123.99M563.79 126.43L565.43 124.82M565.39 128.08L567.05 126.49M566.19 128.92L567.85 127.33M566.98 129.75L568.65 128.17M567.77 130.59L569.45 129.01M569.34 132.27L571.03 130.71M570.12 133.12L571.82 131.57M570.9 133.97L572.6 132.42M571.68 134.82L573.38 133.28M573.22 136.54L574.93 135.01M573.98 137.4L575.7 135.87M574.74 138.26L576.47 136.74M575.5 139.13L577.24 137.62M577.01 140.87L578.75 139.37M577.76 141.75L579.51 140.25M578.5 142.63L580.26 141.14M579.25 143.51L581.01 142.03M580.72 145.28L582.49 143.81M581.45 146.16L583.23 144.71M582.18 147.06L583.97 145.6M582.91 147.95L584.7 146.51M584.35 149.75L586.15 148.32M585.07 150.65L586.87 149.23M585.78 151.56L587.59 150.14M586.49 152.46L588.3 151.05M587.9 154.29L589.72 152.89M588.59 155.2L590.43 153.81M589.29 156.12L591.13 154.74M589.98 157.04L591.82 155.66M591.36 158.89L593.21 157.53M592.04 159.82L593.89 158.46M592.72 160.75L594.58 159.4M593.39 161.69L595.26 160.34M594.73 163.56L596.61 162.23M595.39 164.5L597.28 163.18M596.05 165.45L597.94 164.13M596.71 166.39L598.6 165.08M598.02 168.29L599.92 167M598.66 169.24L600.57 167.96M599.3 170.2L601.22 168.92M599.94 171.16L601.86 169.89M601.21 173.08L603.14 171.82M601.84 174.05L603.77 172.8M602.47 175.02L604.4 173.77M603.09 175.99L605.03 174.75M604.32 177.93L606.27 176.71M604.93 178.91L606.88 177.69M605.54 179.89L607.49 178.68M606.14 180.87L608.1 179.67M611.71 190.34L613.71 189.21M612.27 191.34L614.28 190.22M612.83 192.35L614.84 191.24M613.39 193.36L615.41 192.25M614.49 195.38L616.52 194.29M615.04 196.4L617.07 195.31M615.58 197.41L617.61 196.34M616.12 198.43L618.15 197.36M617.18 200.48L619.23 199.42M617.71 201.5L619.76 200.45M618.23 202.53L620.28 201.49M618.75 203.56L620.81 202.52M619.78 205.62L621.84 204.6M620.28 206.65L622.35 205.64M620.79 207.69L622.86 206.69M621.29 208.73L623.36 207.73M622.27 210.81L624.35 209.83M622.76 211.85L624.85 210.88M623.25 212.9L625.33 211.93M623.73 213.94L625.82 212.99M624.67 216.04L626.77 215.1M625.14 217.1L627.25 216.16M625.61 218.15L627.71 217.23M626.07 219.21L628.18 218.29M626.98 221.32L629.09 220.42M627.42 222.38L629.54 221.49M627.87 223.45L629.99 222.56M628.31 224.51L630.44 223.64M629.18 226.64L631.31 225.78M629.61 227.71L631.74 226.86M630.03 228.78L632.17 227.94M630.45 229.86L632.6 229.02M631.28 232.01L633.43 231.19M631.69 233.08L633.84 232.27M632.1 234.16L634.25 233.36M632.5 235.24L634.66 234.45M633.29 237.41L635.45 236.63M633.68 238.49L635.84 237.72M634.06 239.58L636.23 238.81M634.44 240.66L636.61 239.91M635.19 242.84L637.37 242.1M635.56 243.93L637.74 243.2M635.92 245.03L638.11 244.3M636.28 246.12L638.47 245.41M636.99 248.31L639.18 247.61M637.34 249.41L639.53 248.72M637.68 250.51L639.88 249.83M638.02 251.61L640.22 250.94M638.69 253.82L640.89 253.16M639.02 254.92L641.22 254.27M639.34 256.03L641.55 255.39M639.66 257.13L641.87 256.5M640.29 259.35L642.5 258.73M640.59 260.46L642.81 259.85M640.9 261.57L643.12 260.97M641.19 262.69L643.42 262.09M641.78 264.91L644.01 264.34M642.06 266.03L644.29 265.46M642.35 267.15L644.58 266.59M642.62 268.26L644.86 267.71M643.17 270.5L645.4 269.97M643.43 271.62L645.67 271.1M643.69 272.75L645.93 272.23M643.95 273.87L646.19 273.36M644.45 276.12L646.7 275.63M644.7 277.24L646.94 276.76M644.94 278.37L647.19 277.9M645.17 279.5L647.42 279.03M645.63 281.76L647.89 281.31M645.85 282.89L648.11 282.44M646.07 284.02L648.33 283.58M646.29 285.15L648.55 284.72M646.7 287.41L648.97 287.01M646.91 288.55L649.17 288.15M647.1 289.68L649.37 289.29M647.3 290.82L649.57 290.44M647.67 293.09L649.94 292.73M647.85 294.23L650.13 293.87M648.03 295.37L650.3 295.02M648.2 296.51L650.48 296.17M648.54 298.79L650.81 298.46M648.69 299.93L650.97 299.61M648.85 301.07L651.13 300.76M649 302.21L651.28 301.91M649.29 304.5L651.57 304.22M649.43 305.64L651.71 305.37M649.56 306.79L651.85 306.52M649.69 307.93L651.98 307.67M649.94 310.22L652.23 309.98M650.06 311.37L652.35 311.14M650.17 312.51L652.46 312.29M650.28 313.66L652.57 313.45M650.48 315.95L652.78 315.76M650.58 317.1L652.87 316.92M650.67 318.25L652.96 318.07M650.76 319.4L653.05 319.23M650.92 321.7L653.21 321.55M650.99 322.85L653.29 322.7M651.06 324L653.36 323.86M651.13 325.15L653.43 325.02M651.25 327.45L653.55 327.34M651.3 328.6L653.6 328.5M651.35 329.75L653.65 329.66M651.39 330.9L653.69 330.82M651.47 333.2L653.77 333.14M651.5 334.36L653.8 334.3M651.53 335.51L653.83 335.46M651.55 336.66L653.85 336.62M651.58 338.96L653.88 338.94M651.59 340.11L653.89 340.1M651.6 341.27L653.9 341.26M651.6 342.42L653.9 342.42M651.59 344.72L653.89 344.74M651.58 345.87L653.88 345.9M651.56 347.03L653.86 347.06M651.54 348.18L653.84 348.22M651.49 350.48L653.79 350.54M651.46 351.63L653.75 351.7M651.42 352.78L653.72 352.86M651.38 353.93L653.68 354.02M651.28 356.24L653.58 356.34M651.23 357.39L653.52 357.5M651.17 358.54L653.46 358.66M651.1 359.69L653.4 359.82M650.97 361.99L653.26 362.13M650.89 363.14L653.18 363.29M650.81 364.29L653.1 364.45M650.73 365.44L653.02 365.61M650.54 367.73L652.84 367.92M650.45 368.88L652.74 369.08M650.34 370.03L652.64 370.23M650.24 371.17L652.53 371.39M650.01 373.47L652.3 373.7M649.9 374.61L652.18 374.85M649.77 375.76L652.06 376.01M649.65 376.9L651.93 377.16M649.38 379.19L651.66 379.47M649.24 380.34L651.52 380.62M649.09 381.48L651.37 381.77M648.94 382.62L651.23 382.92M648.64 384.9L650.91 385.22M648.47 386.04L650.75 386.37M648.31 387.18L650.58 387.52M648.14 388.32L650.41 388.67M647.79 390.6L650.06 390.96M647.6 391.74L649.87 392.11M647.42 392.87L649.69 393.25M647.23 394.01L649.49 394.4M646.83 396.28L649.1 396.68M646.63 397.41L648.89 397.82M646.42 398.55L648.68 398.97M646.21 399.68L648.47 400.11M645.77 401.94L648.03 402.39M645.55 403.07L647.8 403.52M645.32 404.2L647.57 404.66M645.08 405.33L647.33 405.8M644.6 407.58L646.85 408.07M644.36 408.71L646.6 409.2M644.11 409.83L646.35 410.33M643.85 410.96L646.1 411.47M643.33 413.2L645.57 413.73M643.07 414.32L645.3 414.86M642.79 415.44L645.03 415.98M642.52 416.56L644.75 417.11M641.96 418.79L644.19 419.36M641.67 419.91L643.9 420.49M641.38 421.02L643.6 421.61M641.08 422.14L643.3 422.73M640.48 424.36L642.69 424.97M640.17 425.47L642.38 426.09M639.86 426.58L642.07 427.21M639.54 427.69L641.75 428.32M638.89 429.9L641.1 430.55M638.57 431L640.77 431.66M638.23 432.1L640.43 432.77M637.89 433.2L640.09 433.88M637.21 435.4L639.4 436.1M636.86 436.5L639.05 437.2M636.51 437.6L638.69 438.31M636.15 438.69L638.33 439.41M635.42 440.88L637.6 441.61M635.05 441.97L637.23 442.71M634.68 443.06L636.85 443.81M634.3 444.15L636.47 444.91M633.53 446.32L635.7 447.09M633.14 447.4L635.3 448.19M632.75 448.49L634.9 449.28M632.35 449.57L634.5 450.37M631.54 451.72L633.69 452.54M631.13 452.8L633.28 453.62M630.71 453.88L632.86 454.71M630.3 454.95L632.44 455.79M629.45 457.09L631.58 457.95M629.02 458.16L631.15 459.02M624.75 468.19L626.85 469.13M624.27 469.25L626.37 470.19M623.8 470.3L625.89 471.25M623.32 471.34L625.41 472.3M622.35 473.43L624.43 474.41M621.86 474.47L623.94 475.46M621.36 475.51L623.44 476.51M620.86 476.55L622.93 477.55M619.85 478.62L621.92 479.64M619.34 479.66L621.4 480.68M618.83 480.69L620.88 481.72M618.31 481.72L620.36 482.75M617.26 483.77L619.31 484.82M616.73 484.79L618.77 485.85M616.2 485.81L618.24 486.88M615.66 486.83L617.69 487.91M614.58 488.86L616.6 489.95M614.03 489.88L616.05 490.97M613.48 490.89L615.49 491.99M612.92 491.89L614.93 493.01M611.8 493.91L613.8 495.04M611.23 494.91L613.23 496.05M610.66 495.91L612.65 497.05M610.08 496.91L612.07 498.06M608.92 498.9L610.9 500.06M608.34 499.89L610.31 501.06M607.75 500.88L609.72 502.06M607.15 501.87L609.12 503.05M605.95 503.83L607.91 505.04M605.35 504.81L607.31 506.03M604.74 505.79L606.69 507.01M604.13 506.77L606.08 507.99M602.9 508.71L604.83 509.95M602.27 509.68L604.21 510.93M601.65 510.65L603.58 511.9M601.02 511.62L602.94 512.88M599.75 513.54L601.66 514.81M599.11 514.49L601.02 515.78M598.46 515.45L600.37 516.74M597.81 516.4L599.71 517.7M596.51 518.3L598.4 519.61M595.85 519.25L597.74 520.56M595.19 520.19L597.07 521.51M594.52 521.13L596.4 522.46M593.18 523L595.05 524.35M592.51 523.94L594.37 525.29M591.83 524.87L593.68 526.23M591.14 525.79L592.99 527.16M589.77 527.64L591.61 529.02M589.08 528.56L590.91 529.95M588.38 529.48L590.21 530.87M587.68 530.39L589.5 531.8M586.27 532.22L588.08 533.63M585.56 533.12L587.37 534.54M584.85 534.03L586.65 535.46M584.13 534.93L585.93 536.36M582.69 536.73L584.47 538.17M581.96 537.62L583.74 539.07M581.23 538.51L583 539.97M580.49 539.4L582.27 540.87M579.02 541.17L580.78 542.65M578.27 542.05L580.03 543.53M577.53 542.92L579.28 544.42M576.78 543.8L578.52 545.3M575.27 545.54L577 547.05M574.51 546.4L576.23 547.92M573.75 547.27L575.47 548.79M572.98 548.13L574.69 549.66M571.44 549.84L573.14 551.39M570.66 550.69L572.36 552.24M569.88 551.54L571.57 553.1M569.1 552.39L570.79 553.95M567.53 554.07L569.2 555.65M566.74 554.91L568.4 556.49M565.94 555.74L567.6 557.33M565.14 556.57L566.8 558.17M563.54 558.22L565.18 559.83M562.73 559.05L564.37 560.66M561.92 559.87L563.56 561.49M561.11 560.68L562.74 562.31M559.47 562.31L561.09 563.94M558.65 563.11L560.26 564.76M557.83 563.92L559.43 565.57M557 564.72L558.6 566.37M555.33 566.31L556.92 567.98M554.5 567.1L556.07 568.78M553.66 567.89L555.23 569.57M552.81 568.67L554.38 570.36M551.12 570.24L552.67 571.93M550.27 571.01L551.81 572.71M549.41 571.78L550.95 573.49M548.56 572.55L550.09 574.27M546.83 574.08L548.35 575.81M545.97 574.84L547.48 576.57M545.1 575.6L546.61 577.34M544.23 576.35L545.73 578.1M542.48 577.85L543.96 579.6M541.6 578.59L543.08 580.35M540.71 579.33L542.19 581.1M539.83 580.07L541.3 581.84M538.05 581.53L539.5 583.32M537.16 582.26L538.6 584.05M536.26 582.98L537.7 584.78M535.36 583.7L536.8 585.5M533.55 585.14L534.98 586.94M532.65 585.85L534.06 587.66M531.74 586.55L533.15 588.37M530.83 587.26L532.23 589.08M528.99 588.65L530.38 590.49M528.07 589.35L529.45 591.18M527.15 590.04L528.52 591.88M526.23 590.72L527.59 592.57M524.37 592.08L525.72 593.94M523.43 592.76L524.78 594.62M522.5 593.43L523.84 595.3M521.56 594.1L522.89 595.98M519.68 595.43L521 597.31M518.73 596.09L520.04 597.98M517.78 596.74L519.09 598.64M516.83 597.39L518.13 599.29M514.93 598.68L516.21 600.59M513.97 599.33L515.25 601.24M513.01 599.96L514.28 601.88M512.05 600.6L513.31 602.52M510.12 601.85L511.36 603.78M509.15 602.47L510.39 604.41M508.18 603.09L509.41 605.04M507.2 603.71L508.43 605.66M505.25 604.93L506.46 606.88M504.27 605.53L505.47 607.49M503.28 606.13L504.48 608.1M502.3 606.73L503.49 608.7M500.32 607.92L501.5 609.89M499.33 608.5L500.5 610.48M498.34 609.08L499.5 611.07M497.34 609.66L498.49 611.65M495.34 610.81L496.48 612.81M494.34 611.38L495.47 613.38M493.34 611.94L494.46 613.95M492.33 612.5L493.44 614.51M490.31 613.61L491.41 615.63M489.3 614.16L490.39 616.18M488.28 614.7L489.37 616.73M487.26 615.24L488.34 617.28M485.22 616.32L486.29 618.36M484.2 616.85L485.26 618.89M483.18 617.37L484.22 619.42M482.15 617.89L483.19 619.95M480.09 618.93L481.11 620.99M479.06 619.44L480.07 621.5M478.02 619.94L479.03 622.01M476.99 620.45L477.99 622.52M474.91 621.44L475.89 623.52M473.87 621.93L474.84 624.01M472.82 622.42L473.79 624.51M471.78 622.9L472.74 624.99M469.68 623.86L470.63 625.95M468.63 624.33L469.57 626.43M467.58 624.8L468.51 626.9M466.52 625.26L467.45 627.37M464.41 626.18L465.32 628.29M463.35 626.63L464.25 628.75M462.29 627.08L463.18 629.2M461.23 627.52L462.11 629.65M459.1 628.4L459.96 630.53M458.03 628.83L458.89 630.96M456.96 629.26L457.81 631.4M455.89 629.68L456.73 631.82M453.74 630.52L454.57 632.67M452.66 630.93L453.48 633.08M451.59 631.34L452.4 633.49M450.51 631.75L451.31 633.9M448.35 632.54L449.13 634.7M447.26 632.93L448.04 635.1M446.18 633.32L446.95 635.49M445.09 633.71L445.86 635.88M442.92 634.46L443.66 636.64M441.83 634.83L442.57 637.01M440.74 635.2L441.47 637.38M439.64 635.57L440.36 637.75M437.45 636.28L438.16 638.47M436.36 636.63L437.05 638.82M435.26 636.98L435.95 639.17M434.16 637.32L434.84 639.52M431.95 638L432.62 640.2M430.85 638.33L431.51 640.53M429.75 638.66L430.39 640.86M428.64 638.98L429.28 641.19M426.43 639.61L427.05 641.83M425.32 639.92L425.93 642.14M424.21 640.23L424.81 642.45M423.09 640.53L423.69 642.75M420.87 641.12L421.45 643.35M419.75 641.41L420.33 643.64M418.64 641.7L419.2 643.93M417.52 641.98L418.08 644.21M415.28 642.53L415.82 644.77M414.16 642.8L414.69 645.04M413.04 643.06L413.57 645.3M411.92 643.32L412.43 645.57M409.67 643.83L410.17 646.08M408.55 644.08L409.04 646.33M407.42 644.32L407.9 646.57M406.29 644.56L406.77 646.81M404.04 645.03L404.49 647.28M402.91 645.26L403.36 647.51M401.78 645.48L402.22 647.74M400.65 645.7L401.08 647.96M398.38 646.12L398.8 648.39M397.25 646.33L397.66 648.59M396.11 646.53L396.51 648.8M394.98 646.73L395.37 648.99M392.71 647.11L393.08 649.38M391.57 647.29L391.94 649.57M390.43 647.48L390.79 649.75M389.29 647.65L389.64 649.93M387.02 647.99L387.35 650.27M385.88 648.15L386.2 650.43M384.73 648.31L385.05 650.59M383.59 648.47L383.9 650.75M381.31 648.77L381.6 651.05M380.17 648.91L380.45 651.19M379.02 649.05L379.29 651.33M377.88 649.18L378.14 651.46M375.59 649.43L375.83 651.72M374.44 649.55L374.68 651.84M373.3 649.67L373.52 651.96M372.15 649.78L372.37 652.07M369.86 650L370.06 652.29M368.71 650.1L368.9 652.39M367.56 650.19L367.75 652.48M366.41 650.28L366.59 652.57M364.11 650.45L364.27 652.74M362.96 650.53L363.12 652.82M361.81 650.6L361.96 652.9M360.67 650.67L360.8 652.97M358.36 650.8L358.48 653.09M357.21 650.85L357.32 653.15M356.06 650.91L356.16 653.2M354.91 650.95L355 653.25M342.85 651.2L342.85 653.5M341.7 651.2L341.69 653.5M340.55 651.19L340.53 653.49M339.39 651.18L339.37 653.48M337.09 651.15L337.05 653.45M335.94 651.13L335.89 653.43M334.79 651.1L334.73 653.4M333.64 651.07L333.57 653.37M331.33 650.99L331.25 653.29M330.18 650.95L330.09 653.25M329.03 650.9L328.93 653.2M327.88 650.85L327.77 653.15M325.58 650.73L325.45 653.03M324.43 650.67L324.29 652.96M323.28 650.6L323.14 652.89M322.13 650.52L321.98 652.82M319.83 650.36L319.66 652.65M318.68 650.27L318.51 652.57M317.53 650.18L317.35 652.47M316.39 650.09L316.19 652.38M314.09 649.88L313.88 652.17M312.95 649.77L312.72 652.06M311.8 649.66L311.57 651.95M310.65 649.54L310.41 651.83M308.36 649.3L308.11 651.58M307.22 649.17L306.95 651.45M306.07 649.03L305.8 651.32M304.93 648.9L304.65 651.18M302.64 648.61L302.35 650.89M301.5 648.45L301.2 650.73M300.36 648.3L300.05 650.58M299.22 648.14L298.9 650.42M296.94 647.81L296.6 650.08M295.8 647.64L295.45 649.91M294.66 647.46L294.31 649.73M293.52 647.28L293.16 649.55M291.25 646.9L290.87 649.17M290.12 646.71L289.73 648.98M288.98 646.51L288.58 648.78M287.85 646.31L287.44 648.57M285.58 645.89L285.16 648.15M284.45 645.68L284.02 647.94M283.32 645.46L282.88 647.72M282.19 645.24L281.74 647.49M279.93 644.78L279.46 647.03M278.8 644.54L278.33 646.79M277.68 644.3L277.19 646.55M276.55 644.06L276.06 646.31M274.3 643.56L273.79 645.8M273.18 643.3L272.66 645.54M272.06 643.04L271.53 645.28M270.94 642.77L270.4 645.01M268.7 642.23L268.15 644.47M267.58 641.95L267.02 644.19M266.46 641.67L265.89 643.9M265.35 641.39L264.77 643.61M263.12 640.8L262.53 643.03M262 640.5L261.4 642.72M260.89 640.2L260.28 642.42M259.78 639.89L259.17 642.11M257.56 639.27L256.93 641.48M256.46 638.95L255.82 641.16M255.35 638.63L254.7 640.83M254.25 638.3L253.59 640.5M252.04 637.63L251.37 639.83M250.94 637.29L250.26 639.49M249.84 636.95L249.15 639.14M248.74 636.6L248.05 638.79M246.55 635.89L245.84 638.08M245.46 635.53L244.73 637.72M244.36 635.17L243.63 637.35M243.27 634.8L242.53 636.98M241.09 634.05L240.34 636.22M240.01 633.67L239.24 635.84M238.92 633.29L238.15 635.45M237.84 632.9L237.06 635.06M235.67 632.11L234.88 634.27M234.59 631.71L233.79 633.86M233.51 631.3L232.7 633.46M232.44 630.9L231.62 633.04M230.29 630.07L229.45 632.21M229.21 629.65L228.37 631.78M228.14 629.22L227.29 631.36M227.07 628.79L226.21 630.93M224.94 627.92L224.07 630.05M223.88 627.48L222.99 629.61M222.81 627.04L221.92 629.16M221.75 626.59L220.85 628.71M219.64 625.68L218.72 627.79M218.58 625.22L217.66 627.33M217.53 624.76L216.59 626.86M216.47 624.29L215.53 626.39M214.37 623.34L213.42 625.43M213.33 622.86L212.36 624.95M212.28 622.37L211.31 624.46M211.24 621.89L210.26 623.97M209.16 620.9L208.16 622.97M208.12 620.4L207.12 622.47M207.08 619.9L206.07 621.96M206.05 619.39L205.03 621.45M203.98 618.36L202.95 620.42M202.96 617.85L201.92 619.9M201.93 617.32L200.88 619.37M200.9 616.8L199.85 618.84M198.86 615.73L197.79 617.77M197.84 615.19L196.76 617.23M196.83 614.65L195.74 616.68M195.81 614.11L194.72 616.13M193.79 613.01L192.68 615.02M192.78 612.45L191.66 614.46M191.77 611.89L190.65 613.9M190.77 611.32L189.64 613.33M188.77 610.19L187.62 612.18M187.77 609.61L186.62 611.6M186.77 609.03L185.61 611.02M185.78 608.45L184.61 610.43M183.8 607.27L182.62 609.24M182.81 606.68L181.62 608.65M181.83 606.08L180.63 608.04M180.84 605.48L179.64 607.44M178.88 604.27L177.67 606.22M177.91 603.65L176.68 605.6M176.93 603.04L175.7 604.98M175.96 602.42L174.72 604.35M174.03 601.17L172.77 603.1M173.06 600.54L171.8 602.46M172.1 599.9L170.83 601.82M171.14 599.27L169.87 601.18M169.23 597.98L167.94 599.88M168.28 597.33L166.98 599.23M167.33 596.68L166.02 598.58M166.38 596.03L165.07 597.92M164.49 594.71L163.17 596.58M163.55 594.04L162.22 595.91M162.62 593.37L161.28 595.24M161.68 592.7L160.33 594.56M159.82 591.34L158.46 593.2M158.89 590.66L157.52 592.51M157.96 589.97L156.59 591.82M157.04 589.28L155.66 591.12M155.21 587.89L153.81 589.72M154.29 587.19L152.89 589.01M153.38 586.49L151.97 588.31M152.47 585.78L151.05 587.59M150.66 584.36L149.23 586.16M149.76 583.64L148.32 585.44M148.86 582.92L147.42 584.71M147.96 582.19L146.51 583.98M146.18 580.74L144.72 582.51M145.29 580L143.82 581.77M144.41 579.27L142.93 581.03M143.52 578.52L142.04 580.28M141.77 577.03L140.27 578.78M133.27 569.49L131.71 571.19M132.43 568.71L130.86 570.4M131.58 567.93L130.01 569.61M130.74 567.14L129.17 568.81M129.07 565.55L127.48 567.22M128.24 564.76L126.65 566.41M127.41 563.96L125.81 565.61M126.59 563.15L124.98 564.8M124.95 561.53L123.33 563.17M124.13 560.72L122.5 562.35M123.32 559.91L121.68 561.53M122.51 559.09L120.87 560.7M120.9 557.44L119.25 559.04M120.09 556.61L118.44 558.21M119.3 555.78L117.63 557.37M118.5 554.95L116.83 556.53M116.92 553.27L115.24 554.84M116.14 552.43L114.45 553.99M115.35 551.58L113.66 553.14M114.58 550.73L112.88 552.29M113.03 549.03L111.32 550.57M112.26 548.17L110.54 549.7M111.49 547.31L109.77 548.84M110.73 546.45L109 547.97M109.21 544.71L107.48 546.22M108.46 543.84L106.72 545.34M107.71 542.97L105.96 544.46M106.96 542.09L105.21 543.58M105.48 540.33L103.71 541.8M104.74 539.44L102.97 540.91M104.01 538.55L102.23 540.01M103.28 537.66L101.5 539.12M101.83 535.87L100.03 537.31M101.11 534.97L99.31 536.41M100.39 534.07L98.59 535.5M99.68 533.17L97.87 534.59M98.26 531.35L96.44 532.76M97.55 530.44L95.73 531.84M96.85 529.52L95.03 530.92M96.16 528.61L94.32 529.99M94.78 526.76L92.93 528.14M94.09 525.84L92.24 527.21M93.41 524.91L91.55 526.27M92.73 523.98L90.87 525.33M91.38 522.11L89.51 523.45M90.71 521.18L88.83 522.51M90.04 520.23L88.16 521.56M89.38 519.29L87.5 520.61M88.07 517.4L86.17 518.7M87.42 516.45L85.52 517.75M86.77 515.5L84.87 516.79M86.13 514.54L84.22 515.82M84.85 512.62L82.93 513.89M84.21 511.66L82.29 512.92M83.58 510.7L81.66 511.95M82.96 509.73L81.02 510.98M81.72 507.79L79.77 509.02M81.1 506.82L79.15 508.04M80.49 505.84L78.54 507.06M79.88 504.86L77.92 506.07M78.67 502.9L76.71 504.1M78.08 501.91L76.11 503.1M77.48 500.93L75.51 502.11M76.89 499.94L74.92 501.11M75.72 497.95L73.74 499.11M75.15 496.96L73.16 498.11M74.57 495.96L72.58 497.1M74 494.96L72 496.09M72.87 492.95L70.86 494.07M72.31 491.94L70.3 493.06M71.75 490.94L69.74 492.04M71.2 489.92L69.18 491.02M70.11 487.9L68.08 488.98M69.56 486.88L67.53 487.96M69.03 485.86L66.99 486.93M68.49 484.84L66.45 485.9M67.44 482.79L65.39 483.84M66.91 481.77L64.86 482.8M66.4 480.74L64.34 481.77M65.88 479.71L63.82 480.73M64.86 477.64L62.8 478.65M64.36 476.6L62.29 477.6M63.86 475.56L61.79 476.56M63.37 474.52L61.29 475.51M62.39 472.44L60.3 473.41M61.9 471.39L59.82 472.36M61.42 470.35L59.33 471.3M60.95 469.3L58.85 470.24M60.01 467.19L57.91 468.12M59.55 466.14L57.44 467.06M59.08 465.08L56.97 466M58.63 464.03L56.52 464.93M57.73 461.9L55.61 462.8M57.28 460.84L55.16 461.72M56.84 459.78L54.72 460.65M56.41 458.71L54.28 459.58M55.55 456.57L53.41 457.43M55.12 455.5L52.98 456.35M54.7 454.43L52.56 455.27M54.29 453.36L52.14 454.18M53.46 451.2L51.31 452.02M53.06 450.13L50.91 450.93M52.66 449.04L50.5 449.84M52.26 447.96L50.1 448.75M51.48 445.8L49.32 446.57M51.1 444.71L48.93 445.47M50.72 443.62L48.55 444.38M50.34 442.53L48.17 443.28M49.6 440.35L47.42 441.08M49.24 439.26L47.06 439.98M48.88 438.16L46.69 438.88M48.52 437.07L46.33 437.77M47.82 434.87L45.63 435.56M47.48 433.77L45.28 434.46M47.14 432.67L44.94 433.35M46.81 431.57L44.6 432.24M46.15 429.36L43.94 430.01M45.83 428.26L43.62 428.9M45.51 427.15L43.3 427.78M45.19 426.04L42.98 426.67M44.58 423.82L42.36 424.43M44.27 422.71L42.05 423.31M43.97 421.6L41.75 422.19M43.68 420.48L41.46 421.07M43.11 418.25L40.88 418.82M42.82 417.14L40.59 417.69M42.55 416.02L40.31 416.57M40.03 404.9L37.77 405.36M39.8 403.77L37.54 404.22M39.57 402.64L37.31 403.09M39.34 401.51L37.09 401.95M38.91 399.24L36.65 399.67M38.7 398.11L36.44 398.53M38.49 396.98L36.23 397.39M38.29 395.84L36.03 396.24M37.9 393.57L35.63 393.96M37.71 392.44L35.44 392.81M37.53 391.3L35.26 391.67M37.35 390.16L35.07 390.52M37 387.89L34.72 388.23M36.83 386.75L34.55 387.08M36.66 385.61L34.39 385.93M36.5 384.47L34.23 384.78M36.2 382.18L33.92 382.48M36.05 381.04L33.77 381.33M35.91 379.9L33.63 380.18M35.77 378.75L33.49 379.02M35.51 376.46L33.22 376.72M35.38 375.32L33.09 375.57M35.26 374.17L32.97 374.41M35.14 373.03L32.85 373.26M34.92 370.73L32.63 370.95M34.82 369.59L32.53 369.79M34.72 368.44L32.42 368.63M34.62 367.29L32.33 367.48M34.44 364.99L32.15 365.16M34.36 363.85L32.06 364.01M34.28 362.7L31.99 362.85M34.21 361.55L31.91 361.69M34.07 359.25L31.77 359.37M34.01 358.1L31.71 358.21M33.95 356.95L31.65 357.06M33.9 355.79L31.6 355.9M33.81 353.49L31.51 353.58M33.77 352.34L31.47 352.42M33.73 351.19L31.43 351.26M33.7 350.04L31.4 350.1M33.65 347.74L31.35 347.78M33.63 346.58L31.33 346.62M33.62 345.43L31.32 345.46M33.61 344.28L31.31 344.3M33.6 341.98L31.3 341.97M33.6 340.82L31.3 340.81M33.61 339.67L31.31 339.65M33.62 338.52L31.32 338.49M33.66 336.22L31.36 336.17M33.68 335.06L31.38 335.01M33.71 333.91L31.41 333.85M33.74 332.76L31.45 332.69M33.82 330.46L31.52 330.37M33.87 329.31L31.57 329.21M33.92 328.16L31.62 328.05M33.97 327.01L31.68 326.89M34.1 324.71L31.8 324.58M34.16 323.56L31.87 323.42M34.23 322.41L31.94 322.26M34.31 321.26L32.02 321.1M34.48 318.96L32.18 318.79M34.56 317.81L32.27 317.63M34.66 316.66L32.37 316.47M34.75 315.51L32.46 315.32M34.96 313.22L32.67 313M35.07 312.07L32.78 311.85M35.19 310.93L32.9 310.69M35.31 309.78L33.02 309.54M35.56 307.49L33.27 307.23M35.69 306.35L33.4 306.08M35.82 305.2L33.54 304.93M35.96 304.06L33.68 303.77M36.26 301.77L33.98 301.47M36.41 300.63L34.13 300.32M36.57 299.49L34.29 299.17M36.73 298.35L34.45 298.02M37.06 296.07L34.79 295.73M37.24 294.93L34.96 294.58M37.42 293.79L35.14 293.43M37.6 292.66L35.33 292.29M37.98 290.38L35.71 290M38.17 289.25L35.9 288.85M38.37 288.11L36.11 287.71M38.57 286.98L36.31 286.57M38.99 284.71L36.73 284.29M39.21 283.58L36.95 283.15M39.43 282.45L37.17 282.01M39.66 281.32L37.4 280.87M40.12 279.07L37.87 278.6M40.36 277.94L38.11 277.46M40.6 276.81L38.35 276.33M40.84 275.69L38.6 275.19M41.35 273.44L39.11 272.93M41.61 272.32L39.37 271.8M41.87 271.19L39.63 270.67M42.14 270.07L39.9 269.54M42.68 267.84L40.45 267.28M42.96 266.72L40.73 266.16M43.24 265.6L41.02 265.03M43.53 264.49L41.31 263.91M44.12 262.26L41.9 261.66M44.42 261.15L42.2 260.54M44.72 260.04L42.51 259.42M45.03 258.93L42.82 258.31M45.66 256.71L43.45 256.07M45.98 255.6L43.77 254.96M46.31 254.5L44.1 253.84M46.64 253.39L44.43 252.73M47.31 251.19L45.11 250.51M47.65 250.09L45.45 249.4M47.99 248.99L45.8 248.3M48.34 247.89L46.15 247.19M49.05 245.7L46.87 244.98M49.42 244.61L47.23 243.88M49.78 243.51L47.6 242.78M50.15 242.42L47.98 241.68M50.9 240.25L48.73 239.49M51.29 239.16L49.12 238.39M51.67 238.07L49.51 237.3M52.06 236.99L49.9 236.21M52.86 234.83L50.7 234.03M53.26 233.75L51.1 232.94M53.66 232.67L51.51 231.85M54.07 231.59L51.93 230.77M54.91 229.45L52.77 228.61M55.33 228.37L53.19 227.53M55.76 227.3L53.62 226.45M56.19 226.23L54.05 225.37M57.06 224.1L54.93 223.22M57.5 223.04L55.38 222.15M57.95 221.98L55.83 221.08M58.4 220.92L56.28 220.01M59.31 218.8L57.2 217.88M59.77 217.75L57.67 216.82M60.24 216.69L58.14 215.76M60.71 215.64L58.61 214.7M61.66 213.54L59.57 212.58M62.14 212.5L60.05 211.53M62.63 211.45L60.54 210.48M63.12 210.41L61.03 209.43M64.11 208.33L62.03 207.33M64.61 207.29L62.54 206.29M65.11 206.25L63.05 205.24M65.62 205.22L63.56 204.2M66.65 203.16L64.6 202.13M67.17 202.13L65.12 201.09M67.69 201.11L65.65 200.06M68.22 200.08L66.18 199.02M69.29 198.04L67.25 196.97M69.83 197.02L67.8 195.94M70.37 196.01L68.34 194.92M70.92 194.99L68.9 193.9M72.02 192.97L70.01 191.86M72.58 191.96L70.57 190.85M73.14 190.96L71.14 189.83M73.71 189.95L71.71 188.82M74.85 187.95L72.86 186.81M75.43 186.96L73.44 185.8M76.01 185.96L74.02 184.8M76.59 184.97L74.61 183.8M77.77 182.99L75.8 181.81M78.37 182L76.4 180.81M78.97 181.02L77.01 179.82M79.57 180.04L77.61 178.83M80.79 178.08L78.84 176.86M81.4 177.11L79.46 175.88M82.02 176.13L80.08 174.9M82.64 175.16L80.7 173.92M83.89 173.23L81.97 171.97M84.52 172.27L82.6 171M85.16 171.31L83.24 170.03M85.8 170.35L83.89 169.07M87.09 168.44L85.18 167.14M87.74 167.49L85.84 166.19M88.39 166.54L86.5 165.23M89.04 165.59L87.16 164.28M90.37 163.71L88.49 162.38M91.04 162.77L89.16 161.43M91.71 161.83L89.84 160.49M92.38 160.9L90.52 159.55M93.74 159.04L91.89 157.67M94.42 158.11L92.58 156.74M95.11 157.18L93.27 155.81M95.8 156.26L93.97 154.88M97.2 154.43L95.37 153.03M97.9 153.51L96.08 152.11M98.6 152.6L96.79 151.19M99.31 151.7L97.5 150.28M100.74 149.89L98.94 148.46M101.46 148.99L99.66 147.55M108.56 140.44L106.82 138.94M109.31 139.57L107.58 138.06M110.07 138.7L108.34 137.19M110.83 137.84L109.11 136.32M112.36 136.11L110.65 134.58M113.13 135.26L111.42 133.72M113.9 134.4L112.2 132.86M114.68 133.55L112.98 132M116.24 131.86L114.56 130.29M117.03 131.02L115.35 129.44M117.82 130.18L116.14 128.6M118.61 129.34L116.94 127.76M120.2 127.68L118.55 126.08M121 126.85L119.35 125.25M121.81 126.02L120.16 124.41M122.62 125.2L120.98 123.59M124.24 123.57L122.61 121.94M125.06 122.76L123.44 121.12M125.88 121.95L124.26 120.31M126.7 121.14L125.09 119.49M128.35 119.54L126.76 117.88M129.18 118.74L127.6 117.08M130.02 117.95L128.44 116.28M130.86 117.15L129.28 115.48M132.54 115.58L130.98 113.89M133.39 114.8L131.83 113.11M134.24 114.02L132.68 112.32M135.09 113.25L133.54 111.54M136.8 111.71L135.27 109.99M137.66 110.94L136.14 109.22M138.53 110.18L137.01 108.45M139.39 109.42L137.88 107.69M141.13 107.91L139.63 106.17M142.01 107.16L140.51 105.41M142.89 106.41L141.4 104.66M143.77 105.67L142.29 103.91M145.53 104.2L144.07 102.42M146.42 103.46L144.96 101.69M147.31 102.73L145.86 100.95M148.21 102.01L146.76 100.22M150.01 100.56L148.57 98.76M150.91 99.85L149.48 98.04M151.81 99.13L150.39 97.33M152.72 98.42L151.31 96.61M154.54 97.02L153.14 95.19M155.46 96.32L154.06 94.49M156.38 95.62L154.99 93.79M157.3 94.93L155.92 93.09M159.15 93.55L157.78 91.7M160.07 92.87L158.71 91.02M161 92.19L159.65 90.33M161.94 91.52L160.59 89.65M163.81 90.18L162.48 88.3M164.75 89.51L163.43 87.63M165.7 88.85L164.38 86.97M166.64 88.19L165.33 86.3M168.54 86.89L167.24 84.99M169.49 86.24L168.2 84.34M170.45 85.6L169.17 83.69M171.41 84.96L170.13 83.04M173.33 83.69L172.07 81.76M174.29 83.06L173.04 81.13M175.26 82.43L174.02 80.5M176.23 81.81L174.99 79.87M178.18 80.58L176.95 78.63M179.15 79.97L177.94 78.02M180.13 79.36L178.92 77.4M181.11 78.76L179.91 76.79M183.08 77.56L181.89 75.59M184.07 76.97L182.89 74.99M185.06 76.38L183.89 74.4M186.05 75.79L184.89 73.81M188.04 74.63L186.89 72.64M189.04 74.06L187.9 72.06M190.04 73.49L188.91 71.49M191.04 72.92L189.92 70.92M193.06 71.8L191.94 69.78M194.07 71.24L192.96 69.22M195.08 70.69L193.98 68.67M196.09 70.14L195 68.12M198.12 69.06L197.05 67.02M199.14 68.52L198.07 66.48M200.16 67.99L199.1 65.95M201.19 67.46L200.13 65.41M203.24 66.41L202.2 64.36M204.27 65.89L203.24 63.84M205.3 65.38L204.28 63.32M206.33 64.87L205.32 62.81M208.4 63.86L207.4 61.79M209.44 63.36L208.45 61.29M210.48 62.87L209.5 60.79M211.52 62.38L210.55 60.3M213.61 61.41L212.65 59.32M214.66 60.93L213.71 58.84M215.71 60.45L214.77 58.36M216.76 59.98L215.83 57.88M218.87 59.05L217.95 56.95M219.93 58.59L219.01 56.48M220.98 58.14L220.08 56.02M222.04 57.69L221.15 55.57M224.17 56.8L223.29 54.67M225.23 56.36L224.36 54.23M226.3 55.92L225.44 53.79M227.37 55.49L226.51 53.36M229.51 54.64L228.67 52.5M230.58 54.22L229.75 52.08M231.66 53.8L230.83 51.66M232.73 53.39L231.92 51.24M234.89 52.58L234.09 50.42M235.97 52.18L235.18 50.02M237.05 51.79L236.27 49.62M238.14 51.39L237.36 49.23M240.31 50.62L239.54 48.45M241.39 50.24L240.64 48.07M242.48 49.87L241.74 47.69M243.57 49.5L242.84 47.32M245.76 48.77L245.04 46.58M246.85 48.41L246.14 46.22M247.95 48.05L247.24 45.86M249.05 47.7L248.35 45.51M251.24 47.01L250.56 44.82M252.35 46.67L251.67 44.48M253.45 46.34L252.78 44.14M254.55 46.01L253.9 43.81" stroke="#666" stroke-width="0.45" fill="none"/><path d="M342.6 33.2L342.6 29.8M348.36 33.25L348.42 29.85M354.12 33.41L354.24 30.02M359.87 33.68L360.06 30.29M365.62 34.06L365.87 30.67M371.36 34.54L371.67 31.16M377.09 35.13L377.47 31.75M382.8 35.83L383.25 32.46M388.51 36.63L389.01 33.27M394.2 37.54L394.76 34.19M399.86 38.55L400.5 35.21M405.51 39.67L406.21 36.34M411.14 40.9L411.9 37.58M416.75 42.23L417.56 38.93M422.33 43.66L423.2 40.38M427.88 45.2L428.81 41.93M433.4 46.84L434.4 43.59M438.89 48.58L439.95 45.35M444.34 50.43L445.46 47.22M449.76 52.38L450.94 49.19M455.15 54.43L456.38 51.26M460.49 56.57L461.79 53.43M465.79 58.82L467.15 55.7M471.05 61.17L472.47 58.07M476.27 63.61L477.74 60.54M481.44 66.15L482.97 63.11M486.56 68.78L488.14 65.78M491.63 71.51L493.27 68.54M496.65 74.34L498.35 71.39M501.62 77.26L503.37 74.34M506.53 80.27L508.33 77.39M511.38 83.37L513.24 80.52M516.18 86.56L518.09 83.75M520.91 89.84L522.87 87.06M525.58 93.21L527.6 90.47M530.19 96.66L532.26 93.96M534.74 100.2L536.85 97.54M539.21 103.82L541.38 101.2M543.62 107.53L545.84 104.95M547.96 111.32L550.22 108.78M552.23 115.18L554.54 112.69M556.43 119.13L558.78 116.68M560.55 123.16L562.94 120.75M564.59 127.26L567.03 124.89M568.56 131.43L571.05 129.11M572.45 135.68L574.98 133.41M576.26 140L578.83 137.77M579.99 144.39L582.6 142.21M583.63 148.85L586.28 146.72M587.19 153.37L589.88 151.3M590.67 157.97L593.4 155.94M594.06 162.62L596.83 160.65M597.36 167.34L600.17 165.42M600.58 172.12L603.42 170.25M603.71 176.96L606.58 175.14M611.14 189.34L614.1 187.66M613.94 194.37L616.93 192.74M616.65 199.45L619.67 197.88M619.26 204.59L622.31 203.07M621.78 209.77L624.85 208.31M624.2 214.99L627.3 213.59M626.52 220.26L629.65 218.92M628.75 225.58L631.9 224.29M630.87 230.93L634.04 229.71M632.89 236.32L636.09 235.16M634.82 241.75L638.03 240.65M636.64 247.22L639.87 246.17M638.36 252.71L641.61 251.73M639.98 258.24L643.25 257.32M641.49 263.8L644.78 262.94M642.9 269.38L646.2 268.58M644.2 274.99L647.52 274.25M645.4 280.63L648.73 279.95M646.5 286.28L649.84 285.67M647.49 291.96L650.84 291.4M648.37 297.65L651.74 297.16M649.15 303.35L652.52 302.93M649.82 309.07L653.2 308.71M650.38 314.81L653.77 314.51M650.84 320.55L654.23 320.31M651.19 326.3L654.59 326.12M651.43 332.05L654.83 331.94M651.57 337.81L654.97 337.76M651.6 343.57L655 343.58M651.52 349.33L654.92 349.41M651.33 355.09L654.73 355.23M651.04 360.84L654.43 361.04M650.64 366.58L654.03 366.85M650.13 372.32L653.51 372.65M649.51 378.05L652.89 378.44M648.79 383.76L652.16 384.22M647.96 389.46L651.32 389.98M647.03 395.15L650.38 395.73M645.99 400.81L649.33 401.46M644.85 406.46L648.17 407.16M643.6 412.08L646.91 412.85M642.24 417.68L645.54 418.51M640.78 423.25L644.06 424.14M639.22 428.79L642.48 429.74M637.55 434.31L640.8 435.32M635.79 439.79L639.01 440.86M633.92 445.23L637.12 446.37M631.94 450.65L635.13 451.84M629.87 456.02L633.03 457.27M625.21 467.14L628.32 468.52M622.84 472.39L625.92 473.82M620.36 477.59L623.42 479.08M617.79 482.74L620.82 484.29M615.12 487.85L618.12 489.45M612.36 492.9L615.33 494.56M609.5 497.9L612.44 499.62M606.55 502.85L609.46 504.62M603.51 507.74L606.39 509.56M600.38 512.58L603.22 514.45M597.16 517.35L599.96 519.28M593.85 522.07L596.62 524.05M590.46 526.72L593.19 528.75M586.98 531.31L589.66 533.39M583.41 535.83L586.06 537.96M579.76 540.28L582.37 542.46M576.02 544.67L578.59 546.9M572.21 548.99L574.74 551.26M568.32 553.23L570.8 555.55M564.34 557.4L566.78 559.77M560.29 561.5L562.69 563.91M556.17 565.51L558.52 567.97M551.97 569.46L554.27 571.96M547.7 573.32L549.95 575.86M543.35 577.1L545.56 579.69M538.94 580.8L541.1 583.43M534.46 584.42L536.57 587.09M529.91 587.96L531.97 590.66M525.3 591.4L527.31 594.15M520.62 594.77L522.58 597.55M515.88 598.04L517.79 600.86M511.08 601.23L512.94 604.08M506.23 604.32L508.03 607.21M501.31 607.33L503.06 610.24M496.34 610.24L498.03 613.19M491.32 613.06L492.96 616.04M486.25 615.78L487.83 618.79M481.12 618.41L482.65 621.45M475.95 620.95L477.42 624.01M470.73 623.38L472.14 626.48M465.47 625.72L466.82 628.84M460.16 627.96L461.45 631.11M454.81 630.1L456.05 633.27M449.43 632.15L450.6 635.34M444.01 634.09L445.12 637.3M438.55 635.93L439.6 639.16M433.06 637.66L434.05 640.91M427.53 639.3L428.47 642.57M421.98 640.83L422.85 644.12M416.4 642.26L417.21 645.56M410.8 643.58L411.55 646.9M405.17 644.8L405.85 648.13M399.52 645.91L400.14 649.25M393.84 646.92L394.41 650.27M388.16 647.82L388.66 651.19M382.45 648.62L382.89 651.99M376.73 649.31L377.11 652.69M371 649.89L371.32 653.28M365.26 650.37L365.51 653.76M359.51 650.74L359.7 654.13M353.76 651L353.88 654.4M344 651.2L344.02 654.6M338.24 651.17L338.19 654.57M332.48 651.03L332.37 654.43M326.73 650.79L326.56 654.19M320.98 650.44L320.74 653.83M315.24 649.99L314.94 653.37M309.51 649.42L309.14 652.8M303.79 648.75L303.36 652.13M298.08 647.98L297.59 651.34M292.39 647.09L291.84 650.45M286.71 646.1L286.1 649.45M281.06 645.01L280.38 648.34M275.43 643.81L274.69 647.13M269.82 642.51L269.01 645.81M264.23 641.1L263.37 644.39M258.67 639.58L257.75 642.86M253.14 637.97L252.16 641.22M247.65 636.25L246.6 639.48M242.18 634.43L241.08 637.64M236.75 632.51L235.59 635.7M231.36 630.48L230.14 633.65M226.01 628.36L224.72 631.51M220.69 626.14L219.35 629.26M215.42 623.81L214.02 626.91M210.2 621.4L208.74 624.47M205.01 618.88L203.5 621.92M199.88 616.27L198.31 619.28M194.8 613.56L193.17 616.54M189.77 610.76L188.08 613.71M184.79 607.86L183.05 610.78M179.86 604.87L178.07 607.76M174.99 601.79L173.15 604.65M170.19 598.63L168.29 601.45M165.44 595.37L163.49 598.15M160.75 592.02L158.75 594.77M156.12 588.59L154.07 591.3M151.56 585.07L149.46 587.74M147.07 581.47L144.92 584.1M142.64 577.78L140.44 580.37M134.12 570.27L131.83 572.78M129.91 566.35L127.57 568.81M125.77 562.34L123.38 564.77M121.7 558.26L119.27 560.64M117.71 554.11L115.24 556.44M113.8 549.88L111.28 552.17M109.97 545.58L107.41 547.82M106.22 541.21L103.62 543.4M102.55 536.77L99.91 538.91M98.97 532.26L96.28 534.35M95.47 527.69L92.75 529.73M92.05 523.05L89.29 525.04M88.72 518.35L85.93 520.28M85.48 513.58L82.66 515.47M82.33 508.76L79.47 510.59M79.28 503.88L76.38 505.66M76.31 498.95L73.38 500.67M73.43 493.96L70.47 495.62M70.65 488.91L67.66 490.53M67.96 483.82L64.94 485.38M65.37 478.67L62.32 480.18M62.88 473.48L59.8 474.93M60.48 468.25L57.37 469.63M58.18 462.97L55.05 464.29M55.98 457.64L52.82 458.91M53.87 452.28L50.7 453.49M51.87 446.88L48.67 448.03M49.97 441.44L46.75 442.54M48.17 435.97L44.93 437M46.48 430.47L43.22 431.44M44.88 424.93L41.61 425.84M43.39 419.37L40.1 420.22M40.26 406.02L36.94 406.72M39.13 400.38L35.79 401.02M38.09 394.71L34.74 395.29M37.17 389.02L33.81 389.54M36.35 383.32L32.98 383.78M35.64 377.61L32.26 378M35.03 371.88L31.64 372.21M34.53 366.14L31.14 366.41M34.14 360.4L30.74 360.6M33.85 354.64L30.45 354.78M33.67 348.89L30.27 348.96M33.6 343.13L30.2 343.14M33.64 337.37L30.24 337.31M33.78 331.61L30.38 331.49M34.03 325.86L30.64 325.68M34.39 320.11L31 319.86M34.86 314.37L31.47 314.06M35.43 308.64L32.05 308.27M36.11 302.92L32.73 302.48M36.89 297.21L33.53 296.71M37.78 291.52L34.43 290.96M38.78 285.85L35.44 285.23M39.89 280.19L36.55 279.51M41.09 274.56L37.78 273.82M42.41 268.95L39.1 268.15M43.82 263.37L40.54 262.5M45.35 257.82L42.07 256.89M46.97 252.29L43.72 251.3M48.7 246.8L45.46 245.75M50.53 241.33L47.31 240.22M52.46 235.91L49.26 234.74M54.49 230.52L51.32 229.29M56.62 225.17L53.47 223.88M58.85 219.86L55.73 218.51M61.18 214.59L58.08 213.19M63.61 209.37L60.54 207.91M66.13 204.19L63.09 202.67M68.75 199.06L65.74 197.49M71.47 193.98L68.49 192.35M74.28 188.95L71.33 187.27M77.18 183.98L74.26 182.24M80.18 179.06L77.29 177.26M83.26 174.2L80.41 172.35M86.44 169.39L83.62 167.49M89.7 164.65L86.92 162.69M93.06 159.96L90.31 157.96M96.5 155.34L93.79 153.29M100.02 150.79L97.35 148.68M107.81 141.32L105.23 139.11M111.59 136.97L109.05 134.72M115.46 132.7L112.96 130.4M119.4 128.51L116.95 126.16M123.43 124.38L121.01 121.99M127.52 120.34L125.16 117.9M131.7 116.37L129.38 113.88M135.94 112.47L133.67 109.95M140.26 108.66L138.03 106.09M144.65 104.93L142.47 102.32M149.11 101.28L146.98 98.63M153.63 97.72L151.55 95.03M158.22 94.24L156.19 91.51M162.87 90.85L160.9 88.08M167.59 87.54L165.66 84.74M172.37 84.32L170.49 81.48M177.2 81.19L175.38 78.32M182.1 78.16L180.33 75.25M187.05 75.21L185.33 72.27M192.05 72.36L190.39 69.39M197.1 69.6L195.5 66.6M202.21 66.93L200.67 63.9M207.37 64.36L205.88 61.31M212.57 61.89L211.14 58.81M217.82 59.52L216.44 56.41M223.11 57.24L221.79 54.1M228.44 55.06L227.18 51.9M233.81 52.98L232.61 49.8M239.22 51.01L238.08 47.8M244.67 49.13L243.59 45.91M250.14 47.36L249.13 44.11" stroke="#555" stroke-width="0.55" fill="none"/><g font-family="DejaVu Sans, sans-serif" font-size="5.8" fill="#000" stroke="#000" stroke-width="0.07" dominant-baseline="central"><text x="342.6" y="28.2" transform="rotate(-90 342.6 28.2)" text-anchor="start">0</text><text x="348.45" y="28.25" transform="rotate(-88.93 348.45 28.25)" text-anchor="start">5</text><text x="354.3" y="28.42" transform="rotate(-87.86 354.3 28.42)" text-anchor="start">10</text><text x="360.15" y="28.69" transform="rotate(-86.8 360.15 28.69)" text-anchor="start">15</text><text x="365.99" y="29.07" transform="rotate(-85.73 365.99 29.07)" text-anchor="start">20</text><text x="371.82" y="29.56" transform="rotate(-84.66 371.82 29.56)" text-anchor="start">25</text><text x="377.64" y="30.16" transform="rotate(-83.59 377.64 30.16)" text-anchor="start">30</text><text x="383.45" y="30.87" transform="rotate(-82.52 383.45 30.87)" text-anchor="start">35</text><text x="389.25" y="31.68" transform="rotate(-81.46 389.25 31.68)" text-anchor="start">40</text><text x="395.03" y="32.61" transform="rotate(-80.39 395.03 32.61)" text-anchor="start">45</text><text x="400.79" y="33.64" transform="rotate(-79.32 400.79 33.64)" text-anchor="start">50</text><text x="406.53" y="34.78" transform="rotate(-78.25 406.53 34.78)" text-anchor="start">55</text><text x="412.25" y="36.02" transform="rotate(-77.18 412.25 36.02)" text-anchor="start">60</text><text x="417.95" y="37.37" transform="rotate(-76.12 417.95 37.37)" text-anchor="start">65</text><text x="423.62" y="38.83" transform="rotate(-75.05 423.62 38.83)" text-anchor="start">70</text><text x="429.26" y="40.39" transform="rotate(-73.98 429.26 40.39)" text-anchor="start">75</text><text x="434.87" y="42.06" transform="rotate(-72.91 434.87 42.06)" text-anchor="start">80</text><text x="440.44" y="43.83" transform="rotate(-71.84 440.44 43.83)" text-anchor="start">85</text><text x="445.99" y="45.71" transform="rotate(-70.78 445.99 45.71)" text-anchor="start">90</text><text x="451.5" y="47.69" transform="rotate(-69.71 451.5 47.69)" text-anchor="start">95</text><text x="456.97" y="49.77" transform="rotate(-68.64 456.97 49.77)" text-anchor="start">100</text><text x="462.4" y="51.95" transform="rotate(-67.57 462.4 51.95)" text-anchor="start">105</text><text x="467.79" y="54.23" transform="rotate(-66.5 467.79 54.23)" text-anchor="start">110</text><text x="473.13" y="56.62" transform="rotate(-65.44 473.13 56.62)" text-anchor="start">115</text><text x="478.43" y="59.1" transform="rotate(-64.37 478.43 59.1)" text-anchor="start">120</text><text x="483.69" y="61.68" transform="rotate(-63.3 483.69 61.68)" text-anchor="start">125</text><text x="488.89" y="64.36" transform="rotate(-62.23 488.89 64.36)" text-anchor="start">130</text><text x="494.04" y="67.13" transform="rotate(-61.16 494.04 67.13)" text-anchor="start">135</text><text x="499.14" y="70.01" transform="rotate(-60.1 499.14 70.01)" text-anchor="start">140</text><text x="504.19" y="72.97" transform="rotate(-59.03 504.19 72.97)" text-anchor="start">145</text><text x="509.18" y="76.03" transform="rotate(-57.96 509.18 76.03)" text-anchor="start">150</text><text x="514.11" y="79.18" transform="rotate(-56.89 514.11 79.18)" text-anchor="start">155</text><text x="518.99" y="82.42" transform="rotate(-55.82 518.99 82.42)" text-anchor="start">160</text><text x="523.8" y="85.76" transform="rotate(-54.76 523.8 85.76)" text-anchor="start">165</text><text x="528.55" y="89.18" transform="rotate(-53.69 528.55 89.18)" text-anchor="start">170</text><text x="533.23" y="92.69" transform="rotate(-52.62 533.23 92.69)" text-anchor="start">175</text><text x="537.85" y="96.28" transform="rotate(-51.55 537.85 96.28)" text-anchor="start">180</text><text x="542.4" y="99.97" transform="rotate(-50.48 542.4 99.97)" text-anchor="start">185</text><text x="546.88" y="103.73" transform="rotate(-49.42 546.88 103.73)" text-anchor="start">190</text><text x="551.29" y="107.58" transform="rotate(-48.35 551.29 107.58)" text-anchor="start">195</text><text x="555.62" y="111.51" transform="rotate(-47.28 555.62 111.51)" text-anchor="start">200</text><text x="559.89" y="115.52" transform="rotate(-46.21 559.89 115.52)" text-anchor="start">205</text><text x="564.07" y="119.61" transform="rotate(-45.14 564.07 119.61)" text-anchor="start">210</text><text x="568.18" y="123.78" transform="rotate(-44.08 568.18 123.78)" text-anchor="start">215</text><text x="572.22" y="128.02" transform="rotate(-43.01 572.22 128.02)" text-anchor="start">220</text><text x="576.17" y="132.34" transform="rotate(-41.94 576.17 132.34)" text-anchor="start">225</text><text x="580.04" y="136.73" transform="rotate(-40.87 580.04 136.73)" text-anchor="start">230</text><text x="583.83" y="141.19" transform="rotate(-39.8 583.83 141.19)" text-anchor="start">235</text><text x="587.53" y="145.72" transform="rotate(-38.74 587.53 145.72)" text-anchor="start">240</text><text x="591.15" y="150.32" transform="rotate(-37.67 591.15 150.32)" text-anchor="start">245</text><text x="594.68" y="154.99" transform="rotate(-36.6 594.68 154.99)" text-anchor="start">250</text><text x="598.13" y="159.72" transform="rotate(-35.53 598.13 159.72)" text-anchor="start">255</text><text x="601.49" y="164.51" transform="rotate(-34.46 601.49 164.51)" text-anchor="start">260</text><text x="604.75" y="169.37" transform="rotate(-33.4 604.75 169.37)" text-anchor="start">265</text><text x="607.93" y="174.28" transform="rotate(-32.33 607.93 174.28)" text-anchor="start">270</text><text x="615.49" y="186.86" transform="rotate(-29.65 615.49 186.86)" text-anchor="start">0</text><text x="618.33" y="191.98" transform="rotate(-28.58 618.33 191.98)" text-anchor="start">5</text><text x="621.09" y="197.14" transform="rotate(-27.51 621.09 197.14)" text-anchor="start">10</text><text x="623.74" y="202.36" transform="rotate(-26.45 623.74 202.36)" text-anchor="start">15</text><text x="626.3" y="207.62" transform="rotate(-25.38 626.3 207.62)" text-anchor="start">20</text><text x="628.76" y="212.93" transform="rotate(-24.31 628.76 212.93)" text-anchor="start">25</text><text x="631.12" y="218.29" transform="rotate(-23.24 631.12 218.29)" text-anchor="start">30</text><text x="633.38" y="223.69" transform="rotate(-22.17 633.38 223.69)" text-anchor="start">35</text><text x="635.54" y="229.13" transform="rotate(-21.11 635.54 229.13)" text-anchor="start">40</text><text x="637.59" y="234.61" transform="rotate(-20.04 637.59 234.61)" text-anchor="start">45</text><text x="639.55" y="240.13" transform="rotate(-18.97 639.55 240.13)" text-anchor="start">50</text><text x="641.4" y="245.68" transform="rotate(-17.9 641.4 245.68)" text-anchor="start">55</text><text x="643.14" y="251.27" transform="rotate(-16.83 643.14 251.27)" text-anchor="start">60</text><text x="644.79" y="256.88" transform="rotate(-15.77 644.79 256.88)" text-anchor="start">65</text><text x="646.32" y="262.53" transform="rotate(-14.7 646.32 262.53)" text-anchor="start">70</text><text x="647.76" y="268.21" transform="rotate(-13.63 647.76 268.21)" text-anchor="start">75</text><text x="649.08" y="273.91" transform="rotate(-12.56 649.08 273.91)" text-anchor="start">80</text><text x="650.3" y="279.63" transform="rotate(-11.49 650.3 279.63)" text-anchor="start">85</text><text x="651.42" y="285.38" transform="rotate(-10.43 651.42 285.38)" text-anchor="start">90</text><text x="652.42" y="291.14" transform="rotate(-9.36 652.42 291.14)" text-anchor="start">95</text><text x="653.32" y="296.93" transform="rotate(-8.29 653.32 296.93)" text-anchor="start">100</text><text x="654.11" y="302.73" transform="rotate(-7.22 654.11 302.73)" text-anchor="start">105</text><text x="654.79" y="308.54" transform="rotate(-6.15 654.79 308.54)" text-anchor="start">110</text><text x="655.36" y="314.36" transform="rotate(-5.09 655.36 314.36)" text-anchor="start">115</text><text x="655.83" y="320.2" transform="rotate(-4.02 655.83 320.2)" text-anchor="start">120</text><text x="656.18" y="326.04" transform="rotate(-2.95 656.18 326.04)" text-anchor="start">125</text><text x="656.43" y="331.89" transform="rotate(-1.88 656.43 331.89)" text-anchor="start">130</text><text x="656.57" y="337.74" transform="rotate(-0.81 656.57 337.74)" text-anchor="start">135</text><text x="656.6" y="343.59" transform="rotate(0.25 656.6 343.59)" text-anchor="start">140</text><text x="656.52" y="349.44" transform="rotate(1.32 656.52 349.44)" text-anchor="start">145</text><text x="656.33" y="355.29" transform="rotate(2.39 656.33 355.29)" text-anchor="start">150</text><text x="656.03" y="361.14" transform="rotate(3.46 656.03 361.14)" text-anchor="start">155</text><text x="655.62" y="366.98" transform="rotate(4.53 655.62 366.98)" text-anchor="start">160</text><text x="655.1" y="372.81" transform="rotate(5.59 655.1 372.81)" text-anchor="start">165</text><text x="654.48" y="378.63" transform="rotate(6.66 654.48 378.63)" text-anchor="start">170</text><text x="653.75" y="384.43" transform="rotate(7.73 653.75 384.43)" text-anchor="start">175</text><text x="652.91" y="390.23" transform="rotate(8.8 652.91 390.23)" text-anchor="start">180</text><text x="651.96" y="396" transform="rotate(9.87 651.96 396)" text-anchor="start">185</text><text x="650.9" y="401.76" transform="rotate(10.93 650.9 401.76)" text-anchor="start">190</text><text x="649.74" y="407.49" transform="rotate(12 649.74 407.49)" text-anchor="start">195</text><text x="648.47" y="413.21" transform="rotate(13.07 648.47 413.21)" text-anchor="start">200</text><text x="647.09" y="418.9" transform="rotate(14.14 647.09 418.9)" text-anchor="start">205</text><text x="645.61" y="424.56" transform="rotate(15.21 645.61 424.56)" text-anchor="start">210</text><text x="644.02" y="430.19" transform="rotate(16.27 644.02 430.19)" text-anchor="start">215</text><text x="642.33" y="435.8" transform="rotate(17.34 642.33 435.8)" text-anchor="start">220</text><text x="640.53" y="441.37" transform="rotate(18.41 640.53 441.37)" text-anchor="start">225</text><text x="638.63" y="446.9" transform="rotate(19.48 638.63 446.9)" text-anchor="start">230</text><text x="636.63" y="452.4" transform="rotate(20.55 636.63 452.4)" text-anchor="start">235</text><text x="634.52" y="457.86" transform="rotate(21.61 634.52 457.86)" text-anchor="start">240</text><text x="629.79" y="469.16" transform="rotate(23.85 629.79 469.16)" text-anchor="start">0</text><text x="627.37" y="474.49" transform="rotate(24.92 627.37 474.49)" text-anchor="start">5</text><text x="624.85" y="479.78" transform="rotate(25.99 624.85 479.78)" text-anchor="start">10</text><text x="622.24" y="485.02" transform="rotate(27.05 622.24 485.02)" text-anchor="start">15</text><text x="619.53" y="490.2" transform="rotate(28.12 619.53 490.2)" text-anchor="start">20</text><text x="616.72" y="495.34" transform="rotate(29.19 616.72 495.34)" text-anchor="start">25</text><text x="613.82" y="500.42" transform="rotate(30.26 613.82 500.42)" text-anchor="start">30</text><text x="610.83" y="505.45" transform="rotate(31.33 610.83 505.45)" text-anchor="start">35</text><text x="607.74" y="510.42" transform="rotate(32.39 607.74 510.42)" text-anchor="start">40</text><text x="604.56" y="515.33" transform="rotate(33.46 604.56 515.33)" text-anchor="start">45</text><text x="601.28" y="520.19" transform="rotate(34.53 601.28 520.19)" text-anchor="start">50</text><text x="597.92" y="524.98" transform="rotate(35.6 597.92 524.98)" text-anchor="start">55</text><text x="594.47" y="529.7" transform="rotate(36.67 594.47 529.7)" text-anchor="start">60</text><text x="590.93" y="534.37" transform="rotate(37.73 590.93 534.37)" text-anchor="start">65</text><text x="587.31" y="538.96" transform="rotate(38.8 587.31 538.96)" text-anchor="start">70</text><text x="583.6" y="543.49" transform="rotate(39.87 583.6 543.49)" text-anchor="start">75</text><text x="579.8" y="547.95" transform="rotate(40.94 579.8 547.95)" text-anchor="start">80</text><text x="575.93" y="552.33" transform="rotate(42.01 575.93 552.33)" text-anchor="start">85</text><text x="571.97" y="556.64" transform="rotate(43.07 571.97 556.64)" text-anchor="start">90</text><text x="567.93" y="560.88" transform="rotate(44.14 567.93 560.88)" text-anchor="start">95</text><text x="563.82" y="565.04" transform="rotate(45.21 563.82 565.04)" text-anchor="start">100</text><text x="559.62" y="569.13" transform="rotate(46.28 559.62 569.13)" text-anchor="start">105</text><text x="555.36" y="573.13" transform="rotate(47.35 555.36 573.13)" text-anchor="start">110</text><text x="551.02" y="577.06" transform="rotate(48.41 551.02 577.06)" text-anchor="start">115</text><text x="546.6" y="580.9" transform="rotate(49.48 546.6 580.9)" text-anchor="start">120</text><text x="542.12" y="584.66" transform="rotate(50.55 542.12 584.66)" text-anchor="start">125</text><text x="537.56" y="588.34" transform="rotate(51.62 537.56 588.34)" text-anchor="start">130</text><text x="532.94" y="591.93" transform="rotate(52.69 532.94 591.93)" text-anchor="start">135</text><text x="528.25" y="595.44" transform="rotate(53.75 528.25 595.44)" text-anchor="start">140</text><text x="523.5" y="598.85" transform="rotate(54.82 523.5 598.85)" text-anchor="start">145</text><text x="518.69" y="602.18" transform="rotate(55.89 518.69 602.18)" text-anchor="start">150</text><text x="513.81" y="605.42" transform="rotate(56.96 513.81 605.42)" text-anchor="start">155</text><text x="508.87" y="608.56" transform="rotate(58.03 508.87 608.56)" text-anchor="start">160</text><text x="503.88" y="611.62" transform="rotate(59.09 503.88 611.62)" text-anchor="start">165</text><text x="498.83" y="614.57" transform="rotate(60.16 498.83 614.57)" text-anchor="start">170</text><text x="493.73" y="617.44" transform="rotate(61.23 493.73 617.44)" text-anchor="start">175</text><text x="488.57" y="620.21" transform="rotate(62.3 488.57 620.21)" text-anchor="start">180</text><text x="483.36" y="622.88" transform="rotate(63.37 483.36 622.88)" text-anchor="start">185</text><text x="478.11" y="625.46" transform="rotate(64.43 478.11 625.46)" text-anchor="start">190</text><text x="472.8" y="627.93" transform="rotate(65.5 472.8 627.93)" text-anchor="start">195</text><text x="467.46" y="630.31" transform="rotate(66.57 467.46 630.31)" text-anchor="start">200</text><text x="462.06" y="632.59" transform="rotate(67.64 462.06 632.59)" text-anchor="start">205</text><text x="456.63" y="634.76" transform="rotate(68.71 456.63 634.76)" text-anchor="start">210</text><text x="451.16" y="636.84" transform="rotate(69.77 451.16 636.84)" text-anchor="start">215</text><text x="445.65" y="638.81" transform="rotate(70.84 445.65 638.81)" text-anchor="start">220</text><text x="440.1" y="640.68" transform="rotate(71.91 440.1 640.68)" text-anchor="start">225</text><text x="434.52" y="642.44" transform="rotate(72.98 434.52 642.44)" text-anchor="start">230</text><text x="428.91" y="644.11" transform="rotate(74.05 428.91 644.11)" text-anchor="start">235</text><text x="423.27" y="645.66" transform="rotate(75.11 423.27 645.66)" text-anchor="start">240</text><text x="417.6" y="647.11" transform="rotate(76.18 417.6 647.11)" text-anchor="start">245</text><text x="411.9" y="648.46" transform="rotate(77.25 411.9 648.46)" text-anchor="start">250</text><text x="406.18" y="649.7" transform="rotate(78.32 406.18 649.7)" text-anchor="start">255</text><text x="400.44" y="650.83" transform="rotate(79.39 400.44 650.83)" text-anchor="start">260</text><text x="394.67" y="651.85" transform="rotate(80.45 394.67 651.85)" text-anchor="start">265</text><text x="388.89" y="652.77" transform="rotate(81.52 388.89 652.77)" text-anchor="start">270</text><text x="383.1" y="653.58" transform="rotate(82.59 383.1 653.58)" text-anchor="start">275</text><text x="377.29" y="654.28" transform="rotate(83.66 377.29 654.28)" text-anchor="start">280</text><text x="371.46" y="654.87" transform="rotate(84.73 371.46 654.87)" text-anchor="start">285</text><text x="365.63" y="655.35" transform="rotate(85.79 365.63 655.35)" text-anchor="start">290</text><text x="359.79" y="655.73" transform="rotate(86.86 359.79 655.73)" text-anchor="start">295</text><text x="353.94" y="656" transform="rotate(87.93 353.94 656)" text-anchor="start">300</text><text x="344.02" y="656.2" transform="rotate(89.74 344.02 656.2)" text-anchor="start">0</text><text x="338.17" y="656.17" transform="rotate(270.81 338.17 656.17)" text-anchor="end">5</text><text x="332.32" y="656.03" transform="rotate(271.88 332.32 656.03)" text-anchor="end">10</text><text x="326.47" y="655.79" transform="rotate(272.94 326.47 655.79)" text-anchor="end">15</text><text x="320.63" y="655.43" transform="rotate(274.01 320.63 655.43)" text-anchor="end">20</text><text x="314.8" y="654.97" transform="rotate(275.08 314.8 654.97)" text-anchor="end">25</text><text x="308.97" y="654.39" transform="rotate(276.15 308.97 654.39)" text-anchor="end">30</text><text x="303.16" y="653.71" transform="rotate(277.22 303.16 653.71)" text-anchor="end">35</text><text x="297.36" y="652.92" transform="rotate(278.28 297.36 652.92)" text-anchor="end">40</text><text x="291.58" y="652.03" transform="rotate(279.35 291.58 652.03)" text-anchor="end">45</text><text x="285.81" y="651.02" transform="rotate(280.42 285.81 651.02)" text-anchor="end">50</text><text x="280.06" y="649.91" transform="rotate(281.49 280.06 649.91)" text-anchor="end">55</text><text x="274.34" y="648.69" transform="rotate(282.56 274.34 648.69)" text-anchor="end">60</text><text x="268.64" y="647.36" transform="rotate(283.62 268.64 647.36)" text-anchor="end">65</text><text x="262.96" y="645.93" transform="rotate(284.69 262.96 645.93)" text-anchor="end">70</text><text x="257.31" y="644.4" transform="rotate(285.76 257.31 644.4)" text-anchor="end">75</text><text x="251.7" y="642.75" transform="rotate(286.83 251.7 642.75)" text-anchor="end">80</text><text x="246.11" y="641.01" transform="rotate(287.9 246.11 641.01)" text-anchor="end">85</text><text x="240.56" y="639.16" transform="rotate(288.96 240.56 639.16)" text-anchor="end">90</text><text x="235.04" y="637.2" transform="rotate(290.03 235.04 637.2)" text-anchor="end">95</text><text x="229.56" y="635.15" transform="rotate(291.1 229.56 635.15)" text-anchor="end">100</text><text x="224.12" y="632.99" transform="rotate(292.17 224.12 632.99)" text-anchor="end">105</text><text x="218.72" y="630.73" transform="rotate(293.24 218.72 630.73)" text-anchor="end">110</text><text x="213.36" y="628.37" transform="rotate(294.3 213.36 628.37)" text-anchor="end">115</text><text x="208.05" y="625.91" transform="rotate(295.37 208.05 625.91)" text-anchor="end">120</text><text x="202.79" y="623.36" transform="rotate(296.44 202.79 623.36)" text-anchor="end">125</text><text x="197.57" y="620.7" transform="rotate(297.51 197.57 620.7)" text-anchor="end">130</text><text x="192.41" y="617.95" transform="rotate(298.58 192.41 617.95)" text-anchor="end">135</text><text x="187.29" y="615.1" transform="rotate(299.64 187.29 615.1)" text-anchor="end">140</text><text x="182.23" y="612.16" transform="rotate(300.71 182.23 612.16)" text-anchor="end">145</text><text x="177.23" y="609.12" transform="rotate(301.78 177.23 609.12)" text-anchor="end">150</text><text x="172.28" y="606" transform="rotate(302.85 172.28 606)" text-anchor="end">155</text><text x="167.4" y="602.77" transform="rotate(303.92 167.4 602.77)" text-anchor="end">160</text><text x="162.57" y="599.46" transform="rotate(304.98 162.57 599.46)" text-anchor="end">165</text><text x="157.8" y="596.06" transform="rotate(306.05 157.8 596.06)" text-anchor="end">170</text><text x="153.11" y="592.58" transform="rotate(307.12 153.11 592.58)" text-anchor="end">175</text><text x="148.47" y="589" transform="rotate(308.19 148.47 589)" text-anchor="end">180</text><text x="143.91" y="585.34" transform="rotate(309.26 143.91 585.34)" text-anchor="end">185</text><text x="139.41" y="581.59" transform="rotate(310.32 139.41 581.59)" text-anchor="end">190</text><text x="130.75" y="573.96" transform="rotate(312.43 130.75 573.96)" text-anchor="end">0</text><text x="126.46" y="569.98" transform="rotate(313.5 126.46 569.98)" text-anchor="end">5</text><text x="122.26" y="565.91" transform="rotate(314.57 122.26 565.91)" text-anchor="end">10</text><text x="118.13" y="561.76" transform="rotate(315.63 118.13 561.76)" text-anchor="end">15</text><text x="114.07" y="557.54" transform="rotate(316.7 114.07 557.54)" text-anchor="end">20</text><text x="110.1" y="553.24" transform="rotate(317.77 110.1 553.24)" text-anchor="end">25</text><text x="106.2" y="548.87" transform="rotate(318.84 106.2 548.87)" text-anchor="end">30</text><text x="102.39" y="544.43" transform="rotate(319.91 102.39 544.43)" text-anchor="end">35</text><text x="98.67" y="539.92" transform="rotate(320.97 98.67 539.92)" text-anchor="end">40</text><text x="95.02" y="535.34" transform="rotate(322.04 95.02 535.34)" text-anchor="end">45</text><text x="91.47" y="530.69" transform="rotate(323.11 91.47 530.69)" text-anchor="end">50</text><text x="88" y="525.97" transform="rotate(324.18 88 525.97)" text-anchor="end">55</text><text x="84.62" y="521.2" transform="rotate(325.25 84.62 521.2)" text-anchor="end">60</text><text x="81.32" y="516.36" transform="rotate(326.31 81.32 516.36)" text-anchor="end">65</text><text x="78.12" y="511.46" transform="rotate(327.38 78.12 511.46)" text-anchor="end">70</text><text x="75.01" y="506.5" transform="rotate(328.45 75.01 506.5)" text-anchor="end">75</text><text x="72" y="501.48" transform="rotate(329.52 72 501.48)" text-anchor="end">80</text><text x="69.08" y="496.41" transform="rotate(330.59 69.08 496.41)" text-anchor="end">85</text><text x="66.25" y="491.29" transform="rotate(331.65 66.25 491.29)" text-anchor="end">90</text><text x="63.52" y="486.11" transform="rotate(332.72 63.52 486.11)" text-anchor="end">95</text><text x="60.89" y="480.88" transform="rotate(333.79 60.89 480.88)" text-anchor="end">100</text><text x="58.35" y="475.61" transform="rotate(334.86 58.35 475.61)" text-anchor="end">105</text><text x="55.91" y="470.29" transform="rotate(335.93 55.91 470.29)" text-anchor="end">110</text><text x="53.57" y="464.92" transform="rotate(336.99 53.57 464.92)" text-anchor="end">115</text><text x="51.34" y="459.51" transform="rotate(338.06 51.34 459.51)" text-anchor="end">120</text><text x="49.2" y="454.06" transform="rotate(339.13 49.2 454.06)" text-anchor="end">125</text><text x="47.17" y="448.57" transform="rotate(340.2 47.17 448.57)" text-anchor="end">130</text><text x="45.24" y="443.05" transform="rotate(341.27 45.24 443.05)" text-anchor="end">135</text><text x="43.41" y="437.49" transform="rotate(342.33 43.41 437.49)" text-anchor="end">140</text><text x="41.68" y="431.9" transform="rotate(343.4 41.68 431.9)" text-anchor="end">145</text><text x="40.06" y="426.27" transform="rotate(344.47 40.06 426.27)" text-anchor="end">150</text><text x="38.55" y="420.62" transform="rotate(345.54 38.55 420.62)" text-anchor="end">155</text><text x="35.37" y="407.06" transform="rotate(348.08 35.37 407.06)" text-anchor="end">0</text><text x="34.22" y="401.32" transform="rotate(349.15 34.22 401.32)" text-anchor="end">5</text><text x="33.17" y="395.56" transform="rotate(350.22 33.17 395.56)" text-anchor="end">10</text><text x="32.23" y="389.78" transform="rotate(351.28 32.23 389.78)" text-anchor="end">15</text><text x="31.39" y="383.99" transform="rotate(352.35 31.39 383.99)" text-anchor="end">20</text><text x="30.67" y="378.18" transform="rotate(353.42 30.67 378.18)" text-anchor="end">25</text><text x="30.05" y="372.36" transform="rotate(354.49 30.05 372.36)" text-anchor="end">30</text><text x="29.54" y="366.53" transform="rotate(355.56 29.54 366.53)" text-anchor="end">35</text><text x="29.14" y="360.69" transform="rotate(356.62 29.14 360.69)" text-anchor="end">40</text><text x="28.85" y="354.85" transform="rotate(357.69 28.85 354.85)" text-anchor="end">45</text><text x="28.67" y="349" transform="rotate(358.76 28.67 349)" text-anchor="end">50</text><text x="28.6" y="343.14" transform="rotate(359.83 28.6 343.14)" text-anchor="end">55</text><text x="28.64" y="337.29" transform="rotate(360.9 28.64 337.29)" text-anchor="end">60</text><text x="28.78" y="331.44" transform="rotate(361.96 28.78 331.44)" text-anchor="end">65</text><text x="29.04" y="325.59" transform="rotate(363.03 29.04 325.59)" text-anchor="end">70</text><text x="29.4" y="319.75" transform="rotate(364.1 29.4 319.75)" text-anchor="end">75</text><text x="29.88" y="313.92" transform="rotate(365.17 29.88 313.92)" text-anchor="end">80</text><text x="30.46" y="308.09" transform="rotate(366.24 30.46 308.09)" text-anchor="end">85</text><text x="31.15" y="302.28" transform="rotate(367.3 31.15 302.28)" text-anchor="end">90</text><text x="31.95" y="296.48" transform="rotate(368.37 31.95 296.48)" text-anchor="end">95</text><text x="32.85" y="290.7" transform="rotate(369.44 32.85 290.7)" text-anchor="end">100</text><text x="33.87" y="284.93" transform="rotate(370.51 33.87 284.93)" text-anchor="end">105</text><text x="34.99" y="279.19" transform="rotate(371.58 34.99 279.19)" text-anchor="end">110</text><text x="36.21" y="273.47" transform="rotate(372.64 36.21 273.47)" text-anchor="end">115</text><text x="37.55" y="267.77" transform="rotate(373.71 37.55 267.77)" text-anchor="end">120</text><text x="38.99" y="262.1" transform="rotate(374.78 38.99 262.1)" text-anchor="end">125</text><text x="40.54" y="256.45" transform="rotate(375.85 40.54 256.45)" text-anchor="end">130</text><text x="42.19" y="250.84" transform="rotate(376.92 42.19 250.84)" text-anchor="end">135</text><text x="43.94" y="245.25" transform="rotate(377.98 43.94 245.25)" text-anchor="end">140</text><text x="45.8" y="239.7" transform="rotate(379.05 45.8 239.7)" text-anchor="end">145</text><text x="47.76" y="234.19" transform="rotate(380.12 47.76 234.19)" text-anchor="end">150</text><text x="49.83" y="228.71" transform="rotate(381.19 49.83 228.71)" text-anchor="end">155</text><text x="51.99" y="223.27" transform="rotate(382.26 51.99 223.27)" text-anchor="end">160</text><text x="54.26" y="217.88" transform="rotate(383.32 54.26 217.88)" text-anchor="end">165</text><text x="56.63" y="212.53" transform="rotate(384.39 56.63 212.53)" text-anchor="end">170</text><text x="59.09" y="207.22" transform="rotate(385.46 59.09 207.22)" text-anchor="end">175</text><text x="61.66" y="201.96" transform="rotate(386.53 61.66 201.96)" text-anchor="end">180</text><text x="64.32" y="196.74" transform="rotate(387.6 64.32 196.74)" text-anchor="end">185</text><text x="67.08" y="191.58" transform="rotate(388.66 67.08 191.58)" text-anchor="end">190</text><text x="69.94" y="186.47" transform="rotate(389.73 69.94 186.47)" text-anchor="end">195</text><text x="72.89" y="181.42" transform="rotate(390.8 72.89 181.42)" text-anchor="end">200</text><text x="75.93" y="176.42" transform="rotate(391.87 75.93 176.42)" text-anchor="end">205</text><text x="79.07" y="171.48" transform="rotate(392.94 79.07 171.48)" text-anchor="end">210</text><text x="82.29" y="166.6" transform="rotate(394 82.29 166.6)" text-anchor="end">215</text><text x="85.61" y="161.77" transform="rotate(395.07 85.61 161.77)" text-anchor="end">220</text><text x="89.02" y="157.02" transform="rotate(396.14 89.02 157.02)" text-anchor="end">225</text><text x="92.52" y="152.32" transform="rotate(397.21 92.52 152.32)" text-anchor="end">230</text><text x="96.1" y="147.69" transform="rotate(398.28 96.1 147.69)" text-anchor="end">235</text><text x="104.01" y="138.07" transform="rotate(400.55 104.01 138.07)" text-anchor="end">0</text><text x="107.86" y="133.65" transform="rotate(401.62 107.86 133.65)" text-anchor="end">5</text><text x="111.78" y="129.31" transform="rotate(402.69 111.78 129.31)" text-anchor="end">10</text><text x="115.79" y="125.05" transform="rotate(403.75 115.79 125.05)" text-anchor="end">15</text><text x="119.88" y="120.86" transform="rotate(404.82 119.88 120.86)" text-anchor="end">20</text><text x="124.04" y="116.75" transform="rotate(405.89 124.04 116.75)" text-anchor="end">25</text><text x="128.28" y="112.71" transform="rotate(406.96 128.28 112.71)" text-anchor="end">30</text><text x="132.6" y="108.76" transform="rotate(408.03 132.6 108.76)" text-anchor="end">35</text><text x="136.99" y="104.88" transform="rotate(409.09 136.99 104.88)" text-anchor="end">40</text><text x="141.45" y="101.09" transform="rotate(410.16 141.45 101.09)" text-anchor="end">45</text><text x="145.97" y="97.38" transform="rotate(411.23 145.97 97.38)" text-anchor="end">50</text><text x="150.57" y="93.76" transform="rotate(412.3 150.57 93.76)" text-anchor="end">55</text><text x="155.24" y="90.23" transform="rotate(413.37 155.24 90.23)" text-anchor="end">60</text><text x="159.96" y="86.78" transform="rotate(414.43 159.96 86.78)" text-anchor="end">65</text><text x="164.76" y="83.42" transform="rotate(415.5 164.76 83.42)" text-anchor="end">70</text><text x="169.61" y="80.15" transform="rotate(416.57 169.61 80.15)" text-anchor="end">75</text><text x="174.53" y="76.97" transform="rotate(417.64 174.53 76.97)" text-anchor="end">80</text><text x="179.5" y="73.88" transform="rotate(418.71 179.5 73.88)" text-anchor="end">85</text><text x="184.53" y="70.89" transform="rotate(419.77 184.53 70.89)" text-anchor="end">90</text><text x="189.61" y="67.99" transform="rotate(420.84 189.61 67.99)" text-anchor="end">95</text><text x="194.75" y="65.19" transform="rotate(421.91 194.75 65.19)" text-anchor="end">100</text><text x="199.94" y="62.48" transform="rotate(422.98 199.94 62.48)" text-anchor="end">105</text><text x="205.18" y="59.87" transform="rotate(424.05 205.18 59.87)" text-anchor="end">110</text><text x="210.46" y="57.36" transform="rotate(425.11 210.46 57.36)" text-anchor="end">115</text><text x="215.8" y="54.94" transform="rotate(426.18 215.8 54.94)" text-anchor="end">120</text><text x="221.17" y="52.63" transform="rotate(427.25 221.17 52.63)" text-anchor="end">125</text><text x="226.59" y="50.42" transform="rotate(428.32 226.59 50.42)" text-anchor="end">130</text><text x="232.05" y="48.3" transform="rotate(429.39 232.05 48.3)" text-anchor="end">135</text><text x="237.55" y="46.29" transform="rotate(430.45 237.55 46.29)" text-anchor="end">140</text><text x="243.08" y="44.39" transform="rotate(431.52 243.08 44.39)" text-anchor="end">145</text><text x="248.65" y="42.58" transform="rotate(432.59 248.65 42.58)" text-anchor="end">150</text></g><g font-family="DejaVu Sans, sans-serif" font-size="10" fill="#111"><text x="505.32" y="52.24" transform="rotate(29.3 505.32 52.24)" text-anchor="middle" dominant-baseline="central">1</text><text x="674.38" y="320.31" transform="rotate(86.22 674.38 320.31)" text-anchor="middle" dominant-baseline="central">2</text><text x="528.58" y="617.82" transform="rotate(-34.01 528.58 617.82)" text-anchor="middle" dominant-baseline="central">3</text><text x="227.82" y="654.26" transform="rotate(20.19 227.82 654.26)" text-anchor="middle" dominant-baseline="central">4</text><text x="56.58" y="511.76" transform="rotate(59.34 56.58 511.76)" text-anchor="middle" dominant-baseline="central">5</text><text x="19.21" y="264.92" transform="rotate(283.44 19.21 264.92)" text-anchor="middle" dominant-baseline="central">6</text><text x="161.87" y="63.11" transform="rotate(327.08 161.87 63.11)" text-anchor="middle" dominant-baseline="central">7</text></g><path d="M443.13 17.93A339.5 339.5 0 0 1 446.24 18.91L351.76 313.63A30 30 0 0 0 351.48 313.55Z" fill="rgba(245,165,30,0.38)" stroke="#3c3c36" stroke-width="0.7"/><path d="M617.61 143.13A339.5 339.5 0 0 1 621.72 148.93L367.26 325.12A30 30 0 0 0 366.9 324.61Z" fill="rgba(245,165,30,0.38)" stroke="#3c3c36" stroke-width="0.7"/><path d="M592 572.54A339.5 339.5 0 0 1 587.33 577.5L364.23 362.99A30 30 0 0 0 364.64 362.55Z" fill="rgba(245,165,30,0.38)" stroke="#3c3c36" stroke-width="0.7"/><path d="M434.61 668.99A339.5 339.5 0 0 1 431.47 669.86L350.45 371.15A30 30 0 0 0 350.73 371.08Z" fill="rgba(245,165,30,0.38)" stroke="#3c3c36" stroke-width="0.7"/><text x="463.8" y="17.5" font-family="Liberation Serif, serif" font-style="italic" font-size="19" fill="#111">qDFF</text><text x="511" y="19.8" font-family="Liberation Serif, serif" font-style="italic" font-size="13" fill="#111">1.1</text><text x="629" y="140.4" font-family="Liberation Serif, serif" font-style="italic" font-size="19" fill="#111">qTW</text><text x="666" y="142.7" font-family="Liberation Serif, serif" font-style="italic" font-size="13" fill="#111">1.1</text><text x="577.7" y="608.6" font-family="Liberation Serif, serif" font-style="italic" font-size="19" fill="#111">qNPT</text><text x="622.6" y="610.9" font-family="Liberation Serif, serif" font-style="italic" font-size="13" fill="#111">3.1</text><text x="448.2" y="672.8" font-family="Liberation Serif, serif" font-style="italic" font-size="19" fill="#111">qEHL</text><text x="493.7" y="675.1" font-family="Liberation Serif, serif" font-style="italic" font-size="13" fill="#111">3.1</text><rect x="456" y="25" width="0.9" height="3" fill="#666"/><rect x="573" y="590.5" width="1.2" height="1.6" fill="#8a6a30"/><text x="319.7" y="65.2" font-family="Liberation Serif, serif" font-weight="bold" font-size="19.5" fill="#000">A</text><text x="322.4" y="162.7" font-family="Liberation Serif, serif" font-weight="bold" font-size="19.5" fill="#000">B</text><text x="322.8" y="250.7" font-family="Liberation Serif, serif" font-weight="bold" font-size="19.5" fill="#000">C</text></svg></body></html>
